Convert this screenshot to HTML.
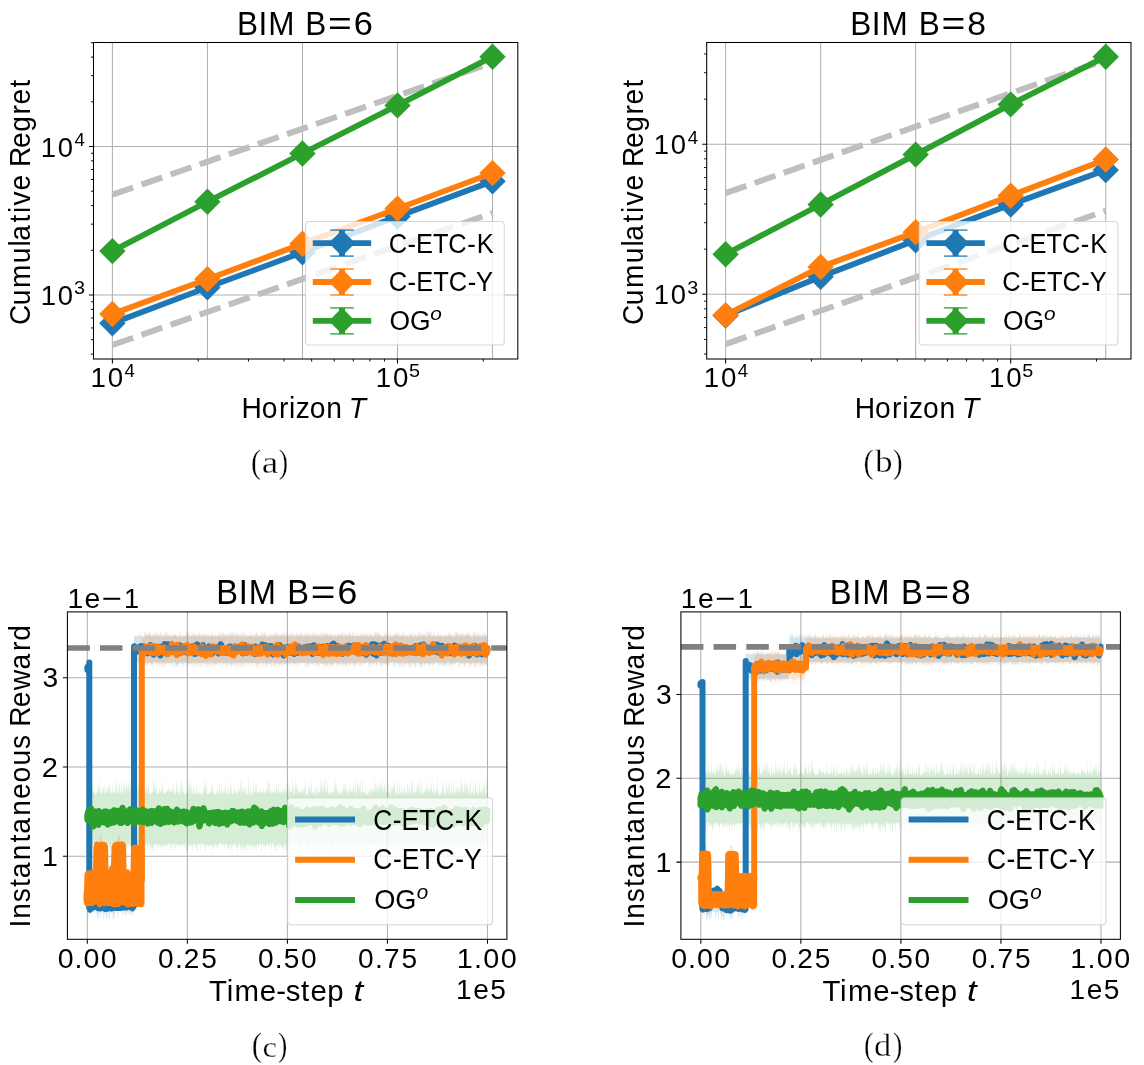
<!DOCTYPE html><html><head><meta charset="utf-8"><style>html,body{margin:0;padding:0;background:#fff;}svg{display:block;will-change:transform;}</style></head><body>
<svg width="1144" height="1065" viewBox="0 0 1144 1065">
<rect width="1144" height="1065" fill="#fff"/>
<line x1="112.4" y1="42.5" x2="112.4" y2="359" stroke="#b0b0b0" stroke-width="1.05"/>
<line x1="207.43" y1="42.5" x2="207.43" y2="359" stroke="#b0b0b0" stroke-width="1.05"/>
<line x1="302.46" y1="42.5" x2="302.46" y2="359" stroke="#b0b0b0" stroke-width="1.05"/>
<line x1="397.49" y1="42.5" x2="397.49" y2="359" stroke="#b0b0b0" stroke-width="1.05"/>
<line x1="492.52" y1="42.5" x2="492.52" y2="359" stroke="#b0b0b0" stroke-width="1.05"/>
<line x1="93.5" y1="146.5" x2="517.8" y2="146.5" stroke="#b0b0b0" stroke-width="1.05"/>
<line x1="93.5" y1="295" x2="517.8" y2="295" stroke="#b0b0b0" stroke-width="1.05"/>
<line x1="112.4" y1="194.7" x2="492.52" y2="62.7" stroke="#bfbfbf" stroke-width="6.0" stroke-dasharray="22 8.8"/>
<line x1="112.4" y1="345" x2="492.52" y2="213" stroke="#bfbfbf" stroke-width="6.0" stroke-dasharray="22 8.8"/>
<polyline points="112.4,323.3 207.43,287.4 302.46,252.4 397.49,216.5 492.52,181.3" fill="none" stroke="#1f77b4" stroke-width="5.8" stroke-linejoin="round"/>
<path d="M112.4 310.1L125.6 323.3L112.4 336.5L99.2 323.3Z" fill="#1f77b4"/>
<path d="M207.43 274.2L220.63 287.4L207.43 300.6L194.23 287.4Z" fill="#1f77b4"/>
<path d="M302.46 239.2L315.66 252.4L302.46 265.6L289.26 252.4Z" fill="#1f77b4"/>
<path d="M397.49 203.3L410.69 216.5L397.49 229.7L384.29 216.5Z" fill="#1f77b4"/>
<path d="M492.52 168.1L505.72 181.3L492.52 194.5L479.32 181.3Z" fill="#1f77b4"/>
<polyline points="112.4,314 207.43,279.1 302.46,243.8 397.49,208.6 492.52,173.1" fill="none" stroke="#ff7f0e" stroke-width="5.8" stroke-linejoin="round"/>
<path d="M112.4 300.8L125.6 314L112.4 327.2L99.2 314Z" fill="#ff7f0e"/>
<path d="M207.43 265.9L220.63 279.1L207.43 292.3L194.23 279.1Z" fill="#ff7f0e"/>
<path d="M302.46 230.6L315.66 243.8L302.46 257L289.26 243.8Z" fill="#ff7f0e"/>
<path d="M397.49 195.4L410.69 208.6L397.49 221.8L384.29 208.6Z" fill="#ff7f0e"/>
<path d="M492.52 159.9L505.72 173.1L492.52 186.3L479.32 173.1Z" fill="#ff7f0e"/>
<polyline points="112.4,251.1 207.43,201.8 302.46,153.5 397.49,105.4 492.52,56.7" fill="none" stroke="#2ca02c" stroke-width="5.8" stroke-linejoin="round"/>
<path d="M112.4 237.9L125.6 251.1L112.4 264.3L99.2 251.1Z" fill="#2ca02c"/>
<path d="M207.43 188.6L220.63 201.8L207.43 215L194.23 201.8Z" fill="#2ca02c"/>
<path d="M302.46 140.3L315.66 153.5L302.46 166.7L289.26 153.5Z" fill="#2ca02c"/>
<path d="M397.49 92.2L410.69 105.4L397.49 118.6L384.29 105.4Z" fill="#2ca02c"/>
<path d="M492.52 43.5L505.72 56.7L492.52 69.9L479.32 56.7Z" fill="#2ca02c"/>
<rect x="93.5" y="42.5" width="424.3" height="316.5" fill="none" stroke="#000" stroke-width="1.05"/>
<path d="M112.4 359v4.5M397.5 359v4.5M93.5 295h-4.5M93.5 146.5h-4.5" stroke="#000" stroke-width="1.05"/>
<path d="M198.22 359v2.6M248.43 359v2.6M284.05 359v2.6M311.68 359v2.6M334.25 359v2.6M353.34 359v2.6M369.87 359v2.6M384.45 359v2.6M483.32 359v2.6M93.5 354.09h-2.6M93.5 339.7h-2.6M93.5 327.94h-2.6M93.5 318h-2.6M93.5 309.39h-2.6M93.5 301.79h-2.6M93.5 250.3h-2.6M93.5 224.15h-2.6M93.5 205.59h-2.6M93.5 191.2h-2.6M93.5 179.44h-2.6M93.5 169.5h-2.6M93.5 160.89h-2.6M93.5 153.29h-2.6M93.5 101.8h-2.6M93.5 75.65h-2.6M93.5 57.09h-2.6M93.5 42.7h-2.6" stroke="#000" stroke-width="0.95"/>
<rect x="305.5" y="221.4" width="198.8" height="123.6" rx="3.5" fill="#fff" fill-opacity="0.8" stroke="#cccccc" stroke-opacity="0.8" stroke-width="1.05"/>
<line x1="312.8" y1="243.1" x2="371.2" y2="243.1" stroke="#1f77b4" stroke-width="5.8"/>
<path d="M342 229.9L355.2 243.1L342 256.3L328.8 243.1Z" fill="#1f77b4"/>
<line x1="342" y1="230.1" x2="342" y2="256.1" stroke="#1f77b4" stroke-width="6.0"/>
<line x1="330.2" y1="230.1" x2="353.8" y2="230.1" stroke="#1f77b4" stroke-width="1.3"/>
<line x1="330.2" y1="256.1" x2="353.8" y2="256.1" stroke="#1f77b4" stroke-width="1.3"/>
<line x1="312.8" y1="282" x2="371.2" y2="282" stroke="#ff7f0e" stroke-width="5.8"/>
<path d="M342 268.8L355.2 282L342 295.2L328.8 282Z" fill="#ff7f0e"/>
<line x1="342" y1="269" x2="342" y2="295" stroke="#ff7f0e" stroke-width="6.0"/>
<line x1="330.2" y1="269" x2="353.8" y2="269" stroke="#ff7f0e" stroke-width="1.3"/>
<line x1="330.2" y1="295" x2="353.8" y2="295" stroke="#ff7f0e" stroke-width="1.3"/>
<line x1="312.8" y1="320.9" x2="371.2" y2="320.9" stroke="#2ca02c" stroke-width="5.8"/>
<path d="M342 307.7L355.2 320.9L342 334.1L328.8 320.9Z" fill="#2ca02c"/>
<line x1="342" y1="307.9" x2="342" y2="333.9" stroke="#2ca02c" stroke-width="6.0"/>
<line x1="330.2" y1="307.9" x2="353.8" y2="307.9" stroke="#2ca02c" stroke-width="1.3"/>
<line x1="330.2" y1="333.9" x2="353.8" y2="333.9" stroke="#2ca02c" stroke-width="1.3"/>
<text transform="translate(0,34.90) scale(0.9613,1)" x="246.51 269.04 279.02 279.02 317.65" y="0" font-size="32.754" font-family='"Liberation Sans", sans-serif'>BIM B</text>
<text transform="translate(0,34.90) scale(1.2446,1)" x="263.61" y="0" font-size="32.754" font-family='"Liberation Sans", sans-serif'>=</text>
<text transform="translate(0,34.90) scale(1.0500,1)" x="336.90" y="0" font-size="32.754" font-family='"Liberation Sans", sans-serif'>6</text>
<text transform="translate(29.90,0) rotate(-90) scale(0.9787,1)" x="-332.11 -311.89 -294.26 -268.95 -251.97 -245.88 -227.44 -217.68 -210.02 -194.67 -194.67 -170.68 -151.21 -134.67 -116.88 -106.86 -89.40" y="0" font-size="28.696" font-family='"Liberation Sans", sans-serif'>Cumulative Regret</text>
<text transform="translate(0,156.50) scale(0.9601,1)" x="42.34 60.09" y="0" font-size="28.551" font-family='"Liberation Sans", sans-serif'>10</text>
<text transform="translate(74.53,146) scale(0.9804,1)" font-size="18.986" font-family='"Liberation Sans", sans-serif'>4</text>
<text transform="translate(0,305.00) scale(0.9601,1)" x="42.34 60.09" y="0" font-size="28.551" font-family='"Liberation Sans", sans-serif'>10</text>
<text transform="translate(74.11,294.32) scale(1.0726,1)" font-size="18.451" font-family='"Liberation Sans", sans-serif'>3</text>
<text transform="translate(0,387.30) scale(0.9750,1)" x="92.95 110.61" y="0" font-size="28.406" font-family='"Liberation Sans", sans-serif'>10</text>
<text transform="translate(124.43,376.9) scale(0.9804,1)" font-size="18.986" font-family='"Liberation Sans", sans-serif'>4</text>
<text transform="translate(0,387.30) scale(0.9750,1)" x="385.37 403.02" y="0" font-size="28.406" font-family='"Liberation Sans", sans-serif'>10</text>
<text transform="translate(409.11,376.71) scale(1.0575,1)" font-size="18.714" font-family='"Liberation Sans", sans-serif'>5</text>
<text transform="translate(0,418.40) scale(0.9584,1)" x="251.99 273.22 291.02 301.55 308.64 323.19 340.36" y="0" font-size="29.420" font-family='"Liberation Sans", sans-serif'>Horizon</text>
<text transform="translate(348.76,418.4) scale(0.9611,1)" font-size="29.420" font-family='"Liberation Sans", sans-serif' font-style="italic" fill="#000">T</text>
<text transform="translate(250.94,472.58) scale(0.8864,1)" font-size="34.066" font-family='"Liberation Serif", serif' stroke="#fff" stroke-width="0.35">(</text>
<text transform="translate(261.79,472.59) scale(1.2152,1)" font-size="30.833" font-family='"Liberation Serif", serif' stroke="#fff" stroke-width="0.35">a</text>
<text transform="translate(278.86,472.58) scale(0.8242,1)" font-size="34.066" font-family='"Liberation Serif", serif' stroke="#fff" stroke-width="0.35">)</text>
<text transform="translate(0,252.80) scale(0.8913,1)" x="436.08 457.17 466.69 485.74 503.02 524.11 534.81" y="0" font-size="28.551" font-family='"Liberation Sans", sans-serif'>C-ETC-K</text>
<text transform="translate(0,291.10) scale(0.9208,1)" x="422.16 442.68 451.98 470.52 487.37 507.88 516.97" y="0" font-size="27.681" font-family='"Liberation Sans", sans-serif'>C-ETC-Y</text>
<text transform="translate(389.41,329.52) scale(0.9440,1)" font-size="28.028" font-family='"Liberation Sans", sans-serif'>OG</text>
<text transform="translate(430.28,319.91) scale(1.1111,1)" font-size="18.727" font-family='"Liberation Sans", sans-serif' font-style="italic">o</text>
<line x1="725.6" y1="42.5" x2="725.6" y2="359" stroke="#b0b0b0" stroke-width="1.05"/>
<line x1="820.63" y1="42.5" x2="820.63" y2="359" stroke="#b0b0b0" stroke-width="1.05"/>
<line x1="915.66" y1="42.5" x2="915.66" y2="359" stroke="#b0b0b0" stroke-width="1.05"/>
<line x1="1010.69" y1="42.5" x2="1010.69" y2="359" stroke="#b0b0b0" stroke-width="1.05"/>
<line x1="1105.72" y1="42.5" x2="1105.72" y2="359" stroke="#b0b0b0" stroke-width="1.05"/>
<line x1="706.7" y1="144.3" x2="1131" y2="144.3" stroke="#b0b0b0" stroke-width="1.05"/>
<line x1="706.7" y1="294.3" x2="1131" y2="294.3" stroke="#b0b0b0" stroke-width="1.05"/>
<line x1="725.6" y1="193.2" x2="1105.72" y2="59.9" stroke="#bfbfbf" stroke-width="6.0" stroke-dasharray="22 8.8"/>
<line x1="725.6" y1="344.1" x2="1105.72" y2="210.8" stroke="#bfbfbf" stroke-width="6.0" stroke-dasharray="22 8.8"/>
<polyline points="725.6,315.6 820.63,276.8 915.66,240.3 1010.69,204.5 1105.72,170.1" fill="none" stroke="#1f77b4" stroke-width="5.8" stroke-linejoin="round"/>
<path d="M725.6 302.4L738.8 315.6L725.6 328.8L712.4 315.6Z" fill="#1f77b4"/>
<path d="M820.63 263.6L833.83 276.8L820.63 290L807.43 276.8Z" fill="#1f77b4"/>
<path d="M915.66 227.1L928.86 240.3L915.66 253.5L902.46 240.3Z" fill="#1f77b4"/>
<path d="M1010.69 191.3L1023.89 204.5L1010.69 217.7L997.49 204.5Z" fill="#1f77b4"/>
<path d="M1105.72 156.9L1118.92 170.1L1105.72 183.3L1092.52 170.1Z" fill="#1f77b4"/>
<polyline points="725.6,315.1 820.63,267 915.66,232.2 1010.69,195.7 1105.72,159.5" fill="none" stroke="#ff7f0e" stroke-width="5.8" stroke-linejoin="round"/>
<path d="M725.6 301.9L738.8 315.1L725.6 328.3L712.4 315.1Z" fill="#ff7f0e"/>
<path d="M820.63 253.8L833.83 267L820.63 280.2L807.43 267Z" fill="#ff7f0e"/>
<path d="M915.66 219L928.86 232.2L915.66 245.4L902.46 232.2Z" fill="#ff7f0e"/>
<path d="M1010.69 182.5L1023.89 195.7L1010.69 208.9L997.49 195.7Z" fill="#ff7f0e"/>
<path d="M1105.72 146.3L1118.92 159.5L1105.72 172.7L1092.52 159.5Z" fill="#ff7f0e"/>
<polyline points="725.6,254.2 820.63,204.5 915.66,154.6 1010.69,104.4 1105.72,56.7" fill="none" stroke="#2ca02c" stroke-width="5.8" stroke-linejoin="round"/>
<path d="M725.6 241L738.8 254.2L725.6 267.4L712.4 254.2Z" fill="#2ca02c"/>
<path d="M820.63 191.3L833.83 204.5L820.63 217.7L807.43 204.5Z" fill="#2ca02c"/>
<path d="M915.66 141.4L928.86 154.6L915.66 167.8L902.46 154.6Z" fill="#2ca02c"/>
<path d="M1010.69 91.2L1023.89 104.4L1010.69 117.6L997.49 104.4Z" fill="#2ca02c"/>
<path d="M1105.72 43.5L1118.92 56.7L1105.72 69.9L1092.52 56.7Z" fill="#2ca02c"/>
<rect x="706.7" y="42.5" width="424.3" height="316.5" fill="none" stroke="#000" stroke-width="1.05"/>
<path d="M725.6 359v4.5M1010.7 359v4.5M706.7 294.3h-4.5M706.7 144.3h-4.5" stroke="#000" stroke-width="1.05"/>
<path d="M811.42 359v2.6M861.63 359v2.6M897.25 359v2.6M924.88 359v2.6M947.45 359v2.6M966.54 359v2.6M983.07 359v2.6M997.65 359v2.6M1096.52 359v2.6M706.7 353.99h-2.6M706.7 339.45h-2.6M706.7 327.58h-2.6M706.7 317.54h-2.6M706.7 308.84h-2.6M706.7 301.16h-2.6M706.7 249.15h-2.6M706.7 222.73h-2.6M706.7 203.99h-2.6M706.7 189.45h-2.6M706.7 177.58h-2.6M706.7 167.54h-2.6M706.7 158.84h-2.6M706.7 151.16h-2.6M706.7 99.15h-2.6M706.7 72.73h-2.6M706.7 53.99h-2.6" stroke="#000" stroke-width="0.95"/>
<rect x="919.1" y="221.4" width="198.8" height="123.6" rx="3.5" fill="#fff" fill-opacity="0.8" stroke="#cccccc" stroke-opacity="0.8" stroke-width="1.05"/>
<line x1="926.4" y1="243.1" x2="984.8" y2="243.1" stroke="#1f77b4" stroke-width="5.8"/>
<path d="M955.6 229.9L968.8 243.1L955.6 256.3L942.4 243.1Z" fill="#1f77b4"/>
<line x1="955.6" y1="230.1" x2="955.6" y2="256.1" stroke="#1f77b4" stroke-width="6.0"/>
<line x1="943.8" y1="230.1" x2="967.4" y2="230.1" stroke="#1f77b4" stroke-width="1.3"/>
<line x1="943.8" y1="256.1" x2="967.4" y2="256.1" stroke="#1f77b4" stroke-width="1.3"/>
<line x1="926.4" y1="282" x2="984.8" y2="282" stroke="#ff7f0e" stroke-width="5.8"/>
<path d="M955.6 268.8L968.8 282L955.6 295.2L942.4 282Z" fill="#ff7f0e"/>
<line x1="955.6" y1="269" x2="955.6" y2="295" stroke="#ff7f0e" stroke-width="6.0"/>
<line x1="943.8" y1="269" x2="967.4" y2="269" stroke="#ff7f0e" stroke-width="1.3"/>
<line x1="943.8" y1="295" x2="967.4" y2="295" stroke="#ff7f0e" stroke-width="1.3"/>
<line x1="926.4" y1="320.9" x2="984.8" y2="320.9" stroke="#2ca02c" stroke-width="5.8"/>
<path d="M955.6 307.7L968.8 320.9L955.6 334.1L942.4 320.9Z" fill="#2ca02c"/>
<line x1="955.6" y1="307.9" x2="955.6" y2="333.9" stroke="#2ca02c" stroke-width="6.0"/>
<line x1="943.8" y1="307.9" x2="967.4" y2="307.9" stroke="#2ca02c" stroke-width="1.3"/>
<line x1="943.8" y1="333.9" x2="967.4" y2="333.9" stroke="#2ca02c" stroke-width="1.3"/>
<text transform="translate(0,34.90) scale(0.9628,1)" x="883.01 905.53 915.51 915.51 954.14" y="0" font-size="32.754" font-family='"Liberation Sans", sans-serif'>BIM B</text>
<text transform="translate(0,34.90) scale(1.2466,1)" x="755.19" y="0" font-size="32.754" font-family='"Liberation Sans", sans-serif'>=</text>
<text transform="translate(0,34.90) scale(1.0299,1)" x="939.19" y="0" font-size="32.754" font-family='"Liberation Sans", sans-serif'>8</text>
<text transform="translate(643.10,0) rotate(-90) scale(0.9787,1)" x="-332.11 -311.89 -294.26 -268.95 -251.97 -245.88 -227.44 -217.68 -210.02 -194.67 -194.67 -170.68 -151.21 -134.67 -116.88 -106.86 -89.40" y="0" font-size="28.696" font-family='"Liberation Sans", sans-serif'>Cumulative Regret</text>
<text transform="translate(0,154.30) scale(0.9601,1)" x="680.99 698.74" y="0" font-size="28.551" font-family='"Liberation Sans", sans-serif'>10</text>
<text transform="translate(687.73,143.8) scale(0.9804,1)" font-size="18.986" font-family='"Liberation Sans", sans-serif'>4</text>
<text transform="translate(0,304.30) scale(0.9601,1)" x="680.99 698.74" y="0" font-size="28.551" font-family='"Liberation Sans", sans-serif'>10</text>
<text transform="translate(687.31,293.62) scale(1.0726,1)" font-size="18.451" font-family='"Liberation Sans", sans-serif'>3</text>
<text transform="translate(0,387.30) scale(0.9750,1)" x="721.88 739.54" y="0" font-size="28.406" font-family='"Liberation Sans", sans-serif'>10</text>
<text transform="translate(737.63,376.9) scale(0.9804,1)" font-size="18.986" font-family='"Liberation Sans", sans-serif'>4</text>
<text transform="translate(0,387.30) scale(0.9750,1)" x="1014.29 1031.95" y="0" font-size="28.406" font-family='"Liberation Sans", sans-serif'>10</text>
<text transform="translate(1022.31,376.71) scale(1.0575,1)" font-size="18.714" font-family='"Liberation Sans", sans-serif'>5</text>
<text transform="translate(0,418.40) scale(0.9584,1)" x="891.79 913.02 930.82 941.35 948.44 962.99 980.16" y="0" font-size="29.420" font-family='"Liberation Sans", sans-serif'>Horizon</text>
<text transform="translate(961.96,418.4) scale(0.9611,1)" font-size="29.420" font-family='"Liberation Sans", sans-serif' font-style="italic" fill="#000">T</text>
<text transform="translate(863.62,472.58) scale(0.8979,1)" font-size="34.066" font-family='"Liberation Serif", serif' stroke="#fff" stroke-width="0.35">(</text>
<text transform="translate(874.9,472.29) scale(1.1286,1)" font-size="31.206" font-family='"Liberation Serif", serif' stroke="#fff" stroke-width="0.35">b</text>
<text transform="translate(893.03,472.58) scale(0.8468,1)" font-size="34.066" font-family='"Liberation Serif", serif' stroke="#fff" stroke-width="0.35">)</text>
<text transform="translate(0,252.80) scale(0.8913,1)" x="1124.51 1145.60 1155.12 1174.16 1191.45 1212.54 1223.23" y="0" font-size="28.551" font-family='"Liberation Sans", sans-serif'>C-ETC-K</text>
<text transform="translate(0,291.10) scale(0.9208,1)" x="1088.57 1109.09 1118.38 1136.93 1153.77 1174.29 1183.38" y="0" font-size="27.681" font-family='"Liberation Sans", sans-serif'>C-ETC-Y</text>
<text transform="translate(1003.01,329.52) scale(0.9440,1)" font-size="28.028" font-family='"Liberation Sans", sans-serif'>OG</text>
<text transform="translate(1043.88,319.91) scale(1.1111,1)" font-size="18.727" font-family='"Liberation Sans", sans-serif' font-style="italic">o</text>
<line x1="87.3" y1="611.9" x2="87.3" y2="939.3" stroke="#b0b0b0" stroke-width="1.05"/>
<line x1="187.35" y1="611.9" x2="187.35" y2="939.3" stroke="#b0b0b0" stroke-width="1.05"/>
<line x1="287.4" y1="611.9" x2="287.4" y2="939.3" stroke="#b0b0b0" stroke-width="1.05"/>
<line x1="387.45" y1="611.9" x2="387.45" y2="939.3" stroke="#b0b0b0" stroke-width="1.05"/>
<line x1="487.5" y1="611.9" x2="487.5" y2="939.3" stroke="#b0b0b0" stroke-width="1.05"/>
<line x1="67.4" y1="856.2" x2="506.9" y2="856.2" stroke="#b0b0b0" stroke-width="1.05"/>
<line x1="67.4" y1="766.95" x2="506.9" y2="766.95" stroke="#b0b0b0" stroke-width="1.05"/>
<line x1="67.4" y1="677.7" x2="506.9" y2="677.7" stroke="#b0b0b0" stroke-width="1.05"/>
<path d="M87.3 786.6l.5 5.5l.5 1.3l.5-1.2l.5-1.6l.5 3.1l.5-14.3l.5 14.4l.5-8l.5 9.1l.5-13.7l.5 12.2l.5-3.1l.5 2.3l.5-1.8l.5 2.8l.5-.1l.5 .3l.5-1.3l.5 1.7l.5-13l.5 13l.5-7l.5 4.9l.5-16.1l.5 16.8l.5-6.8l.5 8.2l.5-1.1l.5-1l.5-5.6l.5 8.2l.5-10.5l.5 8.5l.5-8.3l.5 7.8l.5 2.5l.5-1.3l.5-5.7l.5 7.1l.5-11l.5 8.6l.5-7.5l.5 9.3l.5-15.1l.5 14.4l.5-6.9l.5 6.1l.5 .6l.5-.8l.5-9.7l.5 9.8l.5 .1l.5-.1l.5 .1l.5 2.1l.5-16.1l.5 13.7l.5-14.3l.5 15.5l.5-2.3l.5 3.7l.5-11.3l.5 9.1l.5-13.6l.5 15l.5-1.9l.5 .8l.5-13.2l.5 12.2l.5 1.2l.5 .3l.5-15.9l.5 16l.5-8.8l.5 10l.5-11.9l.5 9.2l.5-12.8l.5 12.9l.5-9l.5 11l.5-13.5l.5 13.6l.5-15.1l.5 15.5l.5-15.4l.5 15.1l.5-5.1l.5 4.6l.5-11.4l.5 11.9l.5-5.5l.5 6l.5-3.5l.5 2.2l.5 .2l.5-.8l.5-3.8l.5 3.5l.5-9.3l.5 10.2l.5-15.3l.5 14.7l.5-13.3l.5 14.2l.5-8.1l.5 8.5l.5-19.3l.5 19.2l.5-2.7l.5 3.2l.5-3.2l.5 1.1l.5-10.2l.5 12.1l.5-5.2l.5 4.3l.5-10.5l.5 10.4l.5-8.6l.5 7.5l.5-10.7l.5 12.1l.5-6l.5 6l.5 0l.5 .5l.5-3.3l.5 3l.5-3.5l.5 2.7l.5-17.6l.5 17l.5-12.4l.5 12.4l.5-7.9l.5 7.4l.5-9.5l.5 10.8l.5 .8l.5-.8l.5-1.2l.5 2.3l.5-7.9l.5 5.9l.5-1.7l.5 1.8l.5-6.4l.5 8.3l.5-18.7l.5 17.9l.5-2.9l.5 1.6l.5 1.2l.5-.9l.5-.1l.5 1.1l.5-1.8l.5 .5l.5-3.4l.5 3l.5-8l.5 8.8l.5-6.5l.5 7.7l.5-5.1l.5 3.2l.5 .3l.5-.5l.5-11l.5 12.9l.5-10.1l.5 10.1l.5-4.6l.5 4.2l.5 1.4l.5-1.4l.5-17.8l.5 18.4l.5-12.8l.5 12.4l.5-1.3l.5-.1l.5 2.6l.5-.8l.5-19.1l.5 19.2l.5-15.4l.5 14.4l.5-13.3l.5 13.2l.5-3.5l.5 3.1l.5 2.1l.5-1.1l.5-4.2l.5 4.1l.5 0l.5 .7l.5-8.8l.5 8.3l.5-13.6l.5 13l.5-14.7l.5 14.3l.5-8.1l.5 9.4l.5-13.6l.5 13.7l.5 .1l.5-2.2l.5-6.1l.5 6.7l.5-6.4l.5 6.9l.5 1.6l.5-.4l.5-11.4l.5 10.3l.5-.1l.5-1.1l.5 1.1l.5 .3l.5-.1l.5-.6l.5-1.6l.5 3.4l.5 0l.5-.1l.5-1.8l.5 .7l.5-5.5l.5 4.2l.5-15.9l.5 16.4l.5-9.5l.5 9.4l.5-15.9l.5 18.3l.5-1.1l.5 .1l.5 .2l.5-.9l.5-1.7l.5 2.7l.5-3.2l.5 3.7l.5-13.2l.5 11.5l.5-8.4l.5 10.3l.5-6.6l.5 4.6l.5 .3l.5 .6l.5 1.1l.5-.1l.5-2.5l.5 1.5l.5-6.2l.5 4.7l.5-1.8l.5 4.4l.5-15.5l.5 15.4l.5-.7l.5-2l.5-10.9l.5 12.8l.5-.4l.5 .2l.5-3.7l.5 2.3l.5-3.9l.5 6.3l.5-17.9l.5 16.2l.5 .7l.5 .9l.5-7.1l.5 7.1l.5-10.7l.5 9.2l.5 1.6l.5-2.2l.5-12.2l.5 11.9l.5-9.2l.5 9.8l.5 .2l.5 1.8l.5-.5l.5-2.3l.5-8.4l.5 8.5l.5-2.3l.5 2.8l.5 1.7l.5 .1l.5-3.3l.5 2.1l.5-7.7l.5 7.9l.5-5.1l.5 4.9l.5-17.4l.5 17.7l.5-14.5l.5 15.7l.5-5.6l.5 4.1l.5-9.1l.5 10l.5-5.3l.5 3.3l.5-8.6l.5 9.6l.5 1.2l.5 .4l.5-2.5l.5 2.3l.5-19.2l.5 19.6l.5-5.4l.5 5.2l.5-11l.5 11.1l.5-.5l.5 .4l.5-3.5l.5 2l.5-13.4l.5 14.3l.5-3.1l.5 1.4l.5-11.2l.5 13.3l.5-14.7l.5 12.6l.5 .4l.5 .2l.5-.5l.5 1.7l.5-7.3l.5 6.4l.5-6.1l.5 6.1l.5-1.1l.5 .4l.5-1.5l.5 1.1l.5-5.7l.5 7.5l.5-1.2l.5 .6l.5-4.1l.5 3.7l.5-6.2l.5 8l.5-15.7l.5 15.6l.5-15.4l.5 13.2l.5-15.6l.5 16l.5 .1l.5 .6l.5-5.6l.5 5l.5-3.8l.5 3.7l.5-.5l.5 1.4l.5-7.9l.5 7.7l.5 0l.5-1.6l.5-9.5l.5 9.9l.5-2.8l.5 2.5l.5-12.5l.5 12.4l.5 .5l.5 1l.5-4.4l.5 4l.5-1.5l.5 3l.5-7.3l.5 5.7l.5-3.9l.5 2.8l.5-3.2l.5 5.3l.5-14.4l.5 13.9l.5-2.3l.5 2.8l.5-17.7l.5 15.7l.5-8.4l.5 10.5l.5-12l.5 12.1l.5-3.9l.5 3l.5-4.5l.5 5l.5-18.2l.5 18.8l.5-10.1l.5 10.5l.5-.8l.5 .3l.5-19.2l.5 17.6l.5-14.4l.5 16.5l.5-12l.5 10.8l.5-5.1l.5 4.3l.5-2.2l.5 2.8l.5-2l.5 2.3l.5-7.6l.5 8.3l.5-3.3l.5 2.5l.5-6.3l.5 5.2l.5-8.9l.5 9.6l.5-15l.5 16.1l.5-.5l.5-.1l.5-.3l.5-.2l.5-8l.5 9.3l.5-12.6l.5 11.3l.5-4.8l.5 3.7l.5-13.5l.5 15.6l.5-1.2l.5-.8l.5 .9l.5-.5l.5-2.1l.5 3.3l.5-8.2l.5 6.5l.5 2.8l.5-.5l.5-12.6l.5 11.9l.5-2.8l.5 1.1l.5-.6l.5 1.4l.5-17l.5 16.8l.5-10.5l.5 10.6l.5-12.9l.5 14.3l.5-10.1l.5 8.5l.5-14.7l.5 14.4l.5-14.8l.5 17.2l.5-5.3l.5 4.2l.5-15.8l.5 15.9l.5-2.3l.5 3.5l.5-3.9l.5 1.7l.5 2.2l.5-.4l.5-3.9l.5 2.8l.5-3.8l.5 2.8l.5 0l.5 .9l.5-12.7l.5 11.6l.5-14l.5 16.4l.5-14.4l.5 12.8l.5-4.5l.5 6.4l.5-1.9l.5-.2l.5 1.4l.5-.1l.5-2.5l.5 1.2l.5-3.1l.5 5l.5-5.2l.5 4.5l.5-12l.5 12l.5-11.4l.5 10.8l.5-15.5l.5 14.9l.5-4l.5 4.7l.5-6l.5 4.9l.5 1.1l.5 .2l.5-7.6l.5 7.6l.5-9l.5 8.8l.5-4.8l.5 4.2l.5-2.6l.5 2.9l.5-11.5l.5 12.9l.5-4.3l.5 1.9l.5-16.3l.5 16.1l.5 2.7l.5-2.2l.5-15.8l.5 15.6l.5-10.2l.5 10.9l.5-11l.5 11.3l.5-13l.5 13.2l.5-1.4l.5 2.6l.5-17.3l.5 15.3l.5 .2l.5-.4l.5-1.7l.5 2.3l.5-3.3l.5 4.6l.5-1.5l.5 1.9l.5-.5l.5 .5l.5-.7l.5-1.6l.5-6l.5 8.1l.5-8.3l.5 7.1l.5-6.5l.5 7.5l.5-6.2l.5 4.2l.5-3.2l.5 4.3l.5-16.7l.5 17.5l.5-12.5l.5 11.7l.5-13.2l.5 13.6l.5-7.9l.5 7.9l.5-15.5l.5 13.9l.5-8.3l.5 8.1l.5-10.4l.5 10.8l.5-14.8l.5 16.5l.5-18.9l.5 18.5l.5-6.9l.5 7.6l.5-15l.5 14.5l.5-11.3l.5 11.6l.5-4.4l.5 3.9l.5-1.9l.5 3l.5-14.1l.5 11.3l.5 0l.5 2.4l.5-4.6l.5 4.9l.5-11.2l.5 10.3l.5-8.4l.5 6.8l.5-13.8l.5 13.7l.5-15.5l.5 16.5l.5-6.4l.5 8.1l.5-.9l.5-.6l.5-14.7l.5 15l.5 1.3l.5-.6l.5-13.4l.5 13.5l.5-2l.5 1.6l.5-9.6l.5 8l.5-.3l.5 1l.5-7l.5 7.5l.5-8.6l.5 7.5l.5-.4l.5 1.3l.5 .5l.5-.5l.5-13.2l.5 11.7l.5-4.6l.5 6.7l.5-8.9l.5 8.7l.5-.1l.5-.4l.5-13.3l.5 12.2l.5-16.7l.5 18.3l.5-2.2l.5 3l.5-6.5l.5 4.4l.5-.6l.5 .5l.5-10.4l.5 12.3l.5-10.4l.5 8.5l.5-15.8l.5 17.8l.5-15l.5 13.2l.5-.9l.5 2.3l.5-18l.5 17.8l.5-2.9l.5 1.8l.5 .7l.5 .1l.5-3.9l.5 3.7l.5-8.8l.5 8.5l.5-4.8l.5 4l.5-13.1l.5 13l.5-4.2l.5 4.8l.5-4.5l.5 5.9l.5-10.7l.5 8.7l.5-12.3l.5 14.2l.5-2l.5 .6l.5-10.4l.5 10.1l.5 1l.5-1l.5-4.1l.5 5.9l.5-4.2l.5 2l.5-15.9l.5 18.6l.5-4.2l.5 2.3l.5 1.9l.5 .2l.5-.3l.5-2.2l.5-2.2l.5 3.8l.5-13.8l.5 13.8l.5-12.5l.5 12.4l.5-3l.5 2.9l.5-.8l.5 1.8l.5-16.5l.5 14.1l.5-4.7l.5 5.2l.5-14.4l.5 15.3l.5-11.7l.5 10.6l.5 1.6l.5 .3l.5-13.4l.5 11.7l.5-.1l.5-.3l.5-12.5l.5 14l.5-3.9l.5 4.6l.5-6.7l.5 6.7l.5-8.8l.5 7.2l.5-8l.5 9.7l.5-10.6l.5 8.5l.5 .7l.5-.2l.5-13.6l.5 14.8l.5-17.2l.5 14.9l.5-10l.5 10.3l.5-1.1l.5 1.7l.5-16.1l.5 18l.5-15.4l.5 14.8l.5-14.3l.5 13.1l.5-13.1l.5 13.8l.5-5.9l.5 4.3l.5 2.2l.5 .1l.5-18.8l.5 16.6l.5 1l.5-1.2l.5-.7l.5 .9l.5-14.9l.5 17.5l.5 .1l.5-1l.5-17.2l.5 15.8l.5-3.4l.5 3.2l.5-1.7l.5 3.3l.5-1.3l.5-.6l.5-12.2l.5 13.7l.5-2.1l.5 .6l.5-3.1l.5 5.4l.5-6l.5 4.4l.5-12.1l.5 14l.5-18.3l.5 16.6l.5 1.5l.5-2l.5-16.8l.5 16.8l.5 2.5l0 51.5l-.5-3.4l-.5 .1l-.5 .8l-.5-.9l-.5 .1l-.5 5.2l-.5-3.8l-.5-.5l-.5 0l-.5 .1l-.5-.6l-.5 10.1l-.5-10.1l-.5 6.1l-.5-5.6l-.5 5.6l-.5-5.3l-.5 1.7l-.5-2.9l-.5 4.7l-.5-4l-.5 7.1l-.5-6.5l-.5 6l-.5-7l-.5 10.2l-.5-10.7l-.5 6.8l-.5-5.6l-.5 4l-.5-5l-.5 3.2l-.5-3.1l-.5 10.1l-.5-9.9l-.5 8.4l-.5-7.4l-.5 8.5l-.5-9l-.5 0l-.5 .1l-.5 6.1l-.5-6.6l-.5 1.7l-.5-1.2l-.5 .9l-.5-1.4l-.5-.6l-.5 .4l-.5 5.3l-.5-5.7l-.5 1.7l-.5-1l-.5 6l-.5-5.7l-.5 5l-.5-5.5l-.5 4.1l-.5-4.3l-.5 6.3l-.5-6l-.5 1.7l-.5-.8l-.5 4.1l-.5-4.9l-.5 2.3l-.5-2.9l-.5 8.2l-.5-7.6l-.5 4.2l-.5-4.4l-.5 9.5l-.5-9.7l-.5 5.5l-.5-4.2l-.5 3.9l-.5-4.5l-.5 4.4l-.5-5.3l-.5 6.3l-.5-6.3l-.5 9.6l-.5-8.4l-.5-1.3l-.5 .2l-.5 4.5l-.5-4.7l-.5 4l-.5-3.1l-.5 4.7l-.5-5.5l-.5 1.8l-.5-1.7l-.5-.1l-.5 0l-.5 .3l-.5 .8l-.5 4.6l-.5-4.9l-.5 8.4l-.5-8.3l-.5 4.2l-.5-5l-.5 7.6l-.5-6.3l-.5 8.2l-.5-8.8l-.5 7.9l-.5-7.2l-.5 4.7l-.5-5.6l-.5 5.9l-.5-5.4l-.5-.4l-.5-.4l-.5 10.1l-.5-9.2l-.5 2.9l-.5-3.5l-.5 9.8l-.5-10.3l-.5 5l-.5-3.8l-.5-.1l-.5 0l-.5 3.8l-.5-4.7l-.5 10.6l-.5-10.1l-.5 5.3l-.5-5.6l-.5 8.6l-.5-9l-.5 2.8l-.5-2.3l-.5 7.8l-.5-7.8l-.5 9.7l-.5-9l-.5 4.2l-.5-4.7l-.5-.4l-.5-.5l-.5 1l-.5 .5l-.5 1.5l-.5-2l-.5 1.6l-.5-1.5l-.5 1.3l-.5-2.3l-.5 9.5l-.5-9.6l-.5 1.9l-.5-1.5l-.5 7.3l-.5-7.3l-.5 3.8l-.5-3.8l-.5 7.9l-.5-8.1l-.5 5.8l-.5-5.2l-.5-.5l-.5 .9l-.5-.8l-.5 1l-.5 .2l-.5-1.4l-.5 6.2l-.5-6.3l-.5 9l-.5-8.2l-.5 .9l-.5-1.1l-.5 3.8l-.5-2.9l-.5-.2l-.5-.2l-.5-.6l-.5 1l-.5 1.1l-.5-2l-.5 5l-.5-5.6l-.5 7.1l-.5-6.1l-.5 3.9l-.5-4.8l-.5 10.2l-.5-9.6l-.5 2.1l-.5-2.3l-.5 8.7l-.5-7.7l-.5 2l-.5-2.3l-.5 .5l-.5-.4l-.5 6l-.5-6.6l-.5 1.5l-.5-1.1l-.5 6.7l-.5-7.9l-.5 5.2l-.5-4.3l-.5 3.1l-.5-3.9l-.5 5.3l-.5-4.8l-.5-.1l-.5 0l-.5-.2l-.5-.1l-.5 7.2l-.5-6.8l-.5 4l-.5-3.9l-.5 2.3l-.5-2.9l-.5 8.5l-.5-7.6l-.5 4.6l-.5-5.3l-.5-.3l-.5 1.3l-.5 3.9l-.5-4.1l-.5 .7l-.5-1.2l-.5 1.1l-.5-.1l-.5-1.3l-.5 .1l-.5 .3l-.5-.1l-.5 3.5l-.5-3.7l-.5 6.8l-.5-5.7l-.5 8.2l-.5-9.4l-.5 .8l-.5 0l-.5-1.1l-.5 1.2l-.5-.2l-.5-.1l-.5 5.5l-.5-5.1l-.5 4.7l-.5-4.9l-.5-.7l-.5-.2l-.5 1l-.5-.3l-.5 9.8l-.5-10.4l-.5 8.9l-.5-7.8l-.5 7.7l-.5-8l-.5-1.1l-.5 .8l-.5 .8l-.5-.5l-.5 2.1l-.5-2.3l-.5 1.3l-.5-1.8l-.5-.4l-.5 .6l-.5 6.8l-.5-6.4l-.5 5.4l-.5-5.6l-.5 .3l-.5-.6l-.5 3.9l-.5-3.8l-.5 4.1l-.5-3.6l-.5 8.1l-.5-7.7l-.5 5.3l-.5-5.2l-.5 5.8l-.5-7.3l-.5 1.4l-.5-.9l-.5 0l-.5-.3l-.5 3.3l-.5-2.9l-.5 8.8l-.5-7.9l-.5 2.5l-.5-2.8l-.5 7.9l-.5-8.6l-.5 7l-.5-6l-.5-1.5l-.5 .4l-.5 2.7l-.5-2.1l-.5 9.8l-.5-9.9l-.5 5.7l-.5-5.2l-.5 5.8l-.5-6.1l-.5 1.7l-.5-2.3l-.5 0l-.5-.3l-.5-.2l-.5 1.2l-.5 6.3l-.5-7l-.5 3.4l-.5-3.5l-.5 1.8l-.5-1.6l-.5 2l-.5-2.2l-.5 .4l-.5-.9l-.5 3.2l-.5-2.8l-.5-.3l-.5 .6l-.5 8.5l-.5-8.9l-.5 3.8l-.5-2.7l-.5 1l-.5-1.5l-.5-.4l-.5 .3l-.5-.2l-.5 .8l-.5 5.5l-.5-6.1l-.5 9.2l-.5-8.9l-.5 7l-.5-7.2l-.5 1.7l-.5-1.2l-.5-1.3l-.5 .1l-.5-.1l-.5 .8l-.5-.5l-.5 1l-.5 5.1l-.5-5.4l-.5 7.5l-.5-7.5l-.5 3.9l-.5-3.7l-.5 5.4l-.5-5.8l-.5 0l-.5 .7l-.5-1.5l-.5 .8l-.5 4.6l-.5-4.7l-.5 8.8l-.5-8.1l-.5 8.1l-.5-8.7l-.5 9.3l-.5-9.6l-.5 3.5l-.5-3.8l-.5 1.3l-.5-1.1l-.5 5.6l-.5-6.1l-.5 1.4l-.5-.1l-.5 8.7l-.5-9.8l-.5 .3l-.5-.2l-.5 7.3l-.5-6.8l-.5 .9l-.5-.1l-.5 5.8l-.5-6.5l-.5 5.3l-.5-6.1l-.5 7.7l-.5-7.7l-.5 1.1l-.5-.5l-.5 10l-.5-9.7l-.5 8l-.5-8.8l-.5 .7l-.5 .5l-.5 9.2l-.5-9.7l-.5 6.6l-.5-6.8l-.5 5.6l-.5-5.3l-.5 1.8l-.5-2.5l-.5 5.6l-.5-4.4l-.5-1.2l-.5 .9l-.5 9.7l-.5-10.1l-.5 1.8l-.5-1l-.5 8l-.5-8.2l-.5 4.3l-.5-4.8l-.5 3.7l-.5-4.5l-.5 0l-.5 1.2l-.5 8.6l-.5-8.8l-.5-.8l-.5-.1l-.5 3.7l-.5-3.1l-.5 5.4l-.5-4.6l-.5-1.5l-.5 .9l-.5 2.1l-.5-3l-.5 8l-.5-7l-.5 3.2l-.5-3.7l-.5 4.1l-.5-4l-.5 .1l-.5-.5l-.5 9.8l-.5-9.3l-.5-.5l-.5 .8l-.5 2.5l-.5-2.7l-.5 4.5l-.5-4.2l-.5-.3l-.5 .2l-.5 8.3l-.5-8.6l-.5 7.3l-.5-7.8l-.5 5.4l-.5-4.4l-.5 2.1l-.5-2.3l-.5 7.5l-.5-7.9l-.5 3.1l-.5-3.5l-.5 9.7l-.5-8.5l-.5 .4l-.5-1.6l-.5 4l-.5-3.7l-.5 1.3l-.5-1.4l-.5 10.2l-.5-10.2l-.5 9.1l-.5-9.2l-.5 7.4l-.5-7.1l-.5 7.6l-.5-6.8l-.5 8.9l-.5-9.1l-.5 4.1l-.5-4.4l-.5 7.6l-.5-7.5l-.5-.1l-.5-.8l-.5 5.5l-.5-5.3l-.5 10.6l-.5-9.8l-.5 5.5l-.5-5.1l-.5 2.1l-.5-3.1l-.5 .2l-.5 .4l-.5 1.9l-.5-2.2l-.5 4.4l-.5-4.9l-.5 10l-.5-9.2l-.5 .4l-.5-1.1l-.5 8l-.5-7.4l-.5 6.3l-.5-6.5l-.5 8.5l-.5-8l-.5-.2l-.5-.4l-.5-.6l-.5 .9l-.5 7.1l-.5-7.4l-.5 1.5l-.5-2l-.5 3.3l-.5-2.7l-.5 .7l-.5-1.5l-.5 0l-.5 .1l-.5 1.7l-.5-.9l-.5 5.3l-.5-5l-.5 3.9l-.5-4.9l-.5 6.7l-.5-6.6l-.5 .8l-.5-.3l-.5 6.4l-.5-5.9l-.5 2.5l-.5-2.5l-.5 8.9l-.5-8.9l-.5 1.6l-.5-2.3l-.5 2.2l-.5-1.4l-.5 4.9l-.5-4.9l-.5 1.7l-.5-1.6l-.5 .9l-.5-1.6l-.5 3.1l-.5-2.8l-.5 9.3l-.5-9.7l-.5 3.5l-.5-4l-.5 2.2l-.5-1.1l-.5-1l-.5 1.1l-.5 .2l-.5-1.1l-.5 8.3l-.5-8.3l-.5 .4l-.5 .2l-.5 1.1l-.5-2.3l-.5 9.6l-.5-8.9l-.5 5l-.5-4.1l-.5 4.4l-.5-5l-.5-.8l-.5 .3l-.5 2.9l-.5-3l-.5 9.8l-.5-9.1l-.5 3.3l-.5-3.2l-.5 .5l-.5-.6l-.5 3l-.5-3.3l-.5 4.2l-.5-3.8l-.5 9.3l-.5-9.6l-.5 9.6l-.5-9.1l-.5-1.3l-.5 1.4l-.5 3.7l-.5-5l-.5 1.4l-.5-1l-.5 4.8l-.5-4.6l-.5 1.4l-.5-.9l-.5 3.8l-.5-4.7l-.5 5.3l-.5-5.2l-.5 1.8l-.5-.9l-.5 1.6l-.5-2.9l-.5 3.7l-.5-2.8l-.5 9l-.5-9.6l-.5 1.4l-.5-.8l-.5-.7l-.5 .6l-.5 8.8l-.5-8.1l-.5 0l-.5-1.2l-.5 9.5l-.5-9.1l-.5 .6l-.5 .2l-.5-1.4l-.5 1l-.5 1.7l-.5-1.7l-.5 1.3l-.5-2.1l-.5 4.8l-.5-4.3l-.5 5.2l-.5-5.7l-.5 1.8l-.5-.8l-.5 6.7l-.5-6.8l-.5 3.4l-.5-4.1l-.5 5.8l-.5-4.8l-.5 .6l-.5-2l-.5 5.5l-.5-5l-.5 8.1l-.5-8l-.5 0l-.5 .5l-.5 1.5l-.5-1.8l-.5 1.4l-.5-1.3l-.5 9.2l-.5-8.7l-.5 7.8l-.5-7.8l-.5 3.8l-.5-4.4l-.5 9.8l-.5-10l-.5 0l-.5-.2l-.5 4l-.5-3.6l-.5 7.6l-.5-8.2l-.5-.1l-.5 1l-.5 1.2l-.5-1.7l-.5 3.2l-.5-3.4l-.5 8.7l-.5-8.7l-.5 .9l-.5-1.3l-.5 7.8l-.5-6.5l-.5 3.2l-.5-3.1l-.5 .9l-.5-2.2l-.5 10.1l-.5-10l-.5 5.7l-.5-6.1l-.5 .9l-.5-.2l-.5 8.4l-.5-8.6l-.5 6.2l-.5-5.8l-.5 5.3l-.5-5l-.5 2.1l-.5-1.7l-.5 8.5l-.5-8.7l-.5 7.1l-.5-6.9l-.5-.9l-.5-.5l-.5 6.2l-.5-5.5l-.5 4.7l-.5-5.2l-.5 6.3l-.5-5.7l-.5 3.1l-.5-3.6l-.5 10.5l-.5-10l-.5 1.6l-.5-2.2l-.5 7.4l-.5-7.7l-.5 2.3l-.5-1l-.5 8.6l-.5-9.4l-.5 6.2l-.5-6l-.5-.1l-.5-.2l-.5 1l-.5-1.1l-.5-.2l-.5 .5l-.5-.6l-.5 .5l-.5 .7l-.5-.9l-.5 5.9l-.5-6l-.5 .6l-.5 .5l-.5 5.6l-.5-6.4l-.5 8.5l-.5-7.7l-.5 6.1l-.5-7l-.5 1.3l-.5-.9l-.5-.3l-.5-.5l-.5 2.1l-.5-1.9l-.5-.2l-.5 .6l-.5 9.2l-.5-8.7l-.5 8.2l-.5-8.2l-.5 6.5l-.5-6.5l-.5 3.4l-.5-4.6l-.5 6.3l-.5-5.2l-.5-.3l-.5 .3l-.5 .4l-.5-.5l-.5 7.3l-.5-8.1l-.5 0l-.5 .4l-.5 6.8l-.5-7.2l-.5 1.9l-.5-1.4l-.5-.7l-.5 1.6l-.5 5.9l-.5-6.1l-.5-1.2l-.5 .6l-.5 9.5l-.5-8.8l-.5-1.1l-.5 .4l-.5 8.6l-.5-8.4l-.5 3.2Z" fill="#2ca02c" fill-opacity="0.2"/>
<path d="M134.0 634.4l.5 1.7l.5 .4l.5-.5l.5-1.3l.5 1.3l.5 .4l.5 .5l.5-2.4l.5 2.3l.5-2.7l.5 2l.5-5.5l.5 6.3l.5-1.2l.5 1l.5-.5l.5 .3l.5 .3l.5 0l.5 0l.5-.3l.5-6.4l.5 6.7l.5-6.2l.5 6l.5-4.7l.5 4.2l.5-3l.5 3.1l.5-3.3l.5 3.1l.5-4.4l.5 4.9l.5-1l.5 1.3l.5-2.9l.5 2.8l.5-.8l.5 .1l.5-3.7l.5 4.1l.5-5.4l.5 5.4l.5-1.6l.5 1.4l.5-3.1l.5 3.7l.5-1.5l.5 1.1l.5-.4l.5 0l.5 .9l.5-.9l.5-6.3l.5 6.6l.5-.3l.5 .1l.5-1.7l.5 1.8l.5-.9l.5 1.5l.5-6.9l.5 7l.5-.1l.5-.7l.5-4.5l.5 5l.5-1.7l.5 1.3l.5-3.1l.5 3.2l.5-1.8l.5 1.4l.5 .5l.5-.1l.5-.3l.5 .6l.5-1.2l.5 .7l.5-2.8l.5 3.3l.5-2.9l.5 2.8l.5-2.9l.5 3.1l.5-1.8l.5 1.6l.5 .2l.5 .3l.5-3.8l.5 3.6l.5-5.4l.5 5.6l.5-1.1l.5 .4l.5 .2l.5 0l.5-1.1l.5 1.3l.5-.8l.5 0l.5-.6l.5 1.6l.5-6.6l.5 6.5l.5-4.8l.5 4.3l.5-4.2l.5 4l.5 .1l.5 .8l.5-2.5l.5 2l.5-.7l.5 .3l.5 .5l.5-.2l.5-2.7l.5 3.3l.5-5.7l.5 5.3l.5-2.3l.5 2.5l.5-2.1l.5 1.8l.5-3.4l.5 3.9l.5-2.5l.5 1.9l.5-6.4l.5 6.3l.5-3.9l.5 4.1l.5-2.5l.5 1.9l.5-1.3l.5 1.3l.5-2.8l.5 2.9l.5-2.7l.5 2.8l.5-4.9l.5 5.4l.5-1.4l.5 .7l.5-.7l.5 .9l.5 .1l.5 .2l.5-1.5l.5 1.8l.5-.9l.5 .1l.5-3.3l.5 3.9l.5-3.1l.5 2.6l.5-3.5l.5 4.4l.5-.9l.5 0l.5-2.5l.5 2.8l.5 0l.5 .5l.5-.8l.5 .6l.5-3.1l.5 3.1l.5-4.1l.5 4l.5-2.7l.5 2.1l.5 1l.5-.6l.5-4.3l.5 4.8l.5-6l.5 6.1l.5-5.6l.5 5.5l.5-2.3l.5 2.1l.5-3.2l.5 2.9l.5 .6l.5-.8l.5-2.4l.5 2.3l.5 .3l.5 .2l.5-6.6l.5 6.4l.5-2.4l.5 2.6l.5-6.2l.5 6.7l.5-7.4l.5 6.9l.5-5.3l.5 5.3l.5-5.4l.5 5.8l.5-2.4l.5 1.6l.5-6.6l.5 6.9l.5 .3l.5-.5l.5-3.5l.5 4.1l.5-.8l.5 .4l.5-.1l.5-.3l.5-6.4l.5 6.6l.5-5.2l.5 5.6l.5 0l.5-.4l.5-4.8l.5 4.8l.5 0l.5 .8l.5-3.5l.5 3.3l.5-1.3l.5 1l.5-.7l.5 .2l.5-.7l.5 1.1l.5-6.6l.5 6.4l.5-1.4l.5 1.4l.5-.1l.5 .8l.5 0l.5-.7l.5-3.6l.5 3.6l.5-3.7l.5 3.8l.5-6.2l.5 6.4l.5 0l.5 .2l.5-2l.5 1.6l.5-1.3l.5 1.5l.5-1l.5 .7l.5-5.2l.5 5.6l.5-5.2l.5 5.4l.5-7.1l.5 6.9l.5-4l.5 3.7l.5 .4l.5-.4l.5 .6l.5-.4l.5-2.8l.5 2.2l.5 .3l.5 .7l.5-4l.5 3.8l.5-3.1l.5 3.1l.5-4.3l.5 4.5l.5-3l.5 2.2l.5-5.6l.5 6.1l.5-3l.5 2.3l.5 .5l.5-.3l.5-4.1l.5 3.9l.5-1.9l.5 2.5l.5-2.9l.5 3l.5 .2l.5-.4l.5-1.6l.5 1.6l.5-4.1l.5 4.3l.5-.3l.5-.2l.5-6.1l.5 6.7l.5-3.7l.5 3.6l.5-4.3l.5 4.6l.5-6.6l.5 5.7l.5 .4l.5-.1l.5-1.1l.5 1.6l.5-5.8l.5 5.2l.5-2.9l.5 3l.5-5.6l.5 5.9l.5-2.6l.5 2.7l.5-2.4l.5 2.5l.5-1.7l.5 1.2l.5-.7l.5 .7l.5-4.9l.5 4.9l.5-2.1l.5 2.4l.5 .2l.5-.7l.5-6.2l.5 6.8l.5-4.4l.5 4l.5-5l.5 4.9l.5-.1l.5 .7l.5-1.6l.5 1.6l.5-3.7l.5 3.8l.5-4.4l.5 3.6l.5 .8l.5-.9l.5-4.8l.5 5.8l.5-3.4l.5 3.4l.5-2.9l.5 2.8l.5-3.6l.5 3.6l.5-.2l.5-.8l.5-4.6l.5 4.9l.5-4.7l.5 5.3l.5-.2l.5 0l.5-4.9l.5 4.5l.5-4.1l.5 4.4l.5-2.6l.5 2.3l.5-3l.5 3.6l.5-2.6l.5 1.7l.5-6l.5 7l.5-.4l.5 .4l.5-3l.5 2.1l.5-2.2l.5 2.8l.5-6l.5 6.1l.5-3.1l.5 2.4l.5-5.3l.5 6.2l.5-1.5l.5 1.1l.5-4.9l.5 4.6l.5-2.5l.5 2.9l.5-1.1l.5 .8l.5-4.9l.5 5.2l.5-1.1l.5 1.5l.5-.4l.5 .3l.5-2.4l.5 1.6l.5-1.4l.5 2.1l.5-.5l.5-.4l.5-2.9l.5 3.7l.5-5.7l.5 4.9l.5-2.3l.5 2.9l.5-1.7l.5 1.8l.5-5.8l.5 5.4l.5-5.8l.5 6.6l.5-.5l.5-.1l.5-3.2l.5 3.3l.5-2.7l.5 2.2l.5-2.6l.5 3.3l.5-2.7l.5 2.7l.5-3.8l.5 3.4l.5-4.1l.5 3.7l.5-1.9l.5 3l.5-3l.5 2.4l.5-4.9l.5 4.5l.5 .3l.5-.3l.5 .2l.5 .1l.5 .7l.5-1l.5-1.4l.5 2.2l.5-6.8l.5 6.9l.5-1.8l.5 1.4l.5-.8l.5 .9l.5-5.6l.5 5.8l.5-3.3l.5 3.3l.5-3.8l.5 3.7l.5-1.4l.5 1.1l.5-.6l.5 .4l.5-.3l.5 .2l.5-3.8l.5 4.6l.5-3.1l.5 3.1l.5-.7l.5 .4l.5-4.4l.5 4.1l.5-2.6l.5 3.1l.5-1.4l.5 .8l.5-2.2l.5 2.6l.5 .2l.5 .1l.5-6.7l.5 6.3l.5-6l.5 6.2l.5-3.5l.5 3.5l.5-6.1l.5 6.1l.5-3.1l.5 2.3l.5-3.9l.5 4.4l.5-1.4l.5 1.4l.5 .6l.5-.1l.5-1.3l.5 1.3l.5-1.1l.5 .7l.5-5.6l.5 5.1l.5 1l.5-.5l.5-4.1l.5 3.8l.5 .1l.5 .7l.5-1.2l.5 .8l.5-.4l.5 .6l.5-4.2l.5 4.2l.5-.7l.5 .6l.5-2.4l.5 2.5l.5-2.8l.5 1.9l.5-4.7l.5 5l.5-6.1l.5 5.9l.5-2.5l.5 2.7l.5-1.1l.5 1.3l.5-6.1l.5 6.1l.5-1.8l.5 1.7l.5-2.1l.5 2.7l.5-2l.5 1.9l.5-6.5l.5 5.9l.5-1.8l.5 2.5l.5-.3l.5 .1l.5-2.9l.5 3.1l.5-1.9l.5 1.8l.5-.2l.5 .3l.5-.4l.5-.4l.5 .1l.5 .7l.5-5.8l.5 4.8l.5-3.9l.5 4.9l.5-.5l.5 .4l.5-.2l.5-.1l.5 .3l.5-.7l.5-1.5l.5 2.2l.5-.1l.5-.3l.5-4.8l.5 4.7l.5-.5l.5 .3l.5-2.3l.5 2.5l.5-5.9l.5 5.8l.5 .3l.5-.3l.5-.7l.5 .6l.5-2.6l.5 2.9l.5 0l.5 .6l.5-7.3l.5 7.3l.5-.2l.5-.3l.5-6.4l.5 6.3l.5-6.8l.5 6.6l.5-5l.5 4.9l.5-6l.5 5.8l.5-.7l.5 1l.5-2.3l.5 2l.5-2.7l.5 3.3l.5 .4l.5-.7l.5 .8l.5-.7l.5-.6l.5 .5l.5-6.6l.5 7l.5-3.1l.5 2.9l.5-.1l.5-.1l.5-3.9l.5 3.8l.5-.2l.5 1l.5-2.1l.5 2.1l.5-1.3l.5 1.4l.5-2.3l.5 1.9l.5-1.3l.5 1.3l.5 .3l.5-.4l.5-3.8l.5 3.9l.5-3.2l.5 2.7l.5-2.3l.5 2.2l.5-4.3l.5 4.7l.5 .3l.5-.2l.5 .4l.5-1l.5 1l.5-.1l.5-.6l.5-.2l.5-5.6l.5 5.8l.5-5.3l.5 5.8l.5-6.2l.5 6.4l.5-1.5l.5 .6l.5-3.6l.5 3.5l.5-5l.5 5.9l.5-2.2l.5 1.3l.5-3.6l.5 3.8l.5 .6l.5-.8l.5-2.4l.5 3.3l.5-3.4l.5 2.6l.5-2.4l.5 2.3l.5-5.7l.5 6.2l.5-6.6l.5 6.3l.5-.4l.5 1.2l.5 0l.5-.5l.5-4.6l.5 5.1l.5-.8l.5-.2l.5-4.6l.5 5.3l.5-6.5l.5 6.4l.5-.8l.5 .9l.5-1l.5 .6l.5-1.3l.5 1.4l.5-3.3l.5 3.4l.5-2.1l.5 2.3l.5-.7l.5 1l.5-4.6l.5 4.7l.5-5l.5 4.2l.5-4.9l.5 5l.5-6.3l.5 6.6l.5-2.3l.5 2.4l.5 .3l0 27.4l-.5-1.3l-.5 3.3l-.5-3.5l-.5 5.1l-.5-5l-.5-.5l-.5-.4l-.5 6.3l-.5-5.4l-.5 1l-.5-.9l-.5 4l-.5-4.8l-.5 6l-.5-6.2l-.5-.1l-.5 .1l-.5 3.3l-.5-2.3l-.5-.7l-.5-.4l-.5 5.9l-.5-4.8l-.5 6.2l-.5-6.4l-.5-.8l-.5 .5l-.5-.3l-.5-.3l-.5 4.6l-.5-3.7l-.5 4.9l-.5-5.6l-.5 1.4l-.5-.7l-.5 6.4l-.5-6.2l-.5-.4l-.5-.4l-.5 1.5l-.5-.7l-.5 .3l-.5-.5l-.5 4.7l-.5-5.5l-.5 4.8l-.5-4.1l-.5 2.8l-.5-3.5l-.5 2.3l-.5-2.4l-.5 1.9l-.5-1.7l-.5 6.2l-.5-5.5l-.5-.8l-.5 0l-.5 1.7l-.5-1.7l-.5 0l-.5 .3l-.5 .9l-.5-.4l-.5 3.6l-.5-4.2l-.5 .9l-.5-.1l-.5 1.3l-.5-1.6l-.5 6.3l-.5-6.2l-.5 1.7l-.5-1.6l-.5 3.8l-.5-4.7l-.5 .4l-.5 .1l-.5-.1l-.5 0l-.5 3l-.5-3.5l-.5 6.1l-.5-6l-.5 5.3l-.5-4.6l-.5 4.1l-.5-4l-.5 3l-.5-3.8l-.5 .9l-.5-.4l-.5 4.7l-.5-4.7l-.5 3.2l-.5-3.1l-.5 4.1l-.5-4.1l-.5 .8l-.5-1l-.5-.1l-.5 .3l-.5-.1l-.5-.5l-.5 .4l-.5-.4l-.5 4.4l-.5-3.5l-.5-.4l-.5 .1l-.5 2.7l-.5-3.3l-.5 4.7l-.5-4l-.5 5.1l-.5-5l-.5 2.4l-.5-2.9l-.5 5.4l-.5-5.3l-.5 1.6l-.5-1.3l-.5 .6l-.5-.9l-.5 5.3l-.5-5.3l-.5 3l-.5-3.4l-.5 6.5l-.5-6.5l-.5 7.2l-.5-6.9l-.5 5.1l-.5-4.6l-.5 1.4l-.5-1.7l-.5 .1l-.5 0l-.5 5.9l-.5-6.3l-.5-.3l-.5 .9l-.5 3.7l-.5-4.3l-.5 6.1l-.5-6l-.5 1l-.5-1.3l-.5 .8l-.5-.1l-.5 1.5l-.5-2.1l-.5 6.6l-.5-6.6l-.5 6.3l-.5-6.3l-.5 6.1l-.5-5.6l-.5 2.3l-.5-2.4l-.5-.6l-.5 .1l-.5 2.8l-.5-2.5l-.5 .9l-.5-.3l-.5 5.9l-.5-6.6l-.5 1.3l-.5-1.5l-.5 4.8l-.5-4.8l-.5 2.5l-.5-1.8l-.5 6l-.5-5.9l-.5 4.8l-.5-4.7l-.5 1.5l-.5-2.3l-.5 2.6l-.5-2.8l-.5 .1l-.5 .2l-.5 .6l-.5-.6l-.5 4.4l-.5-4.2l-.5-.3l-.5 0l-.5 4.3l-.5-4.4l-.5 0l-.5 .4l-.5-.1l-.5 .3l-.5 4.3l-.5-4.5l-.5 4.7l-.5-4.6l-.5-.3l-.5 .4l-.5 1.8l-.5-1.4l-.5 1.6l-.5-2.2l-.5 3.5l-.5-3.3l-.5 5l-.5-5.4l-.5 2.8l-.5-3l-.5 6.9l-.5-6.7l-.5 1.4l-.5-1.1l-.5 1.2l-.5-1.5l-.5 0l-.5-.3l-.5 4.3l-.5-3.8l-.5 4.7l-.5-5.1l-.5 .4l-.5 .6l-.5-.4l-.5-.1l-.5 4.3l-.5-4.6l-.5 2.1l-.5-1.9l-.5-.2l-.5 .8l-.5 4.7l-.5-5.2l-.5 6.7l-.5-6.6l-.5-.7l-.5 .1l-.5 1l-.5-1.1l-.5 .8l-.5-.4l-.5 2.7l-.5-2.1l-.5 0l-.5 .1l-.5-1l-.5 .7l-.5 4.3l-.5-4.2l-.5-.8l-.5 .9l-.5-.4l-.5-.4l-.5 5.2l-.5-4.6l-.5 0l-.5-.1l-.5 .5l-.5-.9l-.5 3.9l-.5-4.2l-.5 4.2l-.5-3.2l-.5 6l-.5-6.3l-.5 2.4l-.5-2.2l-.5 .7l-.5-1l-.5 2.3l-.5-2.7l-.5 2.8l-.5-2.6l-.5 2.2l-.5-2.5l-.5 1l-.5-.8l-.5 6l-.5-5.7l-.5 3.9l-.5-3.8l-.5 2.5l-.5-2.2l-.5 2.8l-.5-3.6l-.5 4.7l-.5-4l-.5-.6l-.5-.2l-.5 3.1l-.5-2.5l-.5-.1l-.5 .3l-.5 4.8l-.5-5.2l-.5 2.7l-.5-2.7l-.5 3.3l-.5-3.3l-.5-.5l-.5 .1l-.5 3.8l-.5-3.4l-.5 2.6l-.5-2.6l-.5 2.7l-.5-3.1l-.5 5.4l-.5-4.8l-.5 4.2l-.5-4.2l-.5 2l-.5-2.6l-.5 2l-.5-1.3l-.5 6.2l-.5-5.9l-.5 3.1l-.5-4.1l-.5 2l-.5-1l-.5 5.8l-.5-6.2l-.5 .9l-.5-1.1l-.5 1.7l-.5-1.6l-.5 2.1l-.5-2l-.5 2.1l-.5-2.5l-.5 .7l-.5 0l-.5 4.2l-.5-5.1l-.5 6.4l-.5-5.7l-.5 2.4l-.5-2.6l-.5 6.2l-.5-5.9l-.5-.1l-.5-.2l-.5 .7l-.5-.4l-.5 4.2l-.5-4.1l-.5 3.4l-.5-4.2l-.5 2.6l-.5-2.3l-.5 .1l-.5 .5l-.5 6.4l-.5-6.8l-.5 5.1l-.5-5.1l-.5 0l-.5-.6l-.5 5.1l-.5-5.1l-.5 7.1l-.5-7l-.5 .3l-.5 .5l-.5 .3l-.5-.5l-.5 .5l-.5-.8l-.5 .4l-.5-.9l-.5 .6l-.5 .5l-.5 2.3l-.5-3.4l-.5 2l-.5-1.4l-.5-.1l-.5 .4l-.5 5.8l-.5-6.1l-.5 3.5l-.5-4l-.5 3l-.5-2.9l-.5 1.8l-.5-2l-.5 .1l-.5 .1l-.5 1.1l-.5-.3l-.5 4.6l-.5-5.2l-.5 .6l-.5-.7l-.5 2.4l-.5-2.5l-.5 .6l-.5-.2l-.5 4.5l-.5-4.5l-.5 2.9l-.5-2.4l-.5 .7l-.5-1.1l-.5 .6l-.5-1.2l-.5 1.1l-.5-.3l-.5 2.5l-.5-2.5l-.5 6.1l-.5-6.4l-.5 1.7l-.5-2.1l-.5 5.2l-.5-5.3l-.5 .4l-.5 .3l-.5 1.2l-.5-1l-.5 4.9l-.5-5.3l-.5 5l-.5-4.6l-.5-.7l-.5 .3l-.5 .3l-.5-.1l-.5 4.5l-.5-4.2l-.5 4.4l-.5-4.5l-.5 .6l-.5-.8l-.5 2.1l-.5-2l-.5 4.1l-.5-4.1l-.5 1l-.5-1.8l-.5 6.3l-.5-6.2l-.5 2.2l-.5-1.4l-.5 4.7l-.5-5.6l-.5 .7l-.5 .1l-.5 .9l-.5-1.7l-.5 1.6l-.5-1.6l-.5 1.4l-.5-.7l-.5 3.9l-.5-3.7l-.5 6.2l-.5-7l-.5 5l-.5-4.6l-.5 .4l-.5-.3l-.5 .9l-.5-.6l-.5-.1l-.5 0l-.5 2.6l-.5-2.4l-.5-.2l-.5-.7l-.5 .6l-.5 .2l-.5 3.7l-.5-4.3l-.5 1.4l-.5-1l-.5 .6l-.5-1l-.5 5.8l-.5-6.1l-.5 0l-.5-.1l-.5 6.7l-.5-5.6l-.5 1.9l-.5-3l-.5 1.6l-.5-1.1l-.5 5.6l-.5-5.6l-.5 4.6l-.5-4.6l-.5-.3l-.5 .9l-.5 1.6l-.5-2.6l-.5 6.8l-.5-6.2l-.5 1.2l-.5-1.8l-.5 4.6l-.5-4.4l-.5 3.9l-.5-4.1l-.5 1.5l-.5-.5l-.5 3.9l-.5-4l-.5 5.5l-.5-6.3l-.5 3.3l-.5-3.4l-.5 1.1l-.5-.6l-.5 5.2l-.5-5.7l-.5 .6l-.5 .3l-.5 4.3l-.5-5.1l-.5 .5l-.5 .2l-.5 1.7l-.5-2.2l-.5 4.1l-.5-4.1l-.5-.4l-.5 .7l-.5 4.2l-.5-4.3l-.5 0l-.5-.2l-.5 3.2l-.5-3.5l-.5 .7l-.5-.4l-.5 1.9l-.5-1.4l-.5 1.9l-.5-1.8l-.5 1.1l-.5-1.5l-.5 3l-.5-3.3l-.5 1.5l-.5-1.4l-.5 6.1l-.5-6.1l-.5-.3l-.5 .4l-.5-.3l-.5 .3l-.5 5.6l-.5-6l-.5 2.2l-.5-1.6l-.5 4.6l-.5-4.8l-.5 5.9l-.5-6l-.5 2.2l-.5-2.2l-.5 0l-.5 .6l-.5 5.4l-.5-5.3l-.5 .3l-.5-1l-.5 .1l-.5 .2l-.5 5.9l-.5-6.3l-.5 1.2l-.5-1.4l-.5 6.4l-.5-5.6l-.5 1.3l-.5-1.2l-.5 3.1l-.5-3.8l-.5 6.6l-.5-6.2l-.5-.6l-.5 .6l-.5 3.6l-.5-4.1l-.5 1.8l-.5-1l-.5 4.4l-.5-4.8l-.5 .8l-.5-.5l-.5 1.2l-.5-1.1l-.5 .2l-.5-.5l-.5 4.2l-.5-4.8l-.5 6.7l-.5-6.3l-.5 1.1l-.5-1.5l-.5 .1l-.5 .5l-.5 3.3l-.5-2.9l-.5 1.8l-.5-2.3l-.5 .7l-.5-1.1l-.5 2.8l-.5-2.1l-.5 .7l-.5-.7l-.5 4.6l-.5-4.6l-.5 5.6l-.5-6l-.5 6.7l-.5-6.9l-.5 1.3l-.5-1.2l-.5 4.8l-.5-5.1l-.5 0l-.5 .4l-.5 6l-.5-6.2l-.5 1l-.5-.3l-.5 .5l-.5-1.1l-.5 2.3l-.5-1.7l-.5-.9l-.5 .7l-.5 2.3l-.5-2.5l-.5-.6l-.5 .5l-.5 4.2l-.5-4.3l-.5 .4l-.5-.4l-.5 5l-.5-4.7l-.5 6.7l-.5-7.2l-.5 .5l-.5-.4l-.5-.2l-.5 .4l-.5 2.9l-.5-3.2l-.5 2l-.5-2.1l-.5 .4l-.5 .5l-.5 .7l-.5-.9l-.5-.7l-.5 .5l-.5 0l-.5 .3l-.5 4.1l-.5-3.9l-.5 2.1l-.5-2.3l-.5 3.7l-.5-4.1l-.5-.2l-.5 .3l-.5 1.1l-.5-1.4l-.5 .7l-.5-.5l-.5 2.1l-.5-2.3l-.5 0l-.5 .1l-.5 4l-.5-3.6l-.5 2l-.5-1.9l-.5 1.9l-.5-1.9l-.5 1.1l-.5-1.3l-.5 3.2l-.5-2.8l-.5 2.8l-.5-2.9l-.5-.6l-.5-.1l-.5 1.7l-.5-1.8l-.5 2.1l-.5-2l-.5 .4l-.5-.7l-.5 2.8l-.5-2.2l-.5 2Z" fill="#1f77b4" fill-opacity="0.2"/>
<path d="M141.8 631.2l.5 4.9l.5-1.7l.5 2.3l.5-.2l.5-.6l.5-4.7l.5 5l.5-.4l.5 .3l.5 0l.5 .2l.5 0l.5 .2l.5-3.5l.5 3.2l.5-5.9l.5 5.6l.5-4.2l.5 5.2l.5-2.1l.5 1.4l.5-5.4l.5 6.2l.5-2.3l.5 1.2l.5-5.7l.5 5.8l.5 .3l.5 .3l.5-6.4l.5 5.8l.5-6.1l.5 6.3l.5-4l.5 4.5l.5-4.5l.5 4.5l.5-5.7l.5 5.3l.5-.8l.5 1.3l.5-.3l.5 .3l.5-6.5l.5 6.3l.5-3.2l.5 3.4l.5-6.3l.5 5.4l.5-2.1l.5 2.1l.5-6.1l.5 6.4l.5 .2l.5-.1l.5-.1l.5-.2l.5-5.5l.5 6.3l.5-1.7l.5 1.1l.5-.4l.5 .3l.5-2.2l.5 2.4l.5-2l.5 1.8l.5-4.6l.5 4.6l.5-1.1l.5 1.6l.5-.8l.5 .2l.5 .5l.5 .1l.5 .3l.5-.6l.5-6.4l.5 6.5l.5 .5l.5-.3l.5-4l.5 4.2l.5-3l.5 2.8l.5 .3l.5-.8l.5-.6l.5 1.3l.5-4.1l.5 3.8l.5-1.2l.5 1.6l.5-7.3l.5 6.7l.5-1.9l.5 1.9l.5-2l.5 1.8l.5-5.3l.5 5.9l.5-6.5l.5 6.5l.5-3.9l.5 3.1l.5-3.6l.5 4.6l.5-3.9l.5 3l.5 .8l.5 0l.5-2.2l.5 2l.5-6.9l.5 7.2l.5-.7l.5 .1l.5 .3l.5-.3l.5-3.4l.5 3.5l.5-1.8l.5 1.9l.5-1.6l.5 1.7l.5-1.5l.5 1.6l.5-.5l.5 .2l.5-3.3l.5 3.3l.5-2.5l.5 2.2l.5-5.8l.5 6.6l.5-2.2l.5 1.8l.5 .1l.5 0l.5-2l.5 2.4l.5-2.5l.5 2.4l.5-2.2l.5 2.1l.5-.2l.5 .3l.5-3.1l.5 3.2l.5-2.3l.5 2.2l.5-4.5l.5 3.9l.5 0l.5 .3l.5-4.5l.5 4.8l.5-5.6l.5 5l.5-6.2l.5 6.2l.5 .6l.5-.4l.5-4.1l.5 4.1l.5-1.6l.5 1.8l.5-4.3l.5 4.4l.5-5.1l.5 5l.5-3.4l.5 2.7l.5-2.8l.5 2.8l.5 .7l.5-.3l.5-3.7l.5 4.1l.5-4.5l.5 4l.5-2l.5 1.8l.5 .9l.5-1l.5 .7l.5-.6l.5 .2l.5 .7l.5-3.8l.5 3.2l.5-4.5l.5 4.1l.5-1.8l.5 2.2l.5-3.2l.5 3.4l.5-5.2l.5 4.7l.5 .2l.5-.1l.5-.2l.5 .7l.5-3.3l.5 3.1l.5-3.2l.5 3.4l.5-4.9l.5 5.1l.5 .1l.5-.2l.5-2.9l.5 2.1l.5-.8l.5 1.7l.5-7.3l.5 6.6l.5-.7l.5 1.2l.5-.3l.5 .5l.5-4.8l.5 4.8l.5-4.4l.5 4l.5-3.6l.5 3.7l.5-.1l.5 .5l.5-5.9l.5 5l.5 .4l.5 .2l.5-2.4l.5 1.6l.5-.9l.5 1.4l.5 .6l.5-.1l.5-5l.5 4.5l.5 .4l.5-.6l.5-.1l.5-.1l.5-6.4l.5 6.3l.5 .3l.5 .1l.5-5.6l.5 5.6l.5 .5l.5-.1l.5-4.2l.5 4.1l.5-.3l.5 .1l.5-5.5l.5 5.3l.5-.5l.5 1.1l.5-.2l.5 .1l.5-3.5l.5 2.8l.5-.4l.5 .6l.5-6.2l.5 6.6l.5-5l.5 4.3l.5-.1l.5 .6l.5-5.7l.5 6.1l.5-.1l.5-.4l.5-3.1l.5 2.8l.5-3.4l.5 3.4l.5-2.2l.5 2.5l.5-5.1l.5 5.3l.5-1.8l.5 1.5l.5 .6l.5-.3l.5-.1l.5 .1l.5 .5l.5-.1l.5-3.2l.5 3l.5-4.5l.5 4.2l.5-2.3l.5 1.9l.5 .8l.5-.9l.5 .8l.5 .2l.5-7l.5 6.9l.5-2.5l.5 2.3l.5-1l.5 .8l.5-5.8l.5 5.9l.5-3.6l.5 3l.5-1.6l.5 2.3l.5-2.5l.5 2l.5-3.7l.5 3.5l.5-.7l.5 .7l.5-1l.5 2.1l.5-4.2l.5 3.1l.5-.1l.5 .2l.5-5l.5 5.6l.5-5.1l.5 5.1l.5-3.7l.5 3.5l.5-.4l.5 .5l.5-1.8l.5 2.2l.5-6.2l.5 6l.5-1.4l.5 .6l.5-1.2l.5 1.9l.5-5.6l.5 5.6l.5-6.6l.5 6.5l.5-1.6l.5 1.7l.5-1.2l.5 .5l.5-1.8l.5 2.8l.5-.2l.5-.6l.5-5.6l.5 5.4l.5 .9l.5-.1l.5-5.6l.5 5l.5-4.9l.5 5.6l.5-5.1l.5 4.5l.5-5.8l.5 6.1l.5-3.8l.5 4.1l.5-4.9l.5 5.1l.5-6.1l.5 5.3l.5-.9l.5 1.5l.5-2.6l.5 2l.5-6l.5 5.7l.5-2.3l.5 3.1l.5-.2l.5-.3l.5-3l.5 3.6l.5-3.1l.5 2.9l.5-5.2l.5 5.5l.5-.8l.5 .7l.5-2.7l.5 2.5l.5-3.4l.5 3.3l.5-1.4l.5 1.1l.5-2.8l.5 3.5l.5-2l.5 1.4l.5-3.3l.5 3.5l.5-.3l.5-.1l.5-2.4l.5 2.6l.5-5.5l.5 6.1l.5-.4l.5-.3l.5 .4l.5 .4l.5-7.3l.5 7.2l.5-6.1l.5 5.1l.5-1.1l.5 1.5l.5 .3l.5-.7l.5-5.4l.5 6.2l.5 0l.5-.6l.5-6.6l.5 7.3l.5-6.3l.5 5.5l.5 0l.5 .8l.5-.7l.5 .6l.5-2.1l.5 2.2l.5-1.5l.5 1.1l.5-3.2l.5 2.7l.5 .4l.5-.3l.5-.2l.5 1l.5-6.2l.5 5.8l.5-4.1l.5 3.7l.5-4.3l.5 4.5l.5-1l.5 1.4l.5-2.7l.5 2.7l.5-.5l.5 .1l.5-4.6l.5 4.4l.5-3.3l.5 3.7l.5-1.4l.5 1.5l.5-5.3l.5 5l.5 .4l.5-.3l.5-5.8l.5 5.5l.5-1.1l.5 1.2l.5-5.1l.5 5.3l.5-5.6l.5 6.1l.5-6.7l.5 5.9l.5-1.3l.5 1.4l.5-2.2l.5 2.2l.5-.8l.5 1l.5 .5l.5-.9l.5-3.7l.5 3.8l.5-3.4l.5 3.6l.5-5.7l.5 5.4l.5-1l.5 1.8l.5-4.9l.5 4.7l.5-7l.5 6.9l.5 .2l.5 .4l.5-5.2l.5 4.8l.5-1l.5 .6l.5-.4l.5 .8l.5-1.7l.5 1.2l.5-4l.5 3.9l.5-.4l.5 .3l.5-2.3l.5 3l.5-6.5l.5 6.7l.5-6.9l.5 7.1l.5-.7l.5 .1l.5-.8l.5 .6l.5-3l.5 3.5l.5-2.4l.5 2.7l.5-6.6l.5 6.5l.5-1.6l.5 .7l.5-2.2l.5 2.6l.5-3.7l.5 3.5l.5-.9l.5 1.6l.5-3.9l.5 3.5l.5-3.5l.5 2.9l.5-2.5l.5 3.4l.5-1.6l.5 .8l.5-.3l.5 1l.5-6.7l.5 6.5l.5-4.1l.5 3.5l.5-5l.5 6.1l.5-3.1l.5 2.3l.5 .2l.5 .4l.5-5.2l.5 4.6l.5-6.5l.5 7.2l.5-.1l.5-.9l.5-3.7l.5 4.7l.5-4.3l.5 3.7l.5-3.9l.5 3.7l.5-4.1l.5 4.4l.5-1.5l.5 1.9l.5-7.1l.5 6.8l.5-.9l.5 .7l.5-3.8l.5 3.8l.5-5.6l.5 5.6l.5-1.4l.5 2l.5-.4l.5-.1l.5-.7l.5 1.1l.5-5.7l.5 5.4l.5-4.5l.5 4l.5 .8l.5-.9l.5-2.4l.5 3.1l.5-2.5l.5 2.6l.5-1.5l.5 1.1l.5-.2l.5 .4l.5-1l.5 .6l.5-.3l.5 .4l.5 .8l.5-.5l.5-2.3l.5 2.3l.5-2.7l.5 2.2l.5-2.2l.5 2.3l.5-4.1l.5 4.8l.5-1.4l.5 1.4l.5-5.2l.5 5.3l.5-6l.5 5.5l.5-1.9l.5 1.9l.5-2.7l.5 2.6l.5-2.7l.5 3.1l.5-6.2l.5 5.8l.5-6.8l.5 7.4l.5-6.8l.5 6.2l.5-3.8l.5 3.4l.5 .9l.5 0l.5-3.4l.5 3.3l.5 .3l.5-.3l.5-4.3l.5 3.8l.5 .7l.5-.3l.5-5.7l.5 5.4l.5-3.3l.5 2.9l.5-.7l.5 1.7l.5-3.9l.5 3.3l.5-2.7l.5 2.3l.5-3.4l.5 4.4l.5-4.2l.5 4.2l.5-3.5l.5 3l.5 .6l.5-.2l.5-2.2l.5 2l.5-.1l.5-.2l.5-6.3l.5 7l.5-5.3l.5 4.9l.5-1l.5 .5l.5-5.9l.5 5.7l.5-5.8l.5 6.8l.5 .1l.5-.8l.5-4.5l.5 5.1l.5-3.4l.5 2.9l.5-1.4l.5 1.9l.5-1.6l.5 1.5l.5 .3l.5-.3l.5-.9l.5 .4l.5-3.4l.5 3.4l.5-.7l0 32.3l-.5-5.3l-.5-.2l-.5 .6l-.5 0l-.5-.1l-.5 4.8l-.5-5.4l-.5 4.8l-.5-4.7l-.5 2.5l-.5-2.5l-.5 5.9l-.5-5.9l-.5 5.4l-.5-5.1l-.5 4l-.5-4.2l-.5-.3l-.5 .7l-.5 6l-.5-5.8l-.5 1.4l-.5-1.9l-.5 2.6l-.5-2.5l-.5 5.3l-.5-5.8l-.5 2l-.5-1.5l-.5 2.5l-.5-2.7l-.5 3.4l-.5-2.9l-.5 1.6l-.5-1.4l-.5-.6l-.5-.1l-.5 1.3l-.5-1.6l-.5 2l-.5-1.3l-.5-.7l-.5 .5l-.5 5l-.5-4.7l-.5-.8l-.5 .6l-.5 .5l-.5-.9l-.5 2.4l-.5-1.9l-.5 .1l-.5-.2l-.5 2.7l-.5-3.2l-.5 7.1l-.5-6.3l-.5-.1l-.5-.8l-.5 .2l-.5 .7l-.5-.9l-.5 .8l-.5 1.2l-.5-1.6l-.5 2.4l-.5-2.6l-.5 4.4l-.5-4.6l-.5 3.1l-.5-3l-.5 .2l-.5 0l-.5 6.4l-.5-6l-.5 4.6l-.5-5l-.5 .3l-.5-.4l-.5 .7l-.5-.1l-.5 2.9l-.5-3.5l-.5 2.9l-.5-2.6l-.5 .4l-.5-.4l-.5 5.3l-.5-5.6l-.5 2.1l-.5-2.1l-.5 .6l-.5 0l-.5 2.7l-.5-3.3l-.5-.2l-.5 .4l-.5 3.1l-.5-3.3l-.5 .7l-.5-.3l-.5 6.3l-.5-6.8l-.5 1.3l-.5-.9l-.5 4.9l-.5-4.7l-.5 4.6l-.5-5l-.5 1.2l-.5-1.4l-.5 1.6l-.5-1.5l-.5 .4l-.5 .3l-.5 1.4l-.5-1.6l-.5 .1l-.5 0l-.5 1.4l-.5-1.7l-.5 2.6l-.5-2.9l-.5 3.6l-.5-3.8l-.5 0l-.5 .9l-.5 .3l-.5-1l-.5 4.9l-.5-4.3l-.5 6.6l-.5-7.4l-.5 5.6l-.5-4.9l-.5 1.4l-.5-1.5l-.5-.1l-.5-.1l-.5 1.1l-.5-1.3l-.5 6.4l-.5-6l-.5 4.6l-.5-4.8l-.5 5.2l-.5-4.7l-.5 2.4l-.5-2.7l-.5-.4l-.5 .1l-.5 2l-.5-2.1l-.5 3.3l-.5-2.9l-.5 .9l-.5-1.6l-.5 1.6l-.5-.9l-.5 5.5l-.5-6l-.5 1.5l-.5-.6l-.5 1.3l-.5-1.4l-.5 4.1l-.5-4.9l-.5 7l-.5-7.1l-.5 .7l-.5 .2l-.5 2.8l-.5-3.4l-.5-.2l-.5-.1l-.5 .3l-.5-.4l-.5 6.1l-.5-6l-.5-.1l-.5 .1l-.5 4.8l-.5-4.2l-.5 5.6l-.5-5.6l-.5 5.5l-.5-6.1l-.5 1l-.5-.5l-.5 .7l-.5-.3l-.5-.9l-.5 1l-.5-.1l-.5-.8l-.5 4.1l-.5-3.7l-.5 5.8l-.5-5.4l-.5 3.1l-.5-4.1l-.5 5.1l-.5-4.6l-.5 1.5l-.5-1.4l-.5-.4l-.5 .6l-.5-.6l-.5 .9l-.5 4.7l-.5-5.3l-.5 3.9l-.5-4.2l-.5 3.5l-.5-3.5l-.5-.1l-.5 .8l-.5 1.8l-.5-1.9l-.5 5.6l-.5-5.5l-.5-.5l-.5 0l-.5 3l-.5-3.3l-.5 2.8l-.5-1.8l-.5-1l-.5 .5l-.5 3.4l-.5-3.9l-.5 4.4l-.5-4.2l-.5 .7l-.5-.6l-.5 .1l-.5 .6l-.5 0l-.5-.5l-.5-.3l-.5 .4l-.5-.6l-.5 .8l-.5 1.4l-.5-1.8l-.5 .4l-.5 0l-.5 2.9l-.5-3.2l-.5 2.7l-.5-2.3l-.5 6.1l-.5-6.1l-.5 5.6l-.5-6.4l-.5 .1l-.5 .2l-.5 4l-.5-4.4l-.5 3l-.5-2.9l-.5 7.3l-.5-6.5l-.5 6.2l-.5-6.9l-.5 1.8l-.5-1.2l-.5 4.1l-.5-4.9l-.5 0l-.5 .7l-.5 5.5l-.5-6.1l-.5 6l-.5-5.7l-.5 5.9l-.5-5.9l-.5-.2l-.5 .5l-.5 5.5l-.5-6.1l-.5 5.5l-.5-5l-.5 .7l-.5-1.4l-.5 7.2l-.5-7.1l-.5 3.2l-.5-2.3l-.5 2.2l-.5-2.2l-.5 2.9l-.5-3.7l-.5 3.5l-.5-2.8l-.5 2.5l-.5-3l-.5-.4l-.5 .6l-.5 6.3l-.5-6.1l-.5 1.4l-.5-1.6l-.5 .8l-.5-.6l-.5 3.1l-.5-2.8l-.5 4l-.5-4l-.5 .2l-.5-.6l-.5 5.5l-.5-5.7l-.5 6.1l-.5-5.8l-.5-.1l-.5-.1l-.5 4.2l-.5-3.8l-.5 3.8l-.5-4.3l-.5 3.2l-.5-2.6l-.5 5l-.5-5.1l-.5 5l-.5-5.4l-.5 3.2l-.5-3.4l-.5 2l-.5-1.5l-.5 1.7l-.5-2.1l-.5 .9l-.5-.4l-.5 6.1l-.5-6.3l-.5 .3l-.5-.3l-.5-.4l-.5 .1l-.5 3.3l-.5-2.9l-.5 3.9l-.5-4.3l-.5 1l-.5-1l-.5 1.2l-.5-1.5l-.5 2l-.5-1.1l-.5 1.4l-.5-1.8l-.5-.3l-.5 0l-.5 3.3l-.5-3.5l-.5 2.5l-.5-1.6l-.5 2l-.5-2.9l-.5 .5l-.5 .4l-.5 1.9l-.5-2.9l-.5 .8l-.5-.3l-.5 .1l-.5-.3l-.5 2.2l-.5-2.4l-.5 .4l-.5 .2l-.5 5.3l-.5-5.4l-.5-.6l-.5 .8l-.5 4.4l-.5-5.1l-.5 1l-.5-.1l-.5 1.8l-.5-2.4l-.5 2.2l-.5-1.9l-.5 1.5l-.5-2.2l-.5 6l-.5-5.2l-.5 1.8l-.5-1.8l-.5-.8l-.5 .4l-.5 6l-.5-5.7l-.5 2.5l-.5-2.5l-.5 3.2l-.5-3.5l-.5 2.3l-.5-2.5l-.5 2.9l-.5-2.9l-.5 2l-.5-2.1l-.5 5.2l-.5-5.3l-.5 3.1l-.5-2.8l-.5 5.8l-.5-5.5l-.5 .7l-.5-1.1l-.5 3.1l-.5-3.3l-.5 4.3l-.5-3.5l-.5 1.3l-.5-1.7l-.5 4.3l-.5-4.4l-.5 1.9l-.5-2.1l-.5 3.8l-.5-3.3l-.5-.4l-.5-.3l-.5 3.9l-.5-3.9l-.5 5.7l-.5-4.6l-.5 1.4l-.5-2l-.5 1.6l-.5-1.6l-.5 1l-.5-.4l-.5 1.6l-.5-2.3l-.5 6.5l-.5-6.3l-.5 0l-.5 .4l-.5-.8l-.5 .4l-.5 3.9l-.5-3.5l-.5-.2l-.5-.5l-.5 1.2l-.5-.7l-.5 5.4l-.5-5.2l-.5 3.7l-.5-4.3l-.5 2.4l-.5-2.1l-.5-.3l-.5-.3l-.5 7.2l-.5-7l-.5 4.9l-.5-4.5l-.5-.7l-.5 .6l-.5 6.5l-.5-7l-.5 1.1l-.5-.7l-.5 5.7l-.5-5.2l-.5-.8l-.5-.1l-.5 2.3l-.5-1.7l-.5 1l-.5-.9l-.5 .2l-.5-.4l-.5 6l-.5-6.4l-.5-.2l-.5 1l-.5 .4l-.5-.3l-.5 2.6l-.5-2.8l-.5-.2l-.5 .2l-.5 6.6l-.5-6.5l-.5-.1l-.5-.8l-.5 3l-.5-3l-.5 0l-.5 .8l-.5 4.5l-.5-5.1l-.5 3.8l-.5-3.5l-.5 .9l-.5-1l-.5 6.6l-.5-6.5l-.5-.5l-.5 .6l-.5 4.7l-.5-4.5l-.5 4.2l-.5-5l-.5 1.1l-.5-.2l-.5-.9l-.5 .3l-.5 4.4l-.5-4.8l-.5 2.2l-.5-1.7l-.5 3.5l-.5-2.9l-.5 4.1l-.5-4.2l-.5 1.1l-.5-1.4l-.5 1.2l-.5-1.5l-.5 1l-.5-.8l-.5 .4l-.5-.4l-.5 3.1l-.5-2.8l-.5 0l-.5-.3l-.5 3.4l-.5-3.5l-.5 .6l-.5-.4l-.5 5.7l-.5-5.6l-.5 3.9l-.5-4.2l-.5 4.8l-.5-5.1l-.5 4.1l-.5-3.3l-.5 4.4l-.5-4.6l-.5 2.2l-.5-2.3l-.5 2.1l-.5-2.7l-.5 5.1l-.5-4.8l-.5 5.6l-.5-5.8l-.5 5.3l-.5-4.7l-.5 0l-.5-.3l-.5-.5l-.5 1l-.5 2.5l-.5-3.3l-.5 2.2l-.5-1.6l-.5 .5l-.5-1l-.5 6.4l-.5-6.6l-.5 6.5l-.5-6l-.5 3.1l-.5-2.9l-.5-.2l-.5 .4l-.5 .9l-.5-.9l-.5-.9l-.5 .6l-.5-.5l-.5 .3l-.5 1.5l-.5-1.6l-.5 5.9l-.5-5.8l-.5 3.7l-.5-3.4l-.5 1.9l-.5-1.8l-.5 2.1l-.5-2.1l-.5 3.9l-.5-4.2l-.5 .9l-.5-.4l-.5 3.5l-.5-4.2l-.5 0l-.5 .1l-.5-.5l-.5 0l-.5 1.7l-.5-.8l-.5-.8l-.5 0l-.5 7.3l-.5-7.4l-.5 2.6l-.5-1.6l-.5-.2l-.5 .2l-.5 .3l-.5-.3l-.5-.9l-.5 0l-.5 5.3l-.5-4.4l-.5 3.3l-.5-3.7l-.5 4.7l-.5-4.7l-.5-.1l-.5-.4l-.5 0l-.5 .1l-.5 1l-.5-1.1l-.5 3.8l-.5-2.9l-.5 .5l-.5-1.5l-.5 6.7l-.5-5.9l-.5-.6l-.5 .1l-.5 .8l-.5-.5l-.5 .9l-.5-1.1l-.5 4.7l-.5-4.7l-.5 6.9l-.5-7.2l-.5 1.2l-.5-.4l-.5-.5l-.5 .6l-.5 2.7l-.5-3.1l-.5 1.7l-.5-1.3l-.5 6.2l-.5-6.4l-.5 2.3l-.5-2.6l-.5 .4l-.5-.6l-.5 6.2l-.5-5.5l-.5 1.5l-.5-1.8l-.5-.4l-.5 .3l-.5 .4l-.5-.7l-.5 .9l-.5-.9l-.5 3.7l-.5-3l-.5 1.6l-.5-1.8l-.5 .3l-.5-1.1l-.5 3.3l-.5-2.6l-.5 6.1l-.5-6.2l-.5 4.8l-.5-5.1l-.5 2.5l-.5-1.9l-.5 2.7l-.5-2.8l-.5 4.5l-.5-4.2l-.5 4.2l-.5-5.2l-.5 3.7Z" fill="#ff7f0e" fill-opacity="0.2"/>
<path d="M88.0 891.8l.5-.8l.5 .4l.5 .6l.5-.5l.5-2.5l.5 3l.5-.1l.5 .1l.5-.7l.5 .5l.5 .2l.5 0l.5 0l.5-1.2l.5 1.2l.5-2.7l.5 2l.5 .5l.5-2.2l.5 .6l.5 1.5l.5-.6l.5-.2l.5-1.5l.5-.2l.5 1.3l.5 1.4l.5-.9l.5 1l.5-.5l.5-1.1l.5-.3l.5 1.6l.5 .1l.5-1.3l.5-.9l.5 .4l.5 .7l.5 1l.5 .1l.5-1.4l.5 .4l.5 1.2l.5-.7l.5-2.2l.5 2.7l.5-2.6l.5 .9l.5 1.1l.5 .7l.5-.5l.5-2.1l.5 2.7l.5-.3l.5 0l.5-1.6l.5 1.9l.5-.1l.5-2.3l.5 .7l.5 1.5l.5-1.5l.5-.8l.5-.3l.5-.1l.5 2.1l.5 .8l.5-.7l.5 .6l.5-.7l.5 .8l.5-1.4l.5 1.4l.5-.2l.5-1.9l.5 2.1l.5-.1l.5-.2l.5 0l.5-1.6l.5 1.9l.5-.5l.5-1.4l.5 .1l.5-.7l.5 2.5l.5-2.9l.5 2.5l.5-2l.5-.5l.5 2.4l.5-.2l0 21.3l-.5 3.3l-.5-6.9l-.5 6.3l-.5-5.2l-.5 .2l-.5 4.9l-.5-6.1l-.5 4.4l-.5 2.7l-.5-7l-.5 3.8l-.5 .2l-.5-3.8l-.5 7.6l-.5-7.7l-.5 .9l-.5 9.7l-.5-9.2l-.5-.8l-.5 5.7l-.5-6.6l-.5 8.7l-.5-3.5l-.5-5l-.5-.2l-.5 2.1l-.5-1.4l-.5-.7l-.5 .1l-.5 .6l-.5-.4l-.5 8.6l-.5-3.9l-.5-4.2l-.5-.7l-.5 5.5l-.5-5l-.5 5.9l-.5-2.9l-.5 7l-.5-2l-.5 2.6l-.5-9.3l-.5 3.4l-.5-4.8l-.5 6.1l-.5-5l-.5-1.2l-.5 10.5l-.5-1.5l-.5-8.7l-.5 8.8l-.5-8l-.5 .6l-.5 9l-.5-2.2l-.5-8.1l-.5 4.4l-.5-5.1l-.5 9.9l-.5-.7l-.5-9.3l-.5 .1l-.5 .3l-.5 2.7l-.5 6.5l-.5-6.8l-.5 4.1l-.5-6.7l-.5 3.2l-.5 7.3l-.5 0l-.5-4l-.5-6.6l-.5 6.2l-.5-.1l-.5-6.1l-.5-.1l-.5 4l-.5-.8l-.5-.1l-.5-2.2l-.5 1.3l-.5 1.3l-.5 2.5l-.5-.5l-.5 .4l-.5-4l-.5 3.1l-.5-2.4l-.5 9.4l-.5-9.7Z" fill="#1f77b4" fill-opacity="0.2"/>
<path d="M87.3 883.6l.5-.3l.5-.5l.5 .1l.5 1.9l.5-.6l.5 .1l.5-.8l.5-.4l.5 1.6l.5-.5l.5-.2l.5 1l.5-2.3l.5 1.4l.5 .9l.5-.1l.5 .1l.5-.2l.5-.5l.5-5.8l.5-10.3l.5-13.2l.5-12.3l.5-5.1l.5-1.4l.5-.6l.5-.8l.5 1.1l.5 3.8l.5 9.7l.5 12.9l.5 12l.5 9.1l.5 1.4l.5-1.2l.5-.3l.5 1.1l.5 .6l.5-.3l.5-.3l.5-.6l.5 .9l.5-.4l.5-.8l.5 .2l.5 1.1l.5 .1l.5-.8l.5-1.2l.5-.7l.5 2.8l.5-1.5l.5 1.3l.5 0l.5-.6l.5-2.2l.5-.5l.5-9.1l.5-14.5l.5-12.7l.5-9l.5-1.1l.5-.6l.5 1l.5 .2l.5 2.2l.5 9.6l.5 11.5l.5 14.4l.5 9.2l.5 .8l.5 1.3l.5 .3l.5-1.4l.5 .1l.5 .2l.5 .9l.5 .2l.5-.1l.5-.3l.5 .2l.5-.2l.5 .2l.5-2.3l.5 1.9l.5-1.6l.5 2.2l.5-1.8l.5 .1l.5 .6l.5 .6l.5-1.9l.5 .8l.5-1.1l.5-9l.5-13.3l.5-10.6l.5-6.5l.5-2.5l.5-.6l.5-2.4l.5 2l.5 2.7l.5 4.6l.5 13.2l.5 12.2l.5 6.9l.5 4.4l.5 .1l0 25.4l-.5-2.9l-.5 4.7l-.5-2.7l-.5-2l-.5 .3l-.5-.3l-.5 0l-.5 3.7l-.5-2.4l-.5 3.6l-.5-1.3l-.5 .3l-.5-3l-.5 2.8l-.5 1.2l-.5 .2l-.5-4.9l-.5 6.8l-.5-6.1l-.5-.9l-.5 9.9l-.5-2.6l-.5-6.8l-.5 2.2l-.5 .1l-.5 5.3l-.5-6.7l-.5 .6l-.5 6.8l-.5-6.6l-.5-2l-.5 .9l-.5-1.1l-.5 .3l-.5-.3l-.5 .5l-.5 0l-.5 1.2l-.5-.6l-.5-.7l-.5 1.5l-.5 2l-.5-3.9l-.5 .2l-.5 .7l-.5 0l-.5 6.2l-.5-6.4l-.5 3.6l-.5 1.1l-.5 .1l-.5-5.4l-.5 2.9l-.5-2.1l-.5 0l-.5-.7l-.5 1.8l-.5-.6l-.5-.5l-.5 4.9l-.5-4l-.5 4.9l-.5-4.7l-.5-1.5l-.5-.3l-.5 5.2l-.5-4.2l-.5-.4l-.5-.3l-.5-.5l-.5 5.4l-.5-1.2l-.5 4.8l-.5-3.3l-.5-4l-.5 4.5l-.5-1.7l-.5-2.7l-.5 1l-.5-.1l-.5 4.1l-.5 1l-.5-7l-.5-.4l-.5 .4l-.5 .8l-.5-1.1l-.5 5.7l-.5 1.5l-.5-5.6l-.5-2l-.5 7.7l-.5-7.2l-.5-.5l-.5 2.5l-.5-1.8l-.5 .9l-.5 1.1l-.5 1.4l-.5-1.1l-.5-.5l-.5-2.2l-.5 4.5l-.5-3.4l-.5-1.5l-.5 4.6l-.5-3.5l-.5 5.9l-.5-6.4Z" fill="#ff7f0e" fill-opacity="0.2"/>
<line x1="89.3" y1="662.5" x2="89.3" y2="904" stroke="#1f77b4" stroke-width="6.0" stroke-linecap="round"/>
<ellipse cx="87.6" cy="668.5" rx="3.3" ry="4.8" fill="#1f77b4"/>
<path d="M86.0 904.4l.5-1l.5-.9l.5-.5l.5-.3l.5-.2l.5-.4l.5-.3l.5-.2l.5-.3l.5-.2l.5-.1l.5-.1l.5 .1l.5 .1l.5 .2l.5-.1l.5-.1l.5 .1l.5 .1l.5 .1l.5 .4l.5 .2l.5 0l.5 0l.5 .1l.5 .2l.5 .3l.5-.1l.5-.2l.5-.3l.5-.2l.5-.1l.5 0l.5 .1l.5 .2l.5 .2l.5 .3l.5-.4l.5-.3l.5-.1l.5-.1l.5 0l.5 .1l.5-.2l.5-.1l.5 0l.5 0l.5 .1l.5 .3l.5 .3l.5 .5l.5-.2l.5-.1l.5-.1l.5 .1l.5 .1l.5-.2l.5-.2l.5-.2l.5-.2l.5-.1l.5 0l.5 .1l.5 .2l.5 .1l.5 0l.5 .1l.5 .2l.5 .1l.5-.9l.5-.4l.5-.4l.5-.1l.5-.1l.5-.1l.5 .1l.5 .2l.5 .2l.5 .5l.5 .7l.5 1.2l.5-.1l.5 .1l.5-.2l.5-.2l.5-.2l.5-.1l.5-.4l.5-.3l.5-.2l.5 0l.5 0l.5 .1l.5 .2l.5 .3l.5 .5l.5 .4l.5 .2l.5 .2l.5 .3l.5 .6l.5 1.7l0 .2l-.5 1.7l-.5 1.4l-.5 .7l-.5 .7l-.5 .7l-.5 .4l-.5 .3l-.5 .1l-.5 .1l-.5 0l-.5-.1l-.5-.2l-.5-.3l-.5-.5l-.5-.3l-.5-.2l-.5-.1l-.5 .4l-.5 .3l-.5 .2l-.5 0l-.5 0l-.5-.1l-.5 .1l-.5 0l-.5 0l-.5-.1l-.5-.2l-.5 .2l-.5 .4l-.5 .1l-.5 .1l-.5 .1l-.5-.1l-.5-.2l-.5-.2l-.5 .2l-.5 .1l-.5 .1l-.5 0l-.5-.1l-.5-.2l-.5 0l-.5 .1l-.5 0l-.5-.1l-.5-.1l-.5 .4l-.5 .3l-.5 .1l-.5 .1l-.5 0l-.5-.1l-.5-.2l-.5-.3l-.5 .3l-.5 .3l-.5 .1l-.5 .1l-.5 0l-.5-.1l-.5 .1l-.5 .2l-.5 0l-.5 0l-.5-.2l-.5-.2l-.5-.4l-.5-.5l-.5 .2l-.5 .3l-.5 .1l-.5 .1l-.5 0l-.5-.1l-.5 0l-.5 0l-.5 0l-.5-.1l-.5-.2l-.5-.3l-.5-.5l-.5-.4l-.5 .3l-.5 .2l-.5 .1l-.5 0l-.5 .1l-.5 .9l-.5 .6l-.5 .3l-.5 .3l-.5 .1l-.5 .1l-.5-.1l-.5-.1l-.5-.3l-.5-.3l-.5-.6l-.5-1.6l-.5-1.1l-.5-1.6Z" fill="#1f77b4"/>
<line x1="134" y1="904" x2="134" y2="650" stroke="#1f77b4" stroke-width="6.0" stroke-linecap="round"/>
<path d="M131.0 646.2l.5-1.4l.5-.6l.5-.4l.5-.3l.5-.2l.5-.1l.5 0l.5 0l.5 .2l.5 .3l.5 .4l.5 .7l.5-.1l.5-.1l.5-.4l.5-.5l.5-.4l.5-.2l.5-.2l.5 0l.5 0l.5 .2l.5 .2l.5 .3l.5 .1l.5-.1l.5 0l.5 0l.5 .2l.5 .2l.5 .5l.5 .2l.5-.6l.5-.9l.5-.5l.5-.3l.5-.2l.5-.1l.5 0l.5 0l.5 .2l.5 .3l.5 .4l.5 .7l.5-.1l.5 0l.5 0l.5 .2l.5 0l.5-.1l.5 0l.5 .1l.5 .1l.5 0l.5 .1l.5-.2l.5 0l.5 0l.5 0l.5 0l.5 .1l.5-1.2l.5-.7l.5-.4l.5-.3l.5-.1l.5-.1l.5 0l.5 .1l.5 .2l.5 .1l.5-.2l.5-.1l.5 0l.5 .1l.5 .2l.5 .3l.5 .5l.5 .9l.5 .6l.5 .9l.5-.1l.5-.2l.5-.1l.5-.5l.5-.3l.5-.2l.5-.1l.5-.1l.5 .1l.5 .2l.5-.1l.5-.5l.5-.3l.5-.2l.5-.1l.5-.1l.5 .1l.5 .2l.5 .2l.5 .4l.5 .5l.5 0l.5-.1l.5 .1l.5 .1l.5 .2l.5 .2l.5 .1l.5-.1l.5-.2l.5-.1l.5-.1l.5 .1l.5 .2l.5 .2l.5 .4l.5-.3l.5-.2l.5-.2l.5-.1l.5-.1l.5-.2l.5-.2l.5-.1l.5 0l.5-.4l.5-.6l.5-.4l.5-.2l.5-.1l.5-.1l.5 .1l.5 .1l.5 .2l.5 .4l.5 .5l.5 .6l.5 .3l.5-.6l.5-.4l.5-.2l.5-.1l.5-.1l.5 .1l.5 .1l.5 .2l.5 .4l.5 .5l.5 1.3l.5 0l.5-.6l.5-.3l.5-.3l.5-.1l.5-.1l.5 .1l.5 .1l.5 .2l.5 .4l.5 .5l.5-.1l.5-.1l.5 0l.5 .1l.5-.1l.5-.1l.5 0l.5 .1l.5 .2l.5-.1l.5-.2l.5-.1l.5-1.3l.5-.7l.5-.4l.5-.3l.5-.2l.5-.1l.5 0l.5 .1l.5 .2l.5 .3l.5 .5l.5 .8l.5 .8l.5 1.5l.5 .6l.5 .1l.5-.6l.5-.4l.5-.3l.5-.4l.5-.3l.5-.3l.5-.2l.5-.2l.5 0l.5 0l.5 .1l.5 .3l.5 .3l.5 .6l.5-.5l.5-.4l.5-.2l.5-.1l.5-.1l.5 0l.5 .2l.5 .2l.5 .3l.5 .5l.5-.4l.5-.4l.5-.2l.5-.1l.5-.1l.5-.1l.5-.1l.5 .1l.5 0l.5-.6l.5-.3l.5-.2l.5-.1l.5 0l.5 0l.5 .2l.5 .2l.5 .4l.5 .7l.5 .5l.5 0l.5 0l.5 0l.5-.1l.5 0l.5 .1l.5 .2l.5 .1l.5 .2l.5 .3l.5-.5l.5-.4l.5-.2l.5-.2l.5 0l.5 0l.5 .1l.5 .3l.5 .3l.5 .1l.5 .2l.5 .2l.5-.3l.5-.8l.5-1l.5-.6l.5-.3l.5-.2l.5-.1l.5 0l.5 0l.5 .2l.5 .2l.5 .4l.5 0l.5-.1l.5 .1l.5 .1l.5 .3l.5 .4l.5 .6l.5-.1l.5-.3l.5-.1l.5-.1l.5 0l.5 .2l.5 0l.5 0l.5 .1l.5 .2l.5 .3l.5 .4l.5 .3l.5-.1l.5 0l.5 .1l.5-.5l.5-1l.5-.5l.5-.3l.5-.3l.5-.1l.5 0l.5 .1l.5 .1l.5 .3l.5 .4l.5 .6l.5 .8l.5 .2l.5-.1l.5-.1l.5 .1l.5 .1l.5 .2l.5-.2l.5-.2l.5-.1l.5 0l.5 0l.5 .1l.5 0l.5 .1l.5 .2l.5 .2l.5 0l.5 0l.5 0l.5-.2l.5-.2l.5 0l.5 .1l.5 .1l.5 .3l.5 .1l.5-.7l.5-.3l.5-.3l.5-.1l.5-.1l.5 0l.5 .2l.5 .2l.5 .3l.5 .5l.5 .1l.5 0l.5 0l.5 .2l.5-.1l.5-.3l.5-.2l.5-.1l.5 0l.5 0l.5-.1l.5-.3l.5-.2l.5-.1l.5 0l.5 .1l.5 0l.5-.2l.5 0l.5 0l.5 .1l.5-.3l.5-.4l.5-.3l.5-.2l.5-.1l.5 0l.5 .1l.5 .2l.5 .3l.5 .4l.5 .8l.5 1l.5 .3l.5 0l.5 .1l.5-.1l.5-.1l.5 0l.5-.6l.5-.5l.5-.2l.5-.2l.5-.1l.5 0l.5 .1l.5 .1l.5 .1l.5-.4l.5-.3l.5-.2l.5-.1l.5 0l.5 .1l.5 .2l.5 .3l.5-.2l.5-.5l.5-.3l.5-.3l.5-.3l.5-.6l.5-.3l.5-.2l.5-.1l.5-.1l.5 .1l.5 .1l.5 .3l.5 .4l.5 .6l.5 .8l.5-.1l.5 0l.5 0l.5 .2l.5 .2l.5 .4l.5 .6l.5 .3l.5 0l.5 .1l.5 .2l.5 .3l.5-.2l.5-.5l.5-.3l.5-.3l.5-.1l.5 0l.5 0l.5-.3l.5-.4l.5-.2l.5-.1l.5-.1l.5 .1l.5 .1l.5 .3l.5 .3l.5-.1l.5 0l.5-.4l.5-.2l.5-.2l.5-.1l.5 0l.5 .1l.5 .1l.5 .3l.5 .2l.5 .1l.5 .3l.5 .1l.5 0l.5 0l.5 .1l.5 .2l.5 .4l.5 .3l.5 .3l.5-.1l.5-.1l.5 .1l.5-.5l.5-.3l.5-.2l.5-.1l.5 0l.5 .1l.5 .2l.5 .3l.5 .4l.5 .1l.5-.3l.5-.1l.5-.3l.5-1.4l.5-.6l.5-.4l.5-.3l.5-.1l.5-.1l.5 0l.5 .1l.5 .1l.5-.1l.5 0l.5 0l.5 .2l.5 .2l.5 .4l.5 .1l.5 0l.5 .2l.5 .3l.5 .3l.5-.3l.5-.2l.5-.1l.5 0l.5-.1l.5-.7l.5-.4l.5-.2l.5-.2l.5 0l.5 0l.5 .1l.5 .2l.5 .3l.5 .5l.5 1l.5 .4l.5-.2l.5-.1l.5 0l.5 .1l.5 .2l.5 .2l.5 .5l.5 .5l.5 .2l.5 .3l.5 .4l.5-.7l.5-.7l.5-.4l.5-.2l.5-.2l.5-.1l.5 .1l.5 .1l.5 .2l.5 .3l.5 0l.5-.5l.5-.3l.5-.2l.5-.1l.5 0l.5 .1l.5 .2l.5 .2l.5 .5l.5 .7l.5 .1l.5-.1l.5 0l.5 .1l.5 .1l.5 .3l.5 .3l.5-.2l.5-.1l.5 0l.5 0l.5 .2l.5 .2l.5 .3l.5 .2l.5 .4l.5-.2l.5-.4l.5-1.3l.5-.5l.5-.4l.5-.2l.5-.1l.5-.1l.5 .1l.5 .1l.5 .2l.5 0l.5-.4l.5-.3l.5-.2l.5-.1l.5 0l.5 0l.5 .2l.5-.4l.5-.4l.5-.2l.5-.1l.5-.1l.5 .1l.5 .1l.5 .2l.5 .4l.5 .6l.5 1.3l.5 .2l.5 0l.5 .1l.5 .2l.5 .3l.5-.2l.5-.8l.5-.9l.5-.5l.5-.3l.5-.2l.5 0l.5-.1l.5 .1l.5 .2l.5 .3l.5-.4l.5-.3l.5-.2l.5-.1l.5 0l.5 0l.5 .2l.5 .3l.5 .4l.5 .1l.5 .2l.5 .3l.5 0l.5-.2l.5 0l.5 0l.5 .1l.5 .2l.5 .3l.5 .5l.5 1l.5 0l.5-.7l.5-.4l.5-.3l.5-.1l.5-.1l.5 0l.5 .1l.5 .2l.5 .3l.5 .5l.5 .1l.5-.4l.5-.3l.5-.5l.5-.4l.5-.2l.5-.1l.5-.1l.5 .1l.5 .1l.5 .2l.5 .4l.5 .2l.5 .1l.5 .1l.5 .2l.5 .3l.5 .5l.5-.1l.5-.2l.5 0l.5 0l.5 .1l.5 .2l.5 .3l.5 .5l.5 .9l.5-.1l.5-.3l.5-.1l.5-.1l.5-.5l.5-.3l.5-.2l.5-.2l.5 0l.5 0l.5 .2l.5 .1l.5-.2l.5-.2l.5 0l.5 0l.5-.7l.5-.5l.5-.3l.5-.2l.5-.1l.5 0l.5 .1l.5 .1l.5 .3l.5 .4l.5 .6l.5 .2l.5 0l.5 .1l.5 .2l.5 .3l.5-.2l.5 0l.5-.2l.5-.1l.5-.1l.5 .1l.5 .1l.5 .2l.5 .4l.5 0l.5-.3l.5-.1l.5 0l.5 0l.5 .1l.5 .3l.5 .3l.5 .3l.5 .3l.5 .6l.5 1.7l0 1.5l-.5 1l-.5 .9l-.5 .5l-.5 .3l-.5 .2l-.5 .8l-.5 .5l-.5 .3l-.5 .2l-.5 .1l-.5 0l-.5 1.1l-.5 .7l-.5 .4l-.5 .3l-.5 .1l-.5 .1l-.5 0l-.5-.1l-.5-.2l-.5-.3l-.5-.5l-.5 .4l-.5 .4l-.5 .3l-.5 .1l-.5 .1l-.5 0l-.5-.1l-.5-.2l-.5-.3l-.5-.5l-.5-.9l-.5-.1l-.5 .3l-.5 .2l-.5 0l-.5 1l-.5 .7l-.5 .4l-.5 .3l-.5 .1l-.5 .1l-.5 0l-.5-.1l-.5-.2l-.5-.3l-.5-.5l-.5-.9l-.5-1l-.5-1.2l-.5 .4l-.5 .4l-.5 .2l-.5 .1l-.5 .1l-.5-.1l-.5-.1l-.5 0l-.5-.2l-.5-.2l-.5-.1l-.5 .3l-.5 .3l-.5 .1l-.5 0l-.5 0l-.5-.1l-.5-.2l-.5-.4l-.5-.1l-.5 .2l-.5 .1l-.5 .1l-.5 .2l-.5 .3l-.5 .3l-.5 .1l-.5 .1l-.5 0l-.5-.1l-.5-.2l-.5-.3l-.5-.4l-.5-.2l-.5 .2l-.5 .1l-.5 .1l-.5-.1l-.5-.1l-.5-.2l-.5 .1l-.5 0l-.5-.1l-.5 .4l-.5 .3l-.5 .2l-.5 .1l-.5 0l-.5 0l-.5-.2l-.5-.1l-.5 0l-.5-.1l-.5-.1l-.5-.1l-.5-.2l-.5-.4l-.5-.2l-.5 .1l-.5-.1l-.5-.1l-.5-.1l-.5 0l-.5-.1l-.5-.1l-.5 .3l-.5 .2l-.5 .1l-.5 0l-.5 .1l-.5-.1l-.5 .1l-.5 0l-.5-.1l-.5-.2l-.5 .1l-.5 .3l-.5 .1l-.5 0l-.5 0l-.5-.1l-.5-.2l-.5-.4l-.5-.2l-.5 0l-.5 0l-.5-.1l-.5 .4l-.5 .2l-.5 .2l-.5 0l-.5 0l-.5-.2l-.5-.2l-.5-.1l-.5 0l-.5 .4l-.5 .3l-.5 .2l-.5 .1l-.5 .2l-.5 .1l-.5 0l-.5-.1l-.5-.2l-.5-.3l-.5-.5l-.5-.1l-.5 0l-.5 .2l-.5 .1l-.5 .1l-.5-.1l-.5 0l-.5 .4l-.5 .4l-.5 .3l-.5 .1l-.5 0l-.5 0l-.5-.1l-.5 .1l-.5 .1l-.5 .1l-.5 0l-.5-.1l-.5-.2l-.5-.2l-.5 0l-.5 0l-.5-.1l-.5-.2l-.5-.2l-.5-.3l-.5-.2l-.5 .7l-.5 .5l-.5 .3l-.5 .1l-.5 .1l-.5 0l-.5-.1l-.5 .1l-.5 .1l-.5 .1l-.5-.1l-.5-.1l-.5-.2l-.5-.3l-.5-.1l-.5 .1l-.5 0l-.5 0l-.5-.2l-.5-.2l-.5 0l-.5 0l-.5-.1l-.5-.1l-.5-.3l-.5 .3l-.5 .2l-.5 .1l-.5 0l-.5 0l-.5 .2l-.5 .2l-.5 0l-.5-.1l-.5-.1l-.5-.3l-.5 1.6l-.5 .6l-.5 .4l-.5 .2l-.5 .1l-.5 .1l-.5 0l-.5-.2l-.5-.2l-.5-.3l-.5-.6l-.5-.5l-.5 0l-.5-.1l-.5-.1l-.5-.3l-.5-.4l-.5-.6l-.5-.4l-.5-.1l-.5 .8l-.5 1.1l-.5 .5l-.5 .3l-.5 .2l-.5 .1l-.5 0l-.5 0l-.5-.2l-.5-.2l-.5-.4l-.5-.7l-.5-.3l-.5 0l-.5-.2l-.5-.2l-.5-.4l-.5-.2l-.5 0l-.5-.1l-.5-.1l-.5 .1l-.5 .1l-.5 .3l-.5 .1l-.5 .1l-.5-.1l-.5-.1l-.5-.1l-.5-.2l-.5-.1l-.5-.2l-.5-.2l-.5-.3l-.5-.3l-.5 .1l-.5 0l-.5 0l-.5 .1l-.5 .5l-.5 .4l-.5 .3l-.5 .1l-.5 .1l-.5-.1l-.5-.1l-.5-.2l-.5-.3l-.5 .8l-.5 .6l-.5 .4l-.5 .3l-.5 .1l-.5 .1l-.5-.1l-.5-.1l-.5-.2l-.5-.3l-.5-.6l-.5-.6l-.5 .1l-.5 .1l-.5-.1l-.5-.1l-.5-.2l-.5-.2l-.5 .5l-.5 .3l-.5 .3l-.5 .1l-.5 0l-.5-.1l-.5-.1l-.5-.3l-.5-.1l-.5 0l-.5-.1l-.5-.2l-.5-.3l-.5-.1l-.5 .3l-.5 .2l-.5 .1l-.5 0l-.5-.1l-.5 .5l-.5 .4l-.5 .3l-.5 .1l-.5 .1l-.5 0l-.5-.2l-.5-.2l-.5-.3l-.5-.5l-.5-.6l-.5 .1l-.5 .3l-.5 .3l-.5 .3l-.5 .1l-.5 .1l-.5 0l-.5-.1l-.5-.1l-.5 0l-.5-.2l-.5-.2l-.5 .1l-.5 .6l-.5 .4l-.5 .3l-.5 .1l-.5 .1l-.5 0l-.5-.2l-.5-.2l-.5-.3l-.5-.5l-.5-.8l-.5-.6l-.5-.6l-.5 .3l-.5 .3l-.5 .1l-.5 .1l-.5 0l-.5-.2l-.5-.2l-.5-.1l-.5 .2l-.5 .1l-.5 0l-.5 0l-.5 .1l-.5 .1l-.5 .1l-.5 0l-.5 .1l-.5 .4l-.5 .4l-.5 .2l-.5 .2l-.5 0l-.5 0l-.5-.1l-.5 .5l-.5 .4l-.5 .2l-.5 .1l-.5 0l-.5 0l-.5-.2l-.5-.2l-.5-.4l-.5-.6l-.5 0l-.5 .1l-.5 0l-.5-.1l-.5-.3l-.5 .3l-.5 .2l-.5 .1l-.5 0l-.5 .9l-.5 .8l-.5 .4l-.5 .3l-.5 .2l-.5 .1l-.5 0l-.5-.1l-.5-.2l-.5-.3l-.5-.4l-.5-.8l-.5-1.2l-.5-.3l-.5-.2l-.5-.3l-.5 .1l-.5 .2l-.5 .4l-.5 .2l-.5 .1l-.5 .3l-.5 .3l-.5 .3l-.5 .3l-.5 .3l-.5 .1l-.5 0l-.5 0l-.5-.2l-.5-.2l-.5-.4l-.5-.6l-.5-.5l-.5-.2l-.5-.4l-.5 .1l-.5 0l-.5 .1l-.5 0l-.5-.1l-.5-.2l-.5-.4l-.5 0l-.5 0l-.5 .1l-.5 .2l-.5 0l-.5 .3l-.5 .3l-.5 .2l-.5 .1l-.5 0l-.5-.1l-.5-.2l-.5-.2l-.5-.1l-.5 .8l-.5 .4l-.5 .3l-.5 .2l-.5 .1l-.5 0l-.5-.1l-.5 0l-.5 0l-.5-.2l-.5-.2l-.5-.3l-.5-.3l-.5-.2l-.5-.1l-.5-.1l-.5-.2l-.5-.3l-.5 .2l-.5 .4l-.5 .2l-.5 .1l-.5 0l-.5 0l-.5-.1l-.5-.3l-.5 0l-.5 .5l-.5 .3l-.5 .2l-.5 .1l-.5 0l-.5-.1l-.5-.2l-.5-.2l-.5-.5l-.5-.7l-.5-.9l-.5-.2l-.5-.2l-.5 .3l-.5 .2l-.5 0l-.5 0l-.5 0l-.5 .3l-.5 .5l-.5 1.2l-.5 .5l-.5 .4l-.5 .2l-.5 .1l-.5 .1l-.5-.1l-.5-.1l-.5-.3l-.5-.4l-.5-.6l-.5-.3l-.5 0l-.5 .3l-.5 .2l-.5 .1l-.5 0l-.5-.1l-.5-.2l-.5-.2l-.5-.5l-.5-.1l-.5-.1l-.5-.2l-.5-.3l-.5 .4l-.5 .4l-.5 .5l-.5 .4l-.5 .3l-.5 .2l-.5 .1l-.5 0l-.5 0l-.5-.2l-.5-.3l-.5-.4l-.5-.8l-.5-.4l-.5 0l-.5 .9l-.5 .6l-.5 .3l-.5 .3l-.5 .1l-.5 0l-.5 0l-.5-.2l-.5-.2l-.5-.4l-.5-.6l-.5-.5l-.5-.2l-.5 .1l-.5 .5l-.5 .3l-.5 .2l-.5 .1l-.5 0l-.5-.1l-.5-.2l-.5-.3l-.5-.4l-.5-.2l-.5-.3l-.5 .1l-.5 .3l-.5 .2l-.5 .2l-.5 .3l-.5 .1l-.5 0l-.5 0l-.5 .2l-.5 .5l-.5 .3l-.5 .2l-.5 0l-.5 .1l-.5 .1l-.5 .1l-.5-.1l-.5-.1l-.5-.2l-.5-.3l-.5-.5l-.5-.5l-.5-.3l-.5-.5l-.5-.6l-.5 0l-.5-.1l-.5-.1l-.5 .4l-.5 .5l-.5 .3l-.5 .2l-.5 0l-.5 .1l-.5-.1l-.5-.2l-.5-.3l-.5 .1l-.5-.1l-.5-.1l-.5-.1l-.5-.1l-.5 .1l-.5 0l-.5 0l-.5-.1l-.5 0l-.5 .1l-.5 0l-.5-.1l-.5-.1l-.5 .2l-.5 .1l-.5 0l-.5 0l-.5-.2l-.5-.3l-.5-.4l-.5-.2l-.5 .4l-.5 .2l-.5 .1l-.5 .1l-.5 0l-.5 1.4l-.5 .7l-.5 .4l-.5 .3l-.5 .1l-.5 .1l-.5 0l-.5-.1l-.5-.2l-.5-.3l-.5-.5l-.5-.3l-.5-.4l-.5 .2l-.5 1.4l-.5 .7l-.5 .4l-.5 .3l-.5 .1l-.5 .1l-.5 0l-.5-.1l-.5-.2l-.5-.3l-.5-.5l-.5-1l-.5-.9l-.5 .1l-.5 .9l-.5 .5l-.5 .3l-.5 .2l-.5 .1l-.5 0l-.5-.1l-.5-.2l-.5-.2l-.5-.4l-.5-.8l-.5-.8l-.5 0l-.5 .5l-.5 .3l-.5 .2l-.5 .1l-.5 0l-.5 0l-.5-.2l-.5-.3l-.5-.4l-.5-.2l-.5-.1l-.5-.2l-.5-.3l-.5 .2l-.5 .1l-.5 .1l-.5-.1l-.5-.1l-.5-.2l-.5-.4l-.5-.3l-.5 .3l-.5 .2l-.5 .1l-.5 0l-.5 0l-.5-.2l-.5-.3l-.5 0l-.5-.1l-.5-.2l-.5-.2l-.5-.3l-.5-.3l-.5-.4l-.5-.7l-.5-1.4l-.5-3.9Z" fill="#1f77b4"/>
<path d="M83.5 893.2l.5-1.6l.5-17.1l.5-1.7l.5-1l.5-.6l.5-.4l.5-.2l.5-.1l.5-.1l.5 0l.5-.1l.5-.1l.5 .1l.5 0l.5 0l.5 0l.5 0l.5-.2l.5 0l.5-23.4l.5-2.2l.5-1.6l.5-.6l.5-.4l.5-.2l.5-.1l.5-.1l.5 .1l.5 .1l.5 .2l.5 .4l.5 .3l.5-.3l.5-.2l.5-.1l.5-.3l.5-.1l.5-.1l.5 .1l.5 .1l.5 .2l.5 .1l.5 .2l.5 .2l.5 .3l.5 .3l.5 .6l.5 1.4l.5 .3l.5 24.5l.5-1.4l.5-1.6l.5-.8l.5-.6l.5-.4l.5-18l.5-1.7l.5-1l.5-.9l.5-.6l.5-.3l.5-.3l.5-.1l.5-.2l.5-.2l.5-.1l.5-.1l.5 0l.5 .2l.5 0l.5 0l.5 0l.5 0l.5 .1l.5-.2l.5 0l.5 0l.5 0l.5 0l.5 .1l.5 .3l.5 .3l.5 .6l.5 1.2l.5 .5l.5 24.6l.5 0l.5 0l.5 .2l.5 .2l.5 .3l.5 .4l.5 .5l.5 1.3l.5-24.2l.5-1.6l.5-.6l.5-.4l.5-.2l.5-.2l.5 0l.5-.1l.5-.1l.5 .1l.5 .1l.5-.2l.5 0l.5 0l.5 .1l.5 .1l.5-.2l.5 0l.5 0l.5 .1l.5 .3l.5 0l.5 .1l.5 .1l.5 .2l.5 .3l.5 .6l.5 1.2l0 56.6l-.5 1.4l-.5 .7l-.5 .4l-.5 .3l-.5 .2l-.5 0l-.5 0l-.5-.1l-.5-.1l-.5-.4l-.5 .1l-.5 .2l-.5 .1l-.5-.1l-.5 0l-.5-.2l-.5-.3l-.5-.5l-.5 .5l-.5 .3l-.5 .1l-.5 .1l-.5 0l-.5-.1l-.5-.2l-.5 .2l-.5 .2l-.5 .1l-.5 0l-.5-.1l-.5 .2l-.5 .2l-.5 .1l-.5 0l-.5-.1l-.5-.2l-.5-.3l-.5-.5l-.5-.5l-.5-.1l-.5-.2l-.5-.3l-.5-.4l-.5 0l-.5 0l-.5 0l-.5 .4l-.5 .7l-.5 .5l-.5 .2l-.5 .2l-.5 .1l-.5 0l-.5-.1l-.5-.2l-.5 .3l-.5 .2l-.5 .2l-.5 .1l-.5 0l-.5-.1l-.5-.2l-.5-.2l-.5-.1l-.5-.2l-.5-.3l-.5-.5l-.5-.1l-.5 .2l-.5 .1l-.5 .1l-.5 0l-.5-.1l-.5-.1l-.5-.1l-.5-.1l-.5 .3l-.5 .1l-.5 .1l-.5 0l-.5-.1l-.5-.2l-.5-.2l-.5 0l-.5 .6l-.5 .4l-.5 .3l-.5 .2l-.5 .1l-.5 0l-.5-.1l-.5-.2l-.5-.3l-.5-.4l-.5-.8l-.5-1.2l-.5 .1l-.5 .2l-.5 .1l-.5 .1l-.5 .3l-.5 .5l-.5 .3l-.5 .1l-.5 .1l-.5 0l-.5-.1l-.5-.1l-.5 0l-.5-.1l-.5 .1l-.5 .3l-.5 .1l-.5 .1l-.5 0l-.5-.1l-.5-.1l-.5-.3l-.5-.5l-.5-.8l-.5-1.2l-.5-3.2Z" fill="#ff7f0e"/>
<line x1="141.8" y1="880" x2="141.8" y2="650" stroke="#ff7f0e" stroke-width="6.0" stroke-linecap="round"/>
<path d="M138.8 650.2l.5-.9l.5-.9l.5-.5l.5-.3l.5-.8l.5-.6l.5-.3l.5-.3l.5-.4l.5-.6l.5-.4l.5-.2l.5-.1l.5-.1l.5 .1l.5 .1l.5 .2l.5-.2l.5-.2l.5-.2l.5-.1l.5 0l.5-.2l.5-.3l.5-.2l.5-.1l.5 0l.5 .1l.5 .1l.5 .3l.5 .4l.5 .7l.5 .1l.5-.2l.5-.1l.5 .1l.5 .1l.5 .2l.5-.2l.5-.1l.5 0l.5 .1l.5 .1l.5 .3l.5 .4l.5 .4l.5-.2l.5-.4l.5-.3l.5-.2l.5 0l.5 0l.5 .1l.5 .2l.5 .3l.5 .5l.5 .6l.5 0l.5 .1l.5-2.3l.5-1.6l.5-.6l.5-.4l.5-.2l.5-.1l.5-.1l.5 .1l.5 .1l.5 .2l.5 .4l.5 .6l.5 .6l.5-.5l.5-.3l.5-.2l.5-.1l.5 0l.5 0l.5 .2l.5 .3l.5 .4l.5 .7l.5 1.4l.5 0l.5-.1l.5-.2l.5-.7l.5-.4l.5-.3l.5-.2l.5 0l.5 0l.5 .1l.5-.4l.5-.3l.5-.2l.5 0l.5 0l.5 .1l.5 .2l.5 .3l.5 .5l.5 .9l.5 .6l.5 .3l.5-.1l.5-.5l.5-.3l.5-.2l.5-.1l.5-.1l.5 .1l.5 .2l.5 .2l.5 .2l.5 .4l.5 .6l.5 .4l.5 .1l.5-.3l.5-.9l.5-.6l.5-.3l.5-.3l.5-.1l.5 0l.5 0l.5 .1l.5 .3l.5 .3l.5 .6l.5 0l.5 .1l.5 .2l.5-.1l.5 .1l.5 .1l.5 .1l.5 .1l.5-.1l.5 .1l.5 .1l.5-.8l.5-.5l.5-.4l.5-.2l.5-.2l.5 0l.5 0l.5 .2l.5 .2l.5 .3l.5 0l.5 0l.5 0l.5 .1l.5 .3l.5 .3l.5 .1l.5 .3l.5 .1l.5 .3l.5 0l.5 0l.5 .1l.5-.3l.5-.2l.5-.1l.5 0l.5 .1l.5 .2l.5 .1l.5-.2l.5 0l.5 0l.5 .1l.5 .3l.5 .3l.5-.5l.5-.3l.5-.2l.5-.1l.5 0l.5 .1l.5 .1l.5 .1l.5 .2l.5-.3l.5-.7l.5-.4l.5-.3l.5-.2l.5 0l.5 0l.5 .1l.5 .2l.5 .3l.5 .5l.5 .1l.5-.1l.5-.9l.5-1l.5-.5l.5-.3l.5-.2l.5-.1l.5 0l.5 .1l.5 .1l.5 .3l.5 .4l.5 .7l.5 1.1l.5 0l.5-.1l.5-.3l.5-.1l.5-.1l.5 0l.5-.1l.5 0l.5 0l.5 .2l.5 .3l.5 .1l.5-.2l.5-.1l.5 0l.5 .1l.5 .2l.5 .3l.5 .5l.5 .9l.5-.2l.5-.3l.5-.1l.5-.1l.5 0l.5 0l.5-.3l.5-.2l.5-.1l.5 0l.5 0l.5 .2l.5-.1l.5-.1l.5 .1l.5-.1l.5-.3l.5-.1l.5-.1l.5 .1l.5 .1l.5 .2l.5 .3l.5-.1l.5 0l.5 0l.5 .1l.5 .3l.5 .3l.5 .2l.5-.3l.5-.1l.5 0l.5 0l.5-.6l.5-.5l.5-.3l.5-.2l.5-.2l.5-.7l.5-.4l.5-.3l.5-.1l.5-.1l.5 0l.5 .1l.5 .2l.5 .3l.5 .5l.5 .9l.5 1l.5 .1l.5-.3l.5-.2l.5-.1l.5 0l.5 .1l.5 .1l.5 .3l.5 .4l.5 0l.5-.1l.5 0l.5 0l.5 0l.5-.7l.5-.4l.5-.3l.5-.2l.5-.1l.5 .1l.5 .1l.5 .1l.5-.1l.5-.9l.5-.5l.5-.3l.5-.2l.5-.1l.5 0l.5 0l.5 .2l.5 .3l.5 .4l.5 .7l.5 1.2l.5 .2l.5 .2l.5 .2l.5 .4l.5-.2l.5-.2l.5 0l.5 0l.5 0l.5 0l.5 .2l.5-.2l.5-.2l.5-.1l.5 0l.5 .1l.5-.1l.5-.2l.5-.1l.5 0l.5 .1l.5 .2l.5 .2l.5 .4l.5 0l.5-.1l.5-.1l.5 0l.5-.2l.5-.2l.5 0l.5 0l.5 .1l.5 .2l.5-.3l.5-.4l.5-.4l.5-.3l.5-.2l.5 0l.5 0l.5 .1l.5 .2l.5 .3l.5 .4l.5 .7l.5-.4l.5-.3l.5-.2l.5-.1l.5 .1l.5-.2l.5-.3l.5-.1l.5 0l.5 0l.5 .1l.5 .3l.5 .3l.5-.1l.5-.2l.5-.1l.5 .1l.5 .1l.5 .1l.5 .3l.5 .2l.5-.3l.5-.2l.5 0l.5 0l.5 .1l.5 .2l.5 .3l.5-.2l.5-.2l.5-.1l.5-.3l.5-.3l.5-.1l.5-.1l.5 .1l.5 .1l.5 .2l.5 .4l.5 .3l.5 .1l.5 .3l.5 .3l.5 .3l.5-.6l.5-.4l.5-.2l.5-.2l.5 0l.5 0l.5 .2l.5 .2l.5 .3l.5 .4l.5 .3l.5 0l.5 0l.5 0l.5 .1l.5-.3l.5-1.1l.5-.7l.5-.5l.5-.2l.5-.2l.5-.1l.5 0l.5 .1l.5 .2l.5-.4l.5-.3l.5-.2l.5-.1l.5 0l.5 0l.5 .2l.5 .3l.5 .4l.5 .7l.5 0l.5 .1l.5 .1l.5 .3l.5-.5l.5-.6l.5-.4l.5-.2l.5-.1l.5-.1l.5 .1l.5 .1l.5 .2l.5 .3l.5 .4l.5 .7l.5 .5l.5 .5l.5 .7l.5-.6l.5-.4l.5-.2l.5-.2l.5 0l.5 0l.5 .2l.5 .2l.5 .3l.5 .5l.5-.1l.5-.1l.5 0l.5-.3l.5-.6l.5-.4l.5-.2l.5-.2l.5 0l.5 0l.5 .1l.5 .3l.5 .3l.5 .6l.5 .4l.5-.7l.5-.5l.5-.2l.5-.2l.5-.1l.5 0l.5 .1l.5 .2l.5 .3l.5-.1l.5-.1l.5 .1l.5 .2l.5 .2l.5-.2l.5-.1l.5 0l.5-.3l.5-.2l.5-.5l.5-.7l.5-.4l.5-.3l.5-.2l.5-.1l.5 0l.5 .1l.5 .2l.5 .3l.5 .5l.5 .9l.5 .6l.5-.4l.5-.2l.5-.2l.5 0l.5 0l.5 .2l.5 .2l.5 .3l.5 .4l.5-.1l.5 0l.5 .2l.5-.2l.5-.1l.5-.1l.5 0l.5 .1l.5 .2l.5 .3l.5 .5l.5 .5l.5-.3l.5-.2l.5-.1l.5-.1l.5-.1l.5-.2l.5-.1l.5 0l.5 0l.5 0l.5-.2l.5-.3l.5-.1l.5-.1l.5-.1l.5 0l.5 0l.5 .2l.5 .3l.5 .4l.5 .2l.5 .2l.5-.8l.5-.7l.5-.4l.5-.3l.5-.2l.5 0l.5 0l.5 .1l.5 .1l.5 .4l.5 .4l.5 .9l.5 .3l.5 0l.5 .1l.5-.1l.5 0l.5 .1l.5-.9l.5-.9l.5-1l.5-.5l.5-.3l.5-.2l.5-.1l.5 0l.5 .1l.5 .1l.5 .3l.5 .4l.5 .7l.5 1.4l.5 1.3l.5 .2l.5-.1l.5 0l.5 .1l.5 0l.5-.1l.5 0l.5 0l.5 .2l.5 .2l.5-.2l.5-.3l.5-.5l.5-.3l.5-.3l.5-.1l.5 0l.5 .1l.5 .1l.5 .3l.5-.1l.5-.5l.5-.4l.5-.2l.5-.1l.5-.1l.5 .1l.5 .1l.5 .2l.5 .4l.5 .2l.5 .1l.5 .2l.5 .4l.5-.1l.5-.3l.5-.4l.5-.2l.5-.1l.5-.1l.5 .1l.5 .1l.5 .2l.5 .2l.5-.3l.5-.2l.5 0l.5 0l.5 .1l.5 .2l.5 .3l.5-.7l.5-.5l.5-.4l.5-.2l.5-.1l.5 0l.5 .1l.5 .1l.5 .3l.5 .1l.5 .2l.5 .3l.5 .5l.5 .3l.5 .5l.5 0l.5-.9l.5-.5l.5-.4l.5-.2l.5-.1l.5 0l.5 .1l.5 .1l.5 .3l.5 .4l.5 .6l.5 .3l.5 .1l.5 .1l.5 .1l.5-.7l.5-.6l.5-.3l.5-.3l.5-.1l.5-.1l.5 .1l.5 .1l.5 .1l.5-.4l.5-.3l.5-.2l.5 0l.5 0l.5 .1l.5 .1l.5 .4l.5 .4l.5 .9l.5 1.1l.5 .4l.5 .7l.5 .5l.5 1.1l.5 .6l0 4.5l-.5 .9l-.5 .9l-.5 .8l-.5 .5l-.5 .7l-.5 .5l-.5 .3l-.5 .2l-.5 .1l-.5 0l-.5-.1l-.5-.2l-.5-.2l-.5-.5l-.5-.7l-.5-.7l-.5 .2l-.5 .1l-.5-.1l-.5-.1l-.5 0l-.5 .1l-.5 0l-.5 .2l-.5 .4l-.5 .3l-.5 .1l-.5 .1l-.5 0l-.5-.1l-.5-.2l-.5-.4l-.5-.2l-.5-.3l-.5-.1l-.5 .1l-.5 .3l-.5 .2l-.5 .1l-.5 0l-.5-.1l-.5-.1l-.5 .1l-.5 .4l-.5 .2l-.5 .1l-.5 .1l-.5-.1l-.5-.1l-.5-.3l-.5-.3l-.5-.6l-.5 .3l-.5 .5l-.5 .3l-.5 .2l-.5 .1l-.5 0l-.5-.1l-.5-.1l-.5-.3l-.5-.4l-.5-.4l-.5-.1l-.5 .1l-.5 .4l-.5 .2l-.5 .4l-.5 .4l-.5 .3l-.5 .1l-.5 .1l-.5 0l-.5-.1l-.5-.2l-.5-.3l-.5-.5l-.5-1l-.5-.4l-.5-.3l-.5 .5l-.5 .6l-.5 .5l-.5 .2l-.5 .2l-.5 0l-.5 0l-.5-.1l-.5-.2l-.5-.3l-.5 0l-.5 1.3l-.5 .5l-.5 .4l-.5 .2l-.5 .1l-.5 .1l-.5-.1l-.5-.1l-.5-.3l-.5-.3l-.5-.6l-.5-1.6l-.5-1.3l-.5-.1l-.5-.2l-.5-.1l-.5-.1l-.5-.2l-.5 0l-.5 .5l-.5 .4l-.5 .2l-.5 .2l-.5 .2l-.5 0l-.5 0l-.5-.1l-.5 .3l-.5 .4l-.5 .2l-.5 .1l-.5 0l-.5 0l-.5-.1l-.5-.3l-.5-.3l-.5-.5l-.5 .2l-.5 1l-.5 .5l-.5 .4l-.5 .2l-.5 .1l-.5 .1l-.5-.1l-.5-.1l-.5-.2l-.5-.4l-.5-.6l-.5-.3l-.5 .2l-.5 .1l-.5 .1l-.5 0l-.5-.1l-.5 .2l-.5 .1l-.5 0l-.5 0l-.5-.1l-.5-.3l-.5-.4l-.5-.5l-.5 .1l-.5 .2l-.5 .1l-.5 .2l-.5 .2l-.5 0l-.5 0l-.5-.1l-.5-.2l-.5-.3l-.5-.3l-.5 .6l-.5 .4l-.5 .3l-.5 .2l-.5 0l-.5 0l-.5-.1l-.5 .3l-.5 .2l-.5 .1l-.5 0l-.5 0l-.5-.2l-.5-.3l-.5-.4l-.5-.7l-.5-.3l-.5-.1l-.5 1l-.5 .6l-.5 .3l-.5 .3l-.5 .1l-.5 0l-.5 0l-.5-.2l-.5-.2l-.5-.4l-.5-.5l-.5 .2l-.5 .2l-.5 0l-.5 0l-.5-.1l-.5 .1l-.5-.1l-.5 0l-.5 .2l-.5 .1l-.5 .1l-.5-.1l-.5-.1l-.5-.3l-.5-.3l-.5-.6l-.5-.5l-.5 .1l-.5 .4l-.5 .4l-.5 .2l-.5 .1l-.5 .1l-.5-.1l-.5-.1l-.5-.2l-.5 .1l-.5 .2l-.5 .1l-.5 0l-.5-.1l-.5-.2l-.5-.2l-.5-.4l-.5 .2l-.5 .1l-.5 .1l-.5-.1l-.5-.1l-.5-.3l-.5-.3l-.5-.4l-.5 .1l-.5 .1l-.5 0l-.5 0l-.5 .1l-.5 .2l-.5 .1l-.5 0l-.5 .6l-.5 .5l-.5 .3l-.5 .2l-.5 .1l-.5 0l-.5-.1l-.5-.1l-.5-.3l-.5-.5l-.5-.6l-.5-.1l-.5 .8l-.5 .5l-.5 .3l-.5 .2l-.5 .1l-.5 0l-.5-.1l-.5-.1l-.5 .1l-.5-.1l-.5-.1l-.5-.2l-.5-.4l-.5-.6l-.5-.2l-.5-.2l-.5-.1l-.5 0l-.5-.1l-.5-.3l-.5 .1l-.5 .1l-.5 .4l-.5 .7l-.5 .4l-.5 .3l-.5 .2l-.5 0l-.5 .1l-.5 0l-.5-.1l-.5-.1l-.5-.3l-.5-.4l-.5-.2l-.5 .5l-.5 .3l-.5 .2l-.5 .1l-.5 0l-.5-.1l-.5-.2l-.5-.1l-.5 .1l-.5-.1l-.5 0l-.5 .4l-.5 .2l-.5 .2l-.5 .1l-.5 0l-.5-.1l-.5-.2l-.5-.4l-.5 .2l-.5 .1l-.5 .1l-.5-.1l-.5-.1l-.5-.2l-.5-.4l-.5-.2l-.5 .6l-.5 .3l-.5 .3l-.5 .1l-.5 0l-.5 0l-.5-.1l-.5-.3l-.5-.4l-.5-.5l-.5 .6l-.5 .7l-.5 .4l-.5 .2l-.5 .2l-.5 .1l-.5 0l-.5-.1l-.5-.2l-.5-.4l-.5-.5l-.5-.9l-.5-.3l-.5-.4l-.5 0l-.5 .2l-.5 .1l-.5 .1l-.5 .1l-.5 .1l-.5 0l-.5 0l-.5 .2l-.5 .1l-.5-.1l-.5-.1l-.5-.2l-.5-.3l-.5-.5l-.5-.3l-.5 .1l-.5 .1l-.5 0l-.5-.1l-.5-.1l-.5 .5l-.5 .3l-.5 .2l-.5 .1l-.5 0l-.5-.1l-.5 .2l-.5 .2l-.5 .2l-.5 .1l-.5 0l-.5-.1l-.5-.1l-.5 0l-.5-.1l-.5-.2l-.5-.3l-.5-.3l-.5-.2l-.5-.2l-.5-.2l-.5 .1l-.5 .1l-.5 .3l-.5 .3l-.5 .3l-.5 .1l-.5 0l-.5 0l-.5-.1l-.5-.3l-.5-.2l-.5 .1l-.5-.1l-.5-.1l-.5-.2l-.5-.1l-.5 0l-.5 0l-.5 .3l-.5 .3l-.5 .9l-.5 .5l-.5 .3l-.5 .2l-.5 .1l-.5 0l-.5-.1l-.5-.1l-.5-.3l-.5-.4l-.5-.8l-.5-.8l-.5 .2l-.5 0l-.5 0l-.5 1.3l-.5 .6l-.5 .3l-.5 .2l-.5 .2l-.5 0l-.5 0l-.5-.2l-.5-.2l-.5-.4l-.5-.1l-.5 0l-.5 0l-.5-.1l-.5-.3l-.5-.3l-.5-.4l-.5-.5l-.5-.9l-.5 .2l-.5 1l-.5 .9l-.5 .5l-.5 .3l-.5 .2l-.5 .1l-.5 0l-.5-.1l-.5-.2l-.5-.2l-.5-.4l-.5-.8l-.5-.7l-.5-.1l-.5 .5l-.5 .6l-.5 .3l-.5 .3l-.5 .1l-.5 0l-.5 0l-.5-.1l-.5-.3l-.5 .1l-.5 .2l-.5 .2l-.5 0l-.5 0l-.5-.1l-.5-.2l-.5-.3l-.5-.3l-.5 .2l-.5 .2l-.5 .1l-.5 0l-.5-.1l-.5-.2l-.5-.4l-.5-.4l-.5-.3l-.5 0l-.5 0l-.5 0l-.5 .2l-.5 .1l-.5 0l-.5 .3l-.5 .2l-.5 .1l-.5 0l-.5-.1l-.5-.2l-.5-.2l-.5 .2l-.5 .1l-.5 0l-.5-.1l-.5-.1l-.5-.3l-.5-.4l-.5-.7l-.5-.4l-.5 .4l-.5 .5l-.5 .3l-.5 .2l-.5 .3l-.5 1l-.5 .9l-.5 .5l-.5 .3l-.5 .2l-.5 .1l-.5 0l-.5-.1l-.5-.2l-.5-.2l-.5-.5l-.5-.5l-.5 0l-.5-.1l-.5-.1l-.5-.3l-.5-.4l-.5-.6l-.5 .2l-.5 .1l-.5 0l-.5-.1l-.5 .2l-.5 .1l-.5 0l-.5-.1l-.5-.1l-.5-.2l-.5 .2l-.5 .2l-.5 .1l-.5 0l-.5-.1l-.5-.2l-.5-.4l-.5-.4l-.5-.4l-.5-.3l-.5 .2l-.5 .1l-.5 0l-.5-.1l-.5-.2l-.5-.2l-.5 .5l-.5 .2l-.5 1.5l-.5 .6l-.5 .3l-.5 .3l-.5 .1l-.5 0l-.5 0l-.5-.1l-.5-.3l-.5-.3l-.5 .7l-.5 .5l-.5 .4l-.5 .2l-.5 .2l-.5 0l-.5 0l-.5-.2l-.5-.2l-.5-.4l-.5-.6l-.5-.2l-.5 .1l-.5-.1l-.5-.1l-.5-.2l-.5-.3l-.5-.5l-.5-.9l-.5 0l-.5 .2l-.5 .2l-.5 0l-.5 0l-.5-.1l-.5-.2l-.5-.3l-.5-.5l-.5 .4l-.5 .4l-.5 .3l-.5 .2l-.5 0l-.5 0l-.5-.1l-.5-.2l-.5-.2l-.5 .4l-.5 .4l-.5 .2l-.5 .2l-.5 0l-.5 0l-.5-.2l-.5-.2l-.5-.4l-.5-.5l-.5-1.4l-.5 .3l-.5 .2l-.5 .6l-.5 .6l-.5 .3l-.5 .3l-.5 .1l-.5 0l-.5 0l-.5-.1l-.5 .6l-.5 .6l-.5 .4l-.5 .2l-.5 .1l-.5 .1l-.5-.1l-.5-.1l-.5-.2l-.5-.4l-.5-.6l-.5-1.3l-.5-.2l-.5-.3l-.5-.1l-.5 .2l-.5 .1l-.5 .1l-.5-.1l-.5 .1l-.5 .7l-.5 .5l-.5 .2l-.5 .2l-.5 .1l-.5 0l-.5 0l-.5-.1l-.5-.3l-.5-.3l-.5-.3l-.5-.1l-.5-.1l-.5-.1l-.5-.4l-.5-.4l-.5-.3l-.5 .5l-.5 .4l-.5 .2l-.5 .2l-.5 0l-.5 0l-.5-.2l-.5-.2l-.5 .3l-.5 .2l-.5 .1l-.5 0l-.5-.1l-.5-.1l-.5-.1l-.5 .1l-.5 0l-.5-.1l-.5-.2l-.5-.3l-.5-.4l-.5 .1l-.5 .1l-.5-.1l-.5-.1l-.5-.1l-.5 .1l-.5 0l-.5 0l-.5 .1l-.5 .1l-.5 1.6l-.5 .6l-.5 .3l-.5 .3l-.5 .1l-.5 0l-.5 0l-.5-.1l-.5-.3l-.5-.3l-.5-.6l-.5-1.7l-.5-.9l-.5-1.7Z" fill="#ff7f0e"/>
<path d="M84.3 814.1l.5-.8l.5-2.9l.5-.8l.5-1l.5-.5l.5-.4l.5-.2l.5-.1l.5-.3l.5-.6l.5-.4l.5-.2l.5-.1l.5-.1l.5 .1l.5 .1l.5 .2l.5 .4l.5 .6l.5 1.4l.5-.1l.5 0l.5 .1l.5 .1l.5 .2l.5-.4l.5-.2l.5-.2l.5 0l.5 0l.5 .2l.5 .2l.5 .4l.5 .5l.5 .7l.5-.5l.5-.5l.5-.3l.5-.2l.5-.1l.5-.1l.5 .1l.5 0l.5 0l.5 0l.5 .2l.5 .2l.5 .4l.5 .5l.5-.3l.5-.3l.5-.2l.5-.1l.5-.1l.5-.5l.5-.4l.5-.3l.5-.2l.5-.1l.5 0l.5 .1l.5 .2l.5 .3l.5 0l.5 0l.5-.1l.5 .1l.5 .1l.5 .2l.5-.7l.5-.9l.5-.8l.5-.5l.5-.3l.5-.1l.5-.1l.5 0l.5 0l.5 .2l.5 .3l.5 .5l.5 .7l.5 1.3l.5 .9l.5-.2l.5-.5l.5-.7l.5-.5l.5-.3l.5-.2l.5-.1l.5 0l.5 .1l.5 .2l.5 .3l.5 .4l.5 .8l.5 .4l.5 .1l.5-.5l.5-.4l.5-.2l.5-.2l.5-.1l.5 .1l.5 .1l.5 .2l.5 .3l.5 .4l.5 .3l.5 0l.5-.5l.5-.6l.5-.3l.5-.3l.5-.1l.5 0l.5 0l.5 .1l.5 .3l.5 .3l.5 .6l.5 .2l.5 .1l.5 .2l.5 .4l.5 .5l.5-.5l.5-.3l.5-.2l.5-.1l.5 0l.5 0l.5-.1l.5-.1l.5-.1l.5 .1l.5 .1l.5 .2l.5 .2l.5-.2l.5 0l.5-.5l.5-1l.5-.6l.5-.5l.5-.2l.5-.2l.5 0l.5 0l.5 .1l.5 .2l.5 .3l.5 .5l.5 .3l.5-.1l.5-.1l.5-.2l.5-.2l.5-.2l.5 0l.5 0l.5 .1l.5-.1l.5-.1l.5-.1l.5 .1l.5 .1l.5 .3l.5 .4l.5 .7l.5 1l.5 .1l.5 .1l.5 .2l.5 .4l.5 .1l.5 .1l.5 .3l.5-1.5l.5-.6l.5-.5l.5-.2l.5-.2l.5 0l.5 0l.5 .1l.5 .2l.5 .3l.5 .5l.5 .9l.5 .3l.5 0l.5 .1l.5 0l.5-.3l.5-.1l.5-.1l.5 0l.5 .1l.5 .2l.5 0l.5-.1l.5 .1l.5 .1l.5 .2l.5 .4l.5 .3l.5 .3l.5 .3l.5-.4l.5-1.2l.5-1.4l.5-.7l.5-.4l.5-.3l.5-.2l.5 0l.5 0l.5 .1l.5 .2l.5 .3l.5 .5l.5-.2l.5-.3l.5-.2l.5 0l.5 0l.5 0l.5 .2l.5 .3l.5 .4l.5-.4l.5-.6l.5-.5l.5-.2l.5-.2l.5 0l.5 0l.5 .1l.5 .2l.5 .3l.5 .5l.5 .9l.5 1l.5 2.1l.5 .1l.5-.1l.5-.2l.5-.1l.5 0l.5 .1l.5 .2l.5-.2l.5-.3l.5-.2l.5-.1l.5 0l.5 0l.5 .2l.5-.1l.5-.4l.5-.2l.5-.1l.5 0l.5 0l.5 .2l.5 0l.5 0l.5 0l.5 .2l.5 .2l.5 .3l.5 .3l.5 0l.5 0l.5 0l.5 .1l.5-.3l.5-.1l.5-.1l.5-.1l.5 0l.5 .1l.5 .1l.5 .3l.5 .1l.5-.1l.5 0l.5 0l.5-1.1l.5-.5l.5-.3l.5-.2l.5-.2l.5 0l.5 .1l.5 0l.5 0l.5 .2l.5 .2l.5 .3l.5 .6l.5 .2l.5-.2l.5 0l.5 0l.5 .1l.5 .2l.5-.1l.5-.3l.5-.2l.5-.1l.5 0l.5-.1l.5-.1l.5 0l.5 .1l.5 .1l.5 .3l.5 .5l.5 .3l.5-.4l.5-.5l.5-.4l.5-.2l.5-.1l.5 0l.5 0l.5 .2l.5 .2l.5 .4l.5-1.6l.5-.8l.5-1l.5-.6l.5-.3l.5-.2l.5-.1l.5 0l.5 0l.5 .2l.5 .2l.5 .4l.5 .7l.5 .2l.5 .3l.5 .3l.5 .6l.5 1.2l.5 .3l.5-.3l.5-.2l.5-.1l.5 0l.5 .1l.5 .2l.5 .3l.5 .4l.5 .6l.5 .2l.5 .2l.5-.1l.5-.2l.5-.1l.5 0l.5 .1l.5-.7l.5-.6l.5-.3l.5-.2l.5-.1l.5 0l.5-.3l.5-.5l.5-.3l.5-.2l.5-.1l.5 0l.5 .1l.5 .2l.5 .3l.5-.1l.5-.3l.5-.2l.5-.1l.5 0l.5 .1l.5 .2l.5 .3l.5 .4l.5 .3l.5 0l.5 0l.5-.2l.5-1.1l.5-.9l.5-.4l.5-.3l.5-.2l.5-.1l.5 0l.5 .1l.5 .1l.5 .3l.5 .5l.5 .7l.5-.2l.5-.8l.5-.5l.5-.3l.5-.2l.5-.1l.5 0l.5 .1l.5 .2l.5 .2l.5 .5l.5 .7l.5 1.3l.5 .7l.5-.6l.5-.4l.5-.2l.5-.1l.5-.1l.5 .1l.5 .1l.5 .2l.5 .3l.5 .6l.5 1.2l.5-.2l.5-.2l.5 0l.5 0l.5 .1l.5 .2l.5 .3l.5 0l.5-1.3l.5-.7l.5-.5l.5-.2l.5-.2l.5-.1l.5 .1l.5 .1l.5 .2l.5 .3l.5 .5l.5 .7l.5-.8l.5-.7l.5-.5l.5-.2l.5-.2l.5-.1l.5 .1l.5 .1l.5 .1l.5 .4l.5 .5l.5-.4l.5-.2l.5-.1l.5-.1l.5 .1l.5 .1l.5 .1l.5 0l.5 0l.5-.3l.5-.2l.5-.2l.5 0l.5 .1l.5 .1l.5 .3l.5 .4l.5 .6l.5 .5l.5-.1l.5 0l.5 .1l.5 .2l.5 .3l.5 .5l.5-.8l.5-.7l.5-.4l.5-.3l.5-.2l.5 0l.5 0l.5 .1l.5 .2l.5 .3l.5 .5l.5-.2l.5-.1l.5 0l.5 .1l.5-.1l.5 0l.5-.9l.5-.8l.5-.5l.5-.3l.5-.2l.5-.1l.5 0l.5 .1l.5 .2l.5 .2l.5 .5l.5 .7l.5 .1l.5 .1l.5 .1l.5 .3l.5 .4l.5 .6l.5 .6l.5 .1l.5 .2l.5 .3l.5-1.6l.5-.6l.5-.4l.5-.3l.5-.1l.5 0l.5 0l.5 .1l.5 .2l.5 .4l.5 .5l.5 1.2l.5 0l.5-.2l.5-.1l.5-.1l.5 .1l.5 .1l.5 .3l.5 .4l.5 .3l.5-.3l.5-.3l.5-.1l.5-.1l.5-.8l.5-.7l.5-.4l.5-.3l.5-.2l.5-.1l.5 0l.5 .1l.5 .2l.5 .2l.5 .5l.5 .7l.5 1.3l.5 1.4l.5 .3l.5-.4l.5-.3l.5-.1l.5-.1l.5 0l.5-.4l.5-.3l.5-.2l.5-1.3l.5-1.1l.5-.8l.5-.5l.5-.3l.5-.2l.5-.1l.5 0l.5 .1l.5 .1l.5 .3l.5 .5l.5 .7l.5 1.3l.5 .5l.5 0l.5-1.2l.5-.6l.5-.4l.5-.2l.5-.2l.5 0l.5 0l.5 .1l.5 .3l.5 .3l.5 .5l.5 1.2l.5 .4l.5-.5l.5-.4l.5-.2l.5-.1l.5-1.1l.5-.6l.5-.4l.5-.2l.5-.1l.5-.1l.5 0l.5 .2l.5 .2l.5 .3l.5 .6l.5 .7l.5-.1l.5 .1l.5 .1l.5 .3l.5 .4l.5 .6l.5 .3l.5 .1l.5 .1l.5 .2l.5-.1l.5-.2l.5-.2l.5 0l.5 0l.5 .1l.5 .3l.5 .3l.5 .5l.5 .3l.5-.2l.5-.1l.5 0l.5 .1l.5-.3l.5-.5l.5-.4l.5-.3l.5-.1l.5-.1l.5 0l.5-.1l.5-.4l.5-.2l.5-.1l.5 0l.5 0l.5 .2l.5 .2l.5 .4l.5 .6l.5 .2l.5-.2l.5-.1l.5-.1l.5 .1l.5 .1l.5 .3l.5-.3l.5-.3l.5-.1l.5-.1l.5 0l.5 .1l.5 .2l.5 .3l.5 .4l.5 .3l.5 .4l.5 .3l.5-.4l.5-.2l.5-.2l.5 0l.5-.3l.5-.1l.5-.1l.5 .1l.5 .1l.5-.1l.5-.2l.5-.1l.5 0l.5 0l.5 .2l.5 .3l.5 .4l.5 .5l.5-.4l.5-.2l.5-.1l.5 0l.5 0l.5-.8l.5-.7l.5-.4l.5-.3l.5-.1l.5-.1l.5 0l.5 .1l.5 .2l.5 .3l.5-.7l.5-.7l.5-.4l.5-.3l.5-.2l.5-.1l.5 0l.5 .1l.5 .2l.5 .3l.5 .5l.5 .9l.5 1l.5 2.2l.5 .2l.5 .2l.5-.4l.5-.4l.5-.3l.5-.2l.5 0l.5 0l.5-.1l.5-.1l.5-.8l.5-.9l.5-.5l.5-.3l.5-.2l.5-.1l.5 0l.5 .1l.5 .1l.5 .3l.5 .4l.5 .1l.5-.2l.5-.1l.5 0l.5 0l.5 .2l.5 .2l.5 .4l.5 .6l.5-.1l.5-.2l.5-.3l.5-.2l.5-.2l.5 0l.5 0l.5 .1l.5 .3l.5 .3l.5 .5l.5 1.1l.5 .1l.5-.4l.5-.3l.5-.5l.5-.6l.5-.4l.5-.2l.5-.2l.5 0l.5 0l.5 .1l.5 .2l.5 .4l.5 .5l.5 .6l.5-.3l.5-.2l.5 0l.5-.4l.5-.5l.5-.3l.5-.2l.5-.1l.5 0l.5 .1l.5 .1l.5 .3l.5-.4l.5-.3l.5-.1l.5-.1l.5 .1l.5 .1l.5 .2l.5 .3l.5 .3l.5-.1l.5 .1l.5 0l.5 .2l.5 .3l.5 .5l.5 .9l0 12.1l-.5 .9l-.5 .9l-.5 .5l-.5 .4l-.5 .2l-.5 .1l-.5 0l-.5 0l-.5 .1l-.5 0l-.5 0l-.5 1.6l-.5 .6l-.5 .4l-.5 .2l-.5 .2l-.5 0l-.5 0l-.5-.1l-.5-.3l-.5-.3l-.5-.5l-.5 .1l-.5 .1l-.5 .1l-.5-.1l-.5-.1l-.5-.2l-.5-.4l-.5 .1l-.5 .2l-.5 .2l-.5 .1l-.5 0l-.5-.1l-.5-.2l-.5-.3l-.5 .7l-.5 .6l-.5 .4l-.5 .2l-.5 .2l-.5 0l-.5 0l-.5-.1l-.5-.2l-.5-.4l-.5-.5l-.5-1.2l-.5-.5l-.5 .4l-.5 .5l-.5 .2l-.5 .2l-.5 .1l-.5-.1l-.5 0l-.5-.2l-.5-.3l-.5-.2l-.5-.1l-.5-.3l-.5-.4l-.5 .2l-.5 .3l-.5 .2l-.5 .2l-.5 1.1l-.5 .5l-.5 .4l-.5 .2l-.5 .1l-.5 0l-.5 0l-.5-.2l-.5-.2l-.5-.4l-.5-.6l-.5-1l-.5 0l-.5 0l-.5 .8l-.5 1l-.5 .9l-.5 .5l-.5 .3l-.5 .2l-.5 0l-.5 .1l-.5-.1l-.5-.2l-.5-.3l-.5-.4l-.5-.7l-.5-1.1l-.5 .1l-.5 0l-.5-.1l-.5 0l-.5 .3l-.5 .1l-.5 0l-.5 0l-.5-.1l-.5-.2l-.5-.4l-.5-.5l-.5-.8l-.5 .6l-.5 1.1l-.5 .6l-.5 .3l-.5 .2l-.5 .1l-.5 .1l-.5-.1l-.5-.1l-.5-.3l-.5-.4l-.5 .1l-.5 0l-.5-.1l-.5-.2l-.5-.3l-.5-.2l-.5 0l-.5 0l-.5-.1l-.5-.2l-.5-.3l-.5-.4l-.5 0l-.5 0l-.5 0l-.5 0l-.5-.1l-.5-.2l-.5-.3l-.5-.5l-.5 .1l-.5 .2l-.5 .1l-.5 0l-.5-.1l-.5-.1l-.5-.3l-.5-.3l-.5 .2l-.5 0l-.5 0l-.5-.1l-.5 .1l-.5 .1l-.5 .1l-.5 .1l-.5 .3l-.5 .2l-.5 .1l-.5 0l-.5 0l-.5-.1l-.5 .4l-.5 .5l-.5 .3l-.5 .2l-.5 .1l-.5 0l-.5-.1l-.5-.2l-.5 0l-.5 .3l-.5 .4l-.5 .2l-.5 .2l-.5 0l-.5 0l-.5-.1l-.5-.2l-.5-.4l-.5-.5l-.5-1.1l-.5-.1l-.5-.1l-.5-.1l-.5-.2l-.5-.3l-.5 .7l-.5 .5l-.5 .4l-.5 .2l-.5 .1l-.5 0l-.5 0l-.5-.1l-.5-.3l-.5-.4l-.5-.6l-.5 .2l-.5 .3l-.5 .1l-.5 .1l-.5-.1l-.5-.1l-.5-.2l-.5-.3l-.5 0l-.5 0l-.5 0l-.5 .2l-.5 .3l-.5 .1l-.5 .1l-.5 0l-.5-.1l-.5-.2l-.5-.3l-.5-.3l-.5 .2l-.5 .1l-.5 0l-.5-.1l-.5-.2l-.5-.2l-.5-.4l-.5 .6l-.5 .6l-.5 .4l-.5 .2l-.5 .2l-.5 0l-.5 0l-.5-.1l-.5-.2l-.5-.4l-.5-.2l-.5 .4l-.5 .2l-.5 .2l-.5 0l-.5 0l-.5-.1l-.5-.1l-.5 .2l-.5 .2l-.5 .1l-.5 0l-.5-.1l-.5-.2l-.5-.3l-.5-.5l-.5-.1l-.5-.3l-.5-.3l-.5 .4l-.5 1l-.5 .9l-.5 .5l-.5 .3l-.5 .2l-.5 .1l-.5 0l-.5-.1l-.5-.1l-.5-.3l-.5-.4l-.5-.7l-.5-.4l-.5 .1l-.5 0l-.5 0l-.5-.2l-.5-.2l-.5-.4l-.5 .1l-.5 .3l-.5 .4l-.5 .2l-.5 .2l-.5 0l-.5 0l-.5-.1l-.5-.2l-.5-.4l-.5-.5l-.5-.3l-.5 .2l-.5 .4l-.5 .6l-.5 .4l-.5 .3l-.5 .2l-.5 0l-.5 0l-.5-.1l-.5-.2l-.5 0l-.5 .2l-.5 .1l-.5 0l-.5-.1l-.5-.2l-.5-.3l-.5-.4l-.5-.1l-.5-.2l-.5-.2l-.5-.2l-.5 .2l-.5 .1l-.5 .1l-.5-.1l-.5-.1l-.5-.3l-.5 .1l-.5 0l-.5 .1l-.5 .3l-.5 .5l-.5 .5l-.5 .3l-.5 .2l-.5 .1l-.5 0l-.5-.1l-.5-.2l-.5-.2l-.5-.4l-.5-.8l-.5-.4l-.5 0l-.5-.2l-.5-.2l-.5 0l-.5 .8l-.5 .6l-.5 .3l-.5 .3l-.5 .1l-.5 0l-.5 0l-.5-.2l-.5-.2l-.5-.4l-.5 .9l-.5 1.5l-.5 .7l-.5 .3l-.5 .3l-.5 .1l-.5 .1l-.5 0l-.5-.1l-.5-.3l-.5-.3l-.5-.5l-.5-1.1l-.5-.7l-.5-1.5l-.5-.1l-.5-.2l-.5 .2l-.5 .6l-.5 .3l-.5 .3l-.5 .1l-.5 0l-.5 0l-.5-.2l-.5 .6l-.5 .4l-.5 .3l-.5 .1l-.5 .1l-.5-.1l-.5 0l-.5 .1l-.5 0l-.5-.1l-.5-.2l-.5-.3l-.5 .4l-.5 .3l-.5 .2l-.5 .1l-.5 0l-.5-.1l-.5-.1l-.5-.3l-.5-.4l-.5-.7l-.5-.1l-.5 .1l-.5 0l-.5-.1l-.5 .3l-.5 1l-.5 .9l-.5 .5l-.5 .3l-.5 .2l-.5 .1l-.5 0l-.5-.1l-.5-.1l-.5-.3l-.5-.4l-.5-.7l-.5-1.4l-.5-2.5l-.5 .5l-.5 .4l-.5 .2l-.5 .1l-.5 .1l-.5-.1l-.5-.1l-.5-.3l-.5-.3l-.5-.2l-.5 0l-.5-.1l-.5-.1l-.5 .2l-.5 .3l-.5 .5l-.5 .3l-.5 .2l-.5 .1l-.5 0l-.5-.1l-.5 .4l-.5 .4l-.5 .2l-.5 .2l-.5 .1l-.5-.1l-.5-.1l-.5-.2l-.5 .3l-.5 .2l-.5 .1l-.5 0l-.5 0l-.5-.2l-.5-.3l-.5-.4l-.5-.5l-.5 .1l-.5 .1l-.5 .2l-.5 .5l-.5 1.2l-.5 .6l-.5 .3l-.5 .3l-.5 .1l-.5 0l-.5 0l-.5-.2l-.5-.2l-.5-.4l-.5-.6l-.5-1.6l-.5-.4l-.5-.2l-.5-.2l-.5-.3l-.5-.5l-.5-.2l-.5 .6l-.5 .3l-.5 .2l-.5 .2l-.5 0l-.5 0l-.5 .2l-.5 .8l-.5 .4l-.5 .3l-.5 .2l-.5 .1l-.5 0l-.5-.1l-.5-.2l-.5-.3l-.5-.5l-.5-.8l-.5 .1l-.5 0l-.5 0l-.5 0l-.5 0l-.5 0l-.5-.1l-.5-.2l-.5-.1l-.5-.2l-.5 .3l-.5 .2l-.5 .1l-.5 0l-.5 0l-.5-.2l-.5-.3l-.5-.4l-.5-.7l-.5-.2l-.5-.1l-.5-.2l-.5-.3l-.5-.3l-.5 .1l-.5 0l-.5 .1l-.5 .4l-.5 .4l-.5 .2l-.5 .2l-.5 0l-.5 .1l-.5 1.5l-.5 .7l-.5 .4l-.5 .2l-.5 .2l-.5 0l-.5 0l-.5-.1l-.5-.2l-.5-.3l-.5-.6l-.5-1l-.5 .3l-.5 .2l-.5 .1l-.5 0l-.5 0l-.5 0l-.5 .5l-.5 .2l-.5 .2l-.5 .1l-.5 0l-.5-.1l-.5-.2l-.5-.3l-.5-.4l-.5-.3l-.5 .2l-.5 .1l-.5 .1l-.5-.1l-.5-.2l-.5-.2l-.5-.5l-.5-.5l-.5-.1l-.5 .9l-.5 .5l-.5 .3l-.5 .2l-.5 .1l-.5 0l-.5 0l-.5-.2l-.5-.3l-.5-.4l-.5-.7l-.5-1.4l-.5-.2l-.5-.2l-.5 .3l-.5 .4l-.5 .2l-.5 2.5l-.5 .9l-.5 1l-.5 .5l-.5 .3l-.5 .2l-.5 .1l-.5 0l-.5-.1l-.5-.1l-.5-.3l-.5-.4l-.5-.7l-.5-1.4l-.5-3.4l-.5 .4l-.5 .4l-.5 .3l-.5 .2l-.5 .3l-.5 .4l-.5 .3l-.5 .1l-.5 .1l-.5-.1l-.5 0l-.5 .2l-.5 0l-.5 0l-.5 .4l-.5 .2l-.5 .2l-.5 .1l-.5-.1l-.5-.1l-.5-.2l-.5-.3l-.5-.5l-.5-.6l-.5 0l-.5-.1l-.5-.2l-.5-.3l-.5-.4l-.5 0l-.5-.1l-.5 .4l-.5 .4l-.5 .2l-.5 .1l-.5 0l-.5-.1l-.5-.1l-.5-.1l-.5 .4l-.5 .3l-.5 .2l-.5 0l-.5 0l-.5 0l-.5-.2l-.5-.3l-.5-.5l-.5-.5l-.5 .3l-.5 .4l-.5 .3l-.5 .1l-.5 .1l-.5 0l-.5-.2l-.5-.2l-.5-.1l-.5 .4l-.5 .3l-.5 .1l-.5 .1l-.5 0l-.5-.1l-.5-.2l-.5 .8l-.5 .4l-.5 .3l-.5 .2l-.5 .1l-.5 0l-.5-.1l-.5-.2l-.5-.3l-.5-.5l-.5 0l-.5-.1l-.5-.1l-.5-.2l-.5-.4l-.5-.6l-.5-.6l-.5 .4l-.5 .7l-.5 .5l-.5 .3l-.5 .2l-.5 0l-.5 0l-.5-.1l-.5-.1l-.5-.1l-.5 .4l-.5 .3l-.5 .2l-.5 .1l-.5 0l-.5-.1l-.5-.2l-.5-.3l-.5-.5l-.5-.8l-.5 .2l-.5 .1l-.5 .1l-.5 0l-.5-.1l-.5-.2l-.5-.4l-.5-.1l-.5 .2l-.5 .1l-.5 .1l-.5-.1l-.5-.1l-.5-.2l-.5 .5l-.5 .4l-.5 .5l-.5 .4l-.5 .2l-.5 .2l-.5 .1l-.5-.1l-.5-.1l-.5-.2l-.5-.3l-.5-.5l-.5-1l-.5-.3l-.5 .1l-.5 .8l-.5 .5l-.5 .2l-.5 .2l-.5 .1l-.5 0l-.5-.1l-.5-.2l-.5-.3l-.5-.4l-.5-.8l-.5 .3l-.5 .5l-.5 .4l-.5 .2l-.5 .2l-.5 0l-.5 0l-.5 .1l-.5 .1l-.5 0l-.5-.1l-.5-.2l-.5-.3l-.5-.4l-.5-.8l-.5-.4l-.5 .7l-.5 .4l-.5 .2l-.5 .2l-.5 .1l-.5-.1l-.5-.1l-.5 .3l-.5 .3l-.5 .2l-.5 .1l-.5 0l-.5-.1l-.5 .7l-.5 .4l-.5 .2l-.5 .2l-.5 .1l-.5-.1l-.5-.1l-.5-.2l-.5-.3l-.5-.5l-.5-.9l-.5-.1l-.5-.2l-.5-.1l-.5 0l-.5-.1l-.5 0l-.5 .7l-.5 .9l-.5 .5l-.5 .4l-.5 .2l-.5 .1l-.5 0l-.5-.1l-.5-.1l-.5-.3l-.5-.3l-.5 1.1l-.5 .5l-.5 .4l-.5 .2l-.5 .2l-.5 0l-.5 0l-.5-.2l-.5-.2l-.5-.4l-.5-.5l-.5-1.7l-.5-2.4l-.5-.1l-.5-.1l-.5-.3l-.5-.4l-.5-.2l-.5-.1l-.5-.2l-.5-.2l-.5-.4l-.5-.5l-.5-1.7Z" fill="#2ca02c"/>
<line x1="67.4" y1="648" x2="506.9" y2="648" stroke="#808080" stroke-width="5.7" stroke-dasharray="22.5 10.100000000000001"/>
<rect x="67.4" y="611.9" width="439.5" height="327.4" fill="none" stroke="#000" stroke-width="1.05"/>
<path d="M87.3 939.3v4.5M187.35 939.3v4.5M287.4 939.3v4.5M387.45 939.3v4.5M487.5 939.3v4.5M67.4 856.2h-4.5M67.4 766.95h-4.5M67.4 677.7h-4.5" stroke="#000" stroke-width="1.05"/>
<rect x="287.6" y="797.7" width="204.9" height="127.1" rx="3.5" fill="#fff" fill-opacity="0.8" stroke="#cccccc" stroke-opacity="0.8" stroke-width="1.05"/>
<line x1="295.1" y1="819.6" x2="355" y2="819.6" stroke="#1f77b4" stroke-width="6.0"/>
<line x1="295.1" y1="859.8" x2="355" y2="859.8" stroke="#ff7f0e" stroke-width="6.0"/>
<line x1="295.1" y1="900" x2="355" y2="900" stroke="#2ca02c" stroke-width="6.0"/>
<text transform="translate(0,604.30) scale(0.9548,1)" x="226.61 250.13 260.56 260.56 300.90" y="0" font-size="34.203" font-family='"Liberation Sans", sans-serif'>BIM B</text>
<text transform="translate(0,604.30) scale(1.2362,1)" x="251.48" y="0" font-size="34.203" font-family='"Liberation Sans", sans-serif'>=</text>
<text transform="translate(0,604.30) scale(1.0429,1)" x="323.60" y="0" font-size="34.203" font-family='"Liberation Sans", sans-serif'>6</text>
<text transform="translate(0,608.30) scale(0.9958,1)" x="67.68 84.81" y="0" font-size="28.406" font-family='"Liberation Sans", sans-serif'>1e</text>
<text transform="translate(0,608.30) scale(1.2234,1)" x="83.21" y="0" font-size="28.406" font-family='"Liberation Sans", sans-serif'>−</text>
<text transform="translate(0,608.30) scale(0.9575,1)" x="129.64" y="0" font-size="28.406" font-family='"Liberation Sans", sans-serif'>1</text>
<text transform="translate(30.40,0) rotate(-90) scale(0.9828,1)" x="-943.67 -934.79 -917.95 -902.46 -893.60 -875.31 -857.30 -848.44 -830.15 -813.04 -796.10 -778.98 -762.01 -762.01 -739.59 -719.62 -702.23 -681.23 -662.38 -651.92" y="0" font-size="28.696" font-family='"Liberation Sans", sans-serif'>Instantaneous Reward</text>
<text transform="translate(42.47,687.4) scale(0.9931,1)" font-size="28.406" font-family='"Liberation Sans", sans-serif' fill="#000">3</text>
<text transform="translate(41.85,776.65) scale(1.0213,1)" font-size="28.406" font-family='"Liberation Sans", sans-serif' fill="#000">2</text>
<text transform="translate(41.96,865.9) scale(1.0035,1)" font-size="28.406" font-family='"Liberation Sans", sans-serif' fill="#000">1</text>
<text transform="translate(0,968.30) scale(1.0431,1)" x="55.36 71.55 80.07 96.58" y="0" font-size="27.391" font-family='"Liberation Sans", sans-serif'>0.00</text>
<text transform="translate(0,968.30) scale(1.0231,1)" x="154.44 171.00 179.53 196.78" y="0" font-size="27.391" font-family='"Liberation Sans", sans-serif'>0.25</text>
<text transform="translate(0,968.30) scale(1.0260,1)" x="251.45 267.84 276.49 293.35" y="0" font-size="27.391" font-family='"Liberation Sans", sans-serif'>0.50</text>
<text transform="translate(0,968.30) scale(1.0254,1)" x="349.25 365.77 374.58 391.49" y="0" font-size="27.391" font-family='"Liberation Sans", sans-serif'>0.75</text>
<text transform="translate(0,968.30) scale(1.0511,1)" x="434.48 450.98 459.67 476.39" y="0" font-size="27.391" font-family='"Liberation Sans", sans-serif'>1.00</text>
<text transform="translate(0,1000.70) scale(1.0145,1)" x="206.10 223.40 231.15 256.06 272.24 281.63 296.64 305.97 322.66" y="0" font-size="28.986" font-family='"Liberation Sans", sans-serif'>Time-step</text>
<text transform="translate(353.43,1000.61) scale(1.1844,1)" font-size="29.394" font-family='"Liberation Sans", sans-serif' font-style="italic">t</text>
<text transform="translate(0,998.70) scale(1.0330,1)" x="441.45 458.15 474.61" y="0" font-size="27.246" font-family='"Liberation Sans", sans-serif'>1e5</text>
<text transform="translate(251.71,1056.48) scale(0.9094,1)" font-size="34.066" font-family='"Liberation Serif", serif' stroke="#fff" stroke-width="0.35">(</text>
<text transform="translate(262.59,1056.7) scale(1.1087,1)" font-size="29.583" font-family='"Liberation Serif", serif' stroke="#fff" stroke-width="0.35">c</text>
<text transform="translate(277.96,1056.48) scale(0.8242,1)" font-size="34.066" font-family='"Liberation Serif", serif' stroke="#fff" stroke-width="0.35">)</text>
<text transform="translate(0,829.50) scale(0.9148,1)" x="408.07 429.38 438.99 458.23 475.69 497.00 507.80" y="0" font-size="28.841" font-family='"Liberation Sans", sans-serif'>C-ETC-K</text>
<text transform="translate(0,869.00) scale(0.9213,1)" x="405.26 426.53 436.17 455.39 472.85 494.12 503.54" y="0" font-size="28.696" font-family='"Liberation Sans", sans-serif'>C-ETC-Y</text>
<text transform="translate(374.18,908.82) scale(0.9591,1)" font-size="28.310" font-family='"Liberation Sans", sans-serif'>OG</text>
<text transform="translate(416.68,899.01) scale(1.0592,1)" font-size="19.455" font-family='"Liberation Sans", sans-serif' font-style="italic">o</text>
<line x1="700.8" y1="611.9" x2="700.8" y2="939.3" stroke="#b0b0b0" stroke-width="1.05"/>
<line x1="800.85" y1="611.9" x2="800.85" y2="939.3" stroke="#b0b0b0" stroke-width="1.05"/>
<line x1="900.9" y1="611.9" x2="900.9" y2="939.3" stroke="#b0b0b0" stroke-width="1.05"/>
<line x1="1000.95" y1="611.9" x2="1000.95" y2="939.3" stroke="#b0b0b0" stroke-width="1.05"/>
<line x1="1101" y1="611.9" x2="1101" y2="939.3" stroke="#b0b0b0" stroke-width="1.05"/>
<line x1="680.9" y1="862.1" x2="1120.4" y2="862.1" stroke="#b0b0b0" stroke-width="1.05"/>
<line x1="680.9" y1="778.3" x2="1120.4" y2="778.3" stroke="#b0b0b0" stroke-width="1.05"/>
<line x1="680.9" y1="694.5" x2="1120.4" y2="694.5" stroke="#b0b0b0" stroke-width="1.05"/>
<path d="M700.5 772.4l.5 2.2l.5-12.2l.5 12.8l.5-8.6l.5 6.9l.5 0l.5 1.8l.5-3.1l.5 1.5l.5-6.3l.5 7.6l.5-5.3l.5 4l.5-3.9l.5 4l.5-14.7l.5 14.6l.5-3.3l.5 4.5l.5-3.8l.5 3l.5-13.3l.5 12.6l.5-1.8l.5 1.4l.5-4l.5 4.6l.5 .9l.5 .6l.5-1.8l.5-.2l.5-8l.5 8.1l.5-7.4l.5 8.6l.5-6.2l.5 5.7l.5-12.5l.5 12.9l.5-13.6l.5 13.1l.5-11.7l.5 12l.5-9.2l.5 9.6l.5-6.4l.5 6.7l.5-.3l.5 .8l.5-10.6l.5 9.5l.5-13.6l.5 12.7l.5-2.8l.5 2.4l.5-6.1l.5 6.6l.5-3.3l.5 4.8l.5-1.2l.5 1.2l.5-8.3l.5 8.5l.5 .2l.5-2l.5 1.3l.5-.3l.5-5.6l.5 5.1l.5-5.4l.5 4.6l.5-9.3l.5 10.2l.5-7.6l.5 7.8l.5-14.9l.5 15.6l.5-9.9l.5 9.1l.5 1.1l.5-.5l.5-14.6l.5 13.4l.5 1.9l.5-.7l.5 .8l.5-2.1l.5 1.1l.5 .9l.5-16.5l.5 15.5l.5-2.7l.5 3.7l.5-4.9l.5 4.1l.5-6.4l.5 7.3l.5-1.4l.5 .9l.5-5.4l.5 5.1l.5-8.2l.5 8.3l.5-14.3l.5 12.5l.5 2.1l.5-.1l.5-7.6l.5 6.1l.5 1.5l.5 0l.5-5.6l.5 4.4l.5-13.2l.5 12.7l.5-10.4l.5 12.5l.5-16.4l.5 14.9l.5 .9l.5 0l.5-8.4l.5 8.1l.5-5l.5 3.9l.5-11.1l.5 11.8l.5-11.2l.5 11.6l.5-15.4l.5 14.9l.5-14.8l.5 16.2l.5-14.4l.5 13.1l.5-9.6l.5 10.5l.5-7.3l.5 7.1l.5-.2l.5 .9l.5-15l.5 13.3l.5-.5l.5 1.5l.5-5.6l.5 4.2l.5 1l.5-1.4l.5-13.3l.5 15.2l.5-8.9l.5 8.6l.5-9.7l.5 10.4l.5-6.2l.5 4.9l.5-7.8l.5 7.5l.5-12.8l.5 14l.5-.9l.5 .5l.5-7.2l.5 5.8l.5-8.5l.5 9l.5-14.5l.5 15.7l.5-2.2l.5 1.8l.5-2.4l.5 1.8l.5-14.2l.5 15.5l.5-6.8l.5 5.5l.5-5.1l.5 4.5l.5-9.1l.5 9.2l.5 1.2l.5 .5l.5 0l.5-1.6l.5-14.1l.5 16.2l.5-12.5l.5 10.6l.5-13.1l.5 14.3l.5-10.3l.5 10.4l.5 0l.5-1.3l.5 1.6l.5-1.5l.5-1.5l.5 2.1l.5-13.4l.5 14l.5-5.7l.5 5.4l.5-1.1l.5 .8l.5-.7l.5-.1l.5-7l.5 8.3l.5-15.7l.5 15.5l.5-9.2l.5 8.2l.5-1.1l.5 3l.5-14.7l.5 12.3l.5 .7l.5 1.3l.5-5.3l.5 4.2l.5-15.3l.5 14.3l.5-14.2l.5 16.1l.5-8.1l.5 7.6l.5-1.4l.5 2.3l.5-1.5l.5 .8l.5 .2l.5 .3l.5 .1l.5-1.3l.5-5.2l.5 6.2l.5-6.8l.5 6.3l.5-8.8l.5 7.5l.5-2l.5 2.8l.5-.8l.5 0l.5-6.7l.5 8.7l.5-2.5l.5 2.5l.5-1.4l.5 1l.5-12.4l.5 12l.5-2l.5 2.1l.5-2l.5 1.2l.5 1.5l.5-.3l.5-3.2l.5 3.4l.5-11l.5 11l.5-3.1l.5 3.5l.5-11.7l.5 10.9l.5-8.9l.5 9.2l.5 .5l.5-.7l.5-11.5l.5 10.2l.5-2.2l.5 2.1l.5 1.9l.5-1l.5-1.6l.5 1.8l.5-1.3l.5 .1l.5-1.3l.5 1.2l.5 1.4l.5-.1l.5-4.8l.5 4.1l.5-2.5l.5 3l.5 .8l.5-.3l.5-10.4l.5 10.9l.5-5.9l.5 5.6l.5-1l.5 1.3l.5-12.7l.5 11.2l.5-3l.5 3.8l.5-10.3l.5 9.8l.5-13.7l.5 12.9l.5-4.3l.5 4.9l.5-6l.5 6.9l.5-5.3l.5 4.3l.5-6.1l.5 6.3l.5-5.1l.5 4.3l.5-9.8l.5 11.9l.5-12.7l.5 10.7l.5-10.8l.5 12.2l.5-3.7l.5 4l.5 .2l.5-.8l.5-12.6l.5 11.8l.5-7.9l.5 7.7l.5-7.7l.5 9.3l.5-12.2l.5 11.9l.5-13.7l.5 13.8l.5 0l.5-1.1l.5 1l.5-1.3l.5-3.2l.5 3.4l.5 1.6l.5-1l.5-8.8l.5 9.9l.5-8.6l.5 8.5l.5-3.2l.5 2.7l.5-8.2l.5 8.8l.5-1.6l.5-.1l.5-9l.5 9.8l.5-2.1l.5 1.5l.5-4.5l.5 5.5l.5-13.5l.5 13.8l.5-12.3l.5 11.2l.5-8l.5 7.9l.5-10l.5 9.5l.5-13.1l.5 14.6l.5-.9l.5-.7l.5 .1l.5 1.6l.5-12.2l.5 10.3l.5-11.1l.5 12.3l.5-3.5l.5 2.3l.5-8.9l.5 9.8l.5 1.6l.5-.5l.5 .4l.5-2.2l.5-.3l.5 2.2l.5-8l.5 7.9l.5-7.3l.5 5.4l.5-11.7l.5 13.5l.5-14.6l.5 14.2l.5-6.3l.5 6.5l.5-16.2l.5 16.2l.5-10.6l.5 9.8l.5-8.9l.5 10.2l.5-7.3l.5 5.1l.5-5.6l.5 7.6l.5 .1l.5-.4l.5-10.8l.5 11.5l.5-.2l.5-1.4l.5-12.7l.5 13.3l.5-8.1l.5 8.5l.5-2.4l.5 1.9l.5-1.2l.5 1.2l.5-.2l.5-1l.5-7.3l.5 9.5l.5-1.8l.5-.1l.5-2.6l.5 4l.5 .6l.5-1.6l.5-6.5l.5 6.1l.5 .4l.5-.2l.5-11.4l.5 11.2l.5-9.5l.5 10.5l.5 .8l.5-1.3l.5 1.5l.5-.1l.5-5.1l.5 5l.5-5.8l.5 3.9l.5 .4l.5-.2l.5-14.9l.5 16.8l.5-5.5l.5 3.8l.5-9.5l.5 10.6l.5-12.2l.5 12l.5-1.2l.5 .8l.5-7.7l.5 6.9l.5-7.9l.5 9.8l.5-8.1l.5 7.4l.5-9.9l.5 10.7l.5-9.8l.5 7.9l.5 1.7l.5 .3l.5-14.7l.5 12.4l.5 .5l.5-.6l.5-2.9l.5 4l.5-5.1l.5 5.5l.5-13.6l.5 12.9l.5-13.9l.5 13.9l.5-13.8l.5 14.1l.5-5.2l.5 5l.5 1.5l.5-2l.5 .7l.5-1.1l.5 2.1l.5-1.5l.5-10.3l.5 10.7l.5 .6l.5-1.3l.5-1.8l.5 3.2l.5-9.8l.5 8l.5 1.7l.5-.3l.5-9.1l.5 9.5l.5-14.7l.5 13.9l.5 .9l.5 .2l.5-1l.5 .2l.5-13.8l.5 14.7l.5-1.2l.5 1l.5-7.7l.5 7.1l.5-4.4l.5 5.1l.5-12.8l.5 12l.5-12.9l.5 14l.5-6.1l.5 5.3l.5-12.7l.5 11.8l.5-5.5l.5 6.9l.5-9.9l.5 8l.5-9.9l.5 9.7l.5-6.1l.5 7.8l.5-1.6l.5 .4l.5-11l.5 11.4l.5-10.8l.5 11.2l.5-12.6l.5 12l.5-.9l.5 1.2l.5-8.3l.5 9.3l.5-15.1l.5 13.5l.5 .7l.5 .8l.5 .6l.5-2.4l.5 .6l.5-.3l.5-5l.5 7l.5-2.2l.5 1.6l.5-11.3l.5 11.1l.5-.4l.5-1.1l.5-4.8l.5 7l.5-16.2l.5 14.7l.5-4.2l.5 5.5l.5-10.2l.5 10.4l.5-15.5l.5 13.8l.5-9.1l.5 9l.5-12.1l.5 12.9l.5-11.8l.5 12.7l.5-10.4l.5 8.8l.5-.4l.5 2l.5-14.9l.5 12.9l.5 1.3l.5-.5l.5-.3l.5 1.3l.5-15l.5 13.8l.5-10.2l.5 11.2l.5-11.5l.5 10.5l.5-2.6l.5 3l.5-1.5l.5 1.3l.5-.4l.5 .8l.5-12.8l.5 12.2l.5-7.1l.5 8.5l.5-12.9l.5 11.6l.5-14.3l.5 13.5l.5-13.1l.5 14.1l.5-10.7l.5 11.8l.5 0l.5-1.7l.5-8.2l.5 7.8l.5-1.2l.5 2.3l.5-11.1l.5 10.8l.5-12.1l.5 12.7l.5-12.7l.5 11.5l.5-12.7l.5 13.9l.5-14l.5 14.2l.5-7.8l.5 6.1l.5-7.1l.5 8.1l.5-3l.5 3.2l.5-5.4l.5 5l.5-5.9l.5 6.8l.5-1.2l.5-.5l.5-6.6l.5 8.7l.5-3.7l.5 2.4l.5-.9l.5 .3l.5-5.3l.5 5.9l.5-8.3l.5 9.6l.5-15.1l.5 13.3l.5 .8l.5-.1l.5-5.9l.5 6.6l.5-4l.5 4.1l.5-8.6l.5 8.2l.5 .2l.5 .3l.5-.9l.5-.1l.5-6.3l.5 6.9l.5-6.8l.5 6.2l.5-.7l.5 2.2l.5-16.1l.5 15.7l.5-2.2l.5 .9l.5-14.9l.5 16.4l.5-4.9l.5 3l.5 1.5l.5 .1l.5-8.4l.5 6.9l.5 1.2l.5-.2l.5-7.5l.5 7.2l.5-6.1l.5 5l.5-14.1l.5 16.1l.5-2.4l.5 1.9l.5 .1l.5 .5l.5-7.7l.5 5.6l.5-1l.5 3l.5-8.6l.5 8.3l.5 .7l.5-.1l.5-14.1l.5 14l.5-9.2l.5 8.4l.5-11l.5 10.8l.5-1.2l.5 2l.5-2.1l.5 2l.5-2.2l.5 2l.5-7.9l.5 7.4l.5 .8l.5-.6l.5-14.4l.5 13.1l.5-1.5l.5 3.5l.5-3l.5 3.1l.5-2.6l.5 .5l.5-11.9l.5 13.1l.5-6.6l.5 6l.5-8.9l.5 8.9l.5-9.6l.5 9.9l.5 .3l.5-.6l.5-8.3l.5 9.7l.5-1.6l.5 .4l.5-3.3l.5 2.8l.5-1.1l.5 1.5l.5-7.3l.5 8.7l.5-2.9l.5 2.3l.5-2.7l.5 3.4l.5-2.4l.5 1.2l.5-1.1l.5 .9l.5-3.8l.5 4.2l.5-1l.5 .2l.5 1.4l.5-1.8l.5-6.1l.5 6.1l.5-5.4l.5 6.9l.5-3.8l.5 2.3l.5-4.9l.5 6.3l.5-.5l.5 1.1l.5-5l.5 4.2l.5-11.6l.5 12.5l.5-5.8l.5 5.8l.5-2.6l.5 1.6l.5-13l.5 14l.5-1.5l.5 0l.5-5.6l.5 7.2l.5-10.1l.5 7.9l.5-9.1l.5 9l.5-9l.5 10.7l.5-11.9l.5 11.3l.5 .6l.5-.1l.5-14.9l.5 14.1l.5-3l.5 2.9l.5-8.6l0 61.8l-.5-3.6l-.5 6.6l-.5-6.3l-.5 3.8l-.5-4l-.5-1.1l-.5 1l-.5 .9l-.5-.4l-.5-.9l-.5-.7l-.5 10.9l-.5-10.7l-.5 4.5l-.5-4.8l-.5 .9l-.5 0l-.5 1l-.5-.6l-.5 .3l-.5-1.2l-.5 10l-.5-10.4l-.5 12.3l-.5-10.8l-.5 3.9l-.5-4.2l-.5 2.6l-.5-2.1l-.5 8.3l-.5-9.3l-.5 9.7l-.5-10.2l-.5 3.4l-.5-2.7l-.5 5.5l-.5-5.6l-.5 5.7l-.5-5.3l-.5 6.1l-.5-6.9l-.5 .8l-.5-.5l-.5-.4l-.5 .3l-.5 8.8l-.5-8.2l-.5-1.1l-.5 .5l-.5 .7l-.5 0l-.5-.1l-.5-.3l-.5 6.9l-.5-6.9l-.5 3.4l-.5-2.4l-.5-1.2l-.5-.7l-.5 0l-.5 .7l-.5 8.2l-.5-7.4l-.5 2.8l-.5-3.7l-.5 1.3l-.5-.4l-.5 .7l-.5-1.6l-.5 7.1l-.5-7.4l-.5 4.6l-.5-3.2l-.5 4.4l-.5-5.3l-.5 5.4l-.5-5.8l-.5 8.4l-.5-8.6l-.5 2.3l-.5-2.2l-.5 2.2l-.5-1l-.5-1l-.5-.2l-.5 5.3l-.5-4.3l-.5 4.3l-.5-4.6l-.5 1.7l-.5-2.7l-.5 9.5l-.5-9.2l-.5 .5l-.5-.6l-.5 .1l-.5 1.1l-.5-.1l-.5 .2l-.5-1.4l-.5 .5l-.5 8.2l-.5-7.6l-.5 7.8l-.5-8.6l-.5 2.7l-.5-1.8l-.5 6.3l-.5-6.1l-.5 4.3l-.5-4.7l-.5 5.7l-.5-5.4l-.5 4.9l-.5-4.9l-.5 1.2l-.5-2.4l-.5 2.2l-.5-1.3l-.5-1.1l-.5 1l-.5 9.9l-.5-9.3l-.5 9l-.5-10.2l-.5 0l-.5-.2l-.5 9.4l-.5-8.8l-.5 2.4l-.5-2.8l-.5 .7l-.5 .7l-.5-1.7l-.5 .4l-.5 1.4l-.5-.5l-.5-.3l-.5 .6l-.5 4.7l-.5-4.6l-.5 7.1l-.5-8.4l-.5 2.8l-.5-2.1l-.5 5.9l-.5-5.7l-.5-1l-.5 .6l-.5 .7l-.5-1.5l-.5 10.2l-.5-10.3l-.5 .5l-.5-.1l-.5 5.8l-.5-4.6l-.5-1.3l-.5 .5l-.5 10.9l-.5-11.5l-.5 4.3l-.5-4.1l-.5 8.6l-.5-9l-.5-.1l-.5 1.6l-.5 4.3l-.5-4.9l-.5 3.3l-.5-4.1l-.5 11.7l-.5-10.3l-.5 .9l-.5-.8l-.5 8.9l-.5-9.3l-.5 6.6l-.5-6.3l-.5 5.6l-.5-5.7l-.5 .2l-.5-1.6l-.5 7.6l-.5-6.2l-.5 6.8l-.5-7.6l-.5 10.5l-.5-10.6l-.5 7.9l-.5-6.8l-.5 8.4l-.5-9.2l-.5 1.3l-.5-.8l-.5 9.2l-.5-9.6l-.5 2.7l-.5-3.1l-.5 11l-.5-10.9l-.5 9.8l-.5-10.1l-.5 9.1l-.5-8.5l-.5 10.5l-.5-10.7l-.5 11.2l-.5-10.5l-.5 11l-.5-11l-.5 10.6l-.5-11.5l-.5 1.8l-.5-1.7l-.5-.6l-.5 1l-.5 9.4l-.5-9.6l-.5-.2l-.5 1l-.5 10.1l-.5-10.8l-.5-.1l-.5 .6l-.5 6.1l-.5-7.4l-.5 1.4l-.5-.4l-.5 11.2l-.5-11.5l-.5 6.2l-.5-6.9l-.5 1.1l-.5-1.2l-.5 4.8l-.5-4.1l-.5 3.5l-.5-3.9l-.5 9.5l-.5-9.1l-.5 9.7l-.5-9.1l-.5-.9l-.5-.1l-.5-.1l-.5 .6l-.5 10.1l-.5-9.7l-.5 10.5l-.5-11.6l-.5 7.3l-.5-7.5l-.5 9.9l-.5-8.1l-.5 4.7l-.5-5.8l-.5 10.1l-.5-9.6l-.5 0l-.5-1l-.5 11.4l-.5-11.1l-.5-.4l-.5 1.2l-.5 7.8l-.5-8l-.5 10.8l-.5-10.1l-.5 6.3l-.5-8.1l-.5 12l-.5-11l-.5 1.2l-.5-2.1l-.5 3.2l-.5-1.7l-.5 10.6l-.5-11.9l-.5 .4l-.5 .3l-.5 3.9l-.5-4.7l-.5 4.1l-.5-2.8l-.5 9.7l-.5-10l-.5 9.1l-.5-9.6l-.5 7.4l-.5-7.6l-.5 .3l-.5-.6l-.5 4.6l-.5-4.2l-.5 7.7l-.5-6.8l-.5 4.1l-.5-4l-.5 1.1l-.5-.9l-.5 6.1l-.5-7.8l-.5 6.2l-.5-4.8l-.5 10.1l-.5-10.3l-.5 .2l-.5-.1l-.5-1.1l-.5 .2l-.5 3.8l-.5-3l-.5 5.5l-.5-6.4l-.5 .3l-.5 .3l-.5 6.8l-.5-7l-.5 7.2l-.5-6.1l-.5 4.8l-.5-5.8l-.5 0l-.5 .7l-.5 6l-.5-7.1l-.5 10.9l-.5-11.2l-.5 6.3l-.5-5.2l-.5 5.4l-.5-6.2l-.5 .4l-.5 .6l-.5 4l-.5-3.8l-.5 8.4l-.5-10.1l-.5 1.8l-.5-1.7l-.5 3.9l-.5-2.9l-.5 10.6l-.5-11.5l-.5-.2l-.5 1.3l-.5 9.2l-.5-9.9l-.5 .8l-.5-.9l-.5 11.8l-.5-11.5l-.5 5.3l-.5-6l-.5 .3l-.5 .9l-.5-.5l-.5 0l-.5 8.4l-.5-7.8l-.5-1.2l-.5 .7l-.5 5.1l-.5-5.5l-.5 .8l-.5 .3l-.5 8.7l-.5-9.3l-.5 2.5l-.5-2.4l-.5 .8l-.5-1.2l-.5 .6l-.5-.8l-.5 .5l-.5 .9l-.5 7.3l-.5-8.7l-.5 5.2l-.5-5.5l-.5 .8l-.5 .4l-.5 2.1l-.5-2.3l-.5-.5l-.5 1.1l-.5 0l-.5-1.5l-.5 5.7l-.5-4.7l-.5 7l-.5-6.5l-.5 .8l-.5-2.6l-.5 5l-.5-4.4l-.5 10l-.5-10.4l-.5 3.9l-.5-2.6l-.5 7l-.5-7.7l-.5-.4l-.5 1.1l-.5-.6l-.5-.2l-.5-.3l-.5 .9l-.5 8.4l-.5-8.2l-.5 .2l-.5-.1l-.5-1.6l-.5 1.3l-.5 10.2l-.5-10.1l-.5-.7l-.5 .2l-.5 10.2l-.5-10.5l-.5 2.1l-.5-2.5l-.5 5.5l-.5-5.5l-.5 3.4l-.5-3.3l-.5-.3l-.5 .8l-.5 11l-.5-10.1l-.5 10.1l-.5-10.3l-.5 5.1l-.5-5.6l-.5 7.9l-.5-7.1l-.5 2.2l-.5-2.2l-.5 10.4l-.5-11.4l-.5 9.7l-.5-9.6l-.5 7.4l-.5-6.8l-.5-.1l-.5 0l-.5 3.7l-.5-4.5l-.5 .5l-.5-.2l-.5 .3l-.5 .6l-.5 5.3l-.5-6l-.5 7.9l-.5-8.7l-.5 5.5l-.5-5.3l-.5 4.2l-.5-4.2l-.5-.4l-.5 1.6l-.5-.9l-.5-.4l-.5 4.9l-.5-3.9l-.5 1.1l-.5-.6l-.5 4.5l-.5-4.9l-.5-.3l-.5 .2l-.5 10.3l-.5-10.9l-.5 3.6l-.5-3.7l-.5 3.6l-.5-3.2l-.5 9.8l-.5-10.4l-.5 11.4l-.5-10.1l-.5 5.4l-.5-7l-.5 8.2l-.5-7.8l-.5 8.4l-.5-7.9l-.5 7.1l-.5-6.8l-.5 9.8l-.5-10.6l-.5 10.6l-.5-10.7l-.5 9.9l-.5-9.3l-.5 6l-.5-5.7l-.5 .8l-.5-1.9l-.5 7.1l-.5-6.7l-.5 .7l-.5 .4l-.5 3.5l-.5-4.2l-.5 1.5l-.5-.9l-.5 7.9l-.5-9.2l-.5 11.1l-.5-10.9l-.5 .8l-.5-.5l-.5 10.4l-.5-11.3l-.5 11.3l-.5-11.3l-.5 10.3l-.5-9.7l-.5 3.6l-.5-4l-.5 7.9l-.5-7.2l-.5 1.4l-.5-.4l-.5 10.4l-.5-10.5l-.5-1.7l-.5 .9l-.5 9.3l-.5-9.8l-.5 3.2l-.5-3.4l-.5 3.5l-.5-2.8l-.5 10.2l-.5-11.1l-.5 8.2l-.5-8.2l-.5 1l-.5-1l-.5 5l-.5-5l-.5 1.8l-.5-.5l-.5 3.3l-.5-4.7l-.5 12.5l-.5-11l-.5 3.7l-.5-3.4l-.5 8.1l-.5-8.1l-.5 5.2l-.5-5.5l-.5 2.4l-.5-3.3l-.5 7.7l-.5-7.6l-.5-.4l-.5 0l-.5 2.7l-.5-1.9l-.5 2l-.5-2.8l-.5 4.2l-.5-3.1l-.5-.1l-.5-.2l-.5 10.1l-.5-11.2l-.5 5.2l-.5-3.5l-.5 7l-.5-7.9l-.5 5.4l-.5-5.6l-.5 8.6l-.5-7.9l-.5 .4l-.5-.3l-.5 3.5l-.5-3.9l-.5-.3l-.5 .8l-.5-1.3l-.5 1.2l-.5 7l-.5-7.3l-.5 7.1l-.5-6.6l-.5 3.4l-.5-3.4l-.5 3.5l-.5-3.6l-.5 0l-.5-.8l-.5 3.5l-.5-2.7l-.5 10.3l-.5-10.6l-.5 9.2l-.5-9.1l-.5 .4l-.5-1.4l-.5 5.7l-.5-5.7l-.5 1.4l-.5-1.1l-.5 6l-.5-4.8l-.5 9.4l-.5-11.1l-.5 4.2l-.5-4.2l-.5 0l-.5 1.3l-.5 8.5l-.5-9.3l-.5 11.7l-.5-11.9l-.5 4.3l-.5-4l-.5 10l-.5-8.9l-.5-1.3l-.5-.1l-.5 6l-.5-6.3l-.5 1.8l-.5-1.2l-.5 3.5l-.5-3.1l-.5 4.7l-.5-5.5l-.5 5.7l-.5-5l-.5 1.8l-.5-1l-.5 5.4l-.5-5.5l-.5-1.5l-.5 .2l-.5 1l-.5-.5l-.5 6.2l-.5-6.1l-.5 3.8l-.5-3.4l-.5 1l-.5-.9l-.5 4.5l-.5-5.5l-.5 3.9l-.5-2.7l-.5 4.6l-.5-5.5l-.5 10.8l-.5-10.9l-.5 2.4l-.5-2.8l-.5 3.3l-.5-3.3l-.5 1.5l-.5-1l-.5 1.9l-.5-2l-.5 1.4l-.5-1.7l-.5 10l-.5-9.6l-.5 10.1l-.5-10l-.5 3.4l-.5-2.5l-.5 10.1l-.5-10.8l-.5 7.9l-.5-7.4l-.5 1.9l-.5-1.6l-.5-.2l-.5-.2l-.5 8.8l-.5-8.5l-.5 6.9l-.5-8.7l-.5 11.2l-.5-9.6l-.5-.5l-.5-.2l-.5 3.1l-.5-2.5l-.5 4.3l-.5-4.7l-.5 1.2l-.5-1.2l-.5 10.2l-.5-10.8l-.5 2.8l-.5-2l-.5-.4l-.5-.5l-.5 10.7l-.5-9.3l-.5 3l-.5-3.3l-.5 3.3l-.5-4.3l-.5 3.5l-.5-3.6l-.5 6.7l-.5-5.4l-.5-.9l-.5 1l-.5 0l-.5-.7l-.5-.4l-.5 1.1l-.5 2.5l-.5-3.4l-.5 .2l-.5 .4l-.5 .8l-.5-1.5l-.5 2.9l-.5-2.4l-.5 2.1l-.5-2.4l-.5 8.4l-.5-7.8l-.5-.1l-.5 .1l-.5 2.3l-.5-2.7l-.5 7.2l-.5-6.6l-.5 .1l-.5-1.1l-.5 9.8l-.5-8.9l-.5 3.3l-.5-4.7l-.5 6.7l-.5-5.4l-.5-1.4l-.5 .8l-.5 5.8l-.5-6l-.5 3.8l-.5-4l-.5 8.6l-.5-8.3l-.5 3.6l-.5-3.8l-.5 2.3l-.5-1.6l-.5-.6l-.5 .9l-.5 6.5l-.5-6.4l-.5 3.4l-.5-4.8l-.5 3.8l-.5-2.5l-.5-.8l-.5-.3l-.5 4.7l-.5-5l-.5-.3l-.5 0l-.5 8.9l-.5-7.2l-.5 10l-.5-10.1l-.5 3.9l-.5-4l-.5 2.5l-.5-3.1l-.5 3.7l-.5-3.7l-.5-.5l-.5 .8l-.5 9.4l-.5-9.8l-.5 .3l-.5 .1l-.5 7l-.5-6.7l-.5 1.8l-.5-1.9l-.5 .9l-.5-2.1l-.5 5.5l-.5-5.5l-.5 9.2l-.5-8.5l-.5 .2Z" fill="#2ca02c" fill-opacity="0.2"/>
<path d="M745.7 651.9l.5 2.3l.5-1l.5 1.1l.5 .2l.5-.3l.5-2.6l.5 3.3l.5-.8l.5 .6l.5 .1l.5-.3l.5-2.3l.5 2.3l.5-1.5l.5 1.8l.5-4.2l.5 4l.5 .4l.5-.7l.5 .6l.5-.5l.5-2.3l.5 2l.5-4.8l.5 5.4l.5-2.9l.5 3.1l.5-2.7l.5 2.5l.5-1.8l.5 1.7l.5-5.4l.5 5.2l.5-4.6l.5 4.8l.5-1.2l.5 .7l.5-.6l.5 1.5l.5-.9l.5 .2l.5-1.5l.5 1.4l.5-3.2l.5 3.1l.5 .3l.5-.3l.5 .2l.5 .3l.5-5.6l.5 5.7l.5-2.9l.5 2.9l.5-.1l.5-.1l.5 .3l.5 .2l.5-2.3l.5 2l.5-4.7l.5 4.5l.5-1.1l.5 1.4l.5-5.4l.5 4.8l.5-2.3l.5 3l.5-2.8l.5 2.8l.5-.3l.5 0l.5 .2l.5 .1l.5-2.8l.5 2.1l.5-.2l.5 .2l.5 .3l.5 .1l.5-1.3l.5 .9l.5-2.2l.5 2.5l.5 .3l.5 0l.5-.9l0 25.2l-.5-.1l-.5 .4l-.5-.9l-.5 .4l-.5-.9l-.5 2.9l-.5-2.2l-.5 2.9l-.5-3l-.5 1.1l-.5-1.5l-.5 3.3l-.5-3l-.5 1l-.5-1.3l-.5 4.9l-.5-4.3l-.5 2.9l-.5-3.5l-.5 .5l-.5-.6l-.5 3.8l-.5-3.2l-.5-.7l-.5 .2l-.5 4.5l-.5-4l-.5-.6l-.5 .1l-.5 2.5l-.5-2.3l-.5-.2l-.5 .4l-.5 5.6l-.5-5.3l-.5 5l-.5-5.4l-.5 4.6l-.5-5l-.5 2l-.5-1.7l-.5 3l-.5-3l-.5 1.5l-.5-1.8l-.5-.1l-.5 .6l-.5 5.5l-.5-5.4l-.5 2.2l-.5-2.1l-.5 2.4l-.5-2.6l-.5 .2l-.5-.2l-.5 2l-.5-2.4l-.5 3.6l-.5-3.1l-.5 5.1l-.5-5.7l-.5 3.5l-.5-3l-.5 2.1l-.5-2.6l-.5 2.2l-.5-1.8l-.5 2.9l-.5-2.7l-.5 4l-.5-3.9l-.5-.3l-.5-.2l-.5 .3l-.5 .1l-.5 3.4l-.5-4l-.5 .3l-.5-.3l-.5 3.6l-.5-2.9l-.5 4.2l-.5-4.2l-.5 5l-.5-5l-.5 3.3Z" fill="#1f77b4" fill-opacity="0.2"/>
<path d="M789.5 633.1l.5 5.2l.5-4.4l.5 3.9l.5-5.8l.5 5.8l.5-5.2l.5 5l.5-.8l.5 1.2l.5 .2l.5 .1l.5-5.3l.5 5.3l.5-1.3l.5 1.3l.5-4.8l.5 4.9l.5-3.2l.5 3.1l.5-5l.5 5.1l.5-3.3l.5 2.5l.5-3l.5 3.3l.5-3.8l.5 4l.5 0l.5-.3l.5-4.8l.5 5.3l.5-2.2l.5 1.6l.5-.4l.5 .9l.5-1.3l.5 1.5l.5-5.6l.5 5.1l.5-3.2l.5 3.1l.5-4.7l.5 4.9l.5-5.7l.5 6.2l.5-1l.5 .8l.5-3.1l.5 2.6l.5-4.5l.5 4.2l.5-4.9l.5 5.4l.5-2.1l.5 2.1l.5 .5l.5-.5l.5-3.7l.5 4.1l.5-1.2l.5 1.2l.5-.2l.5 0l.5-2l.5 2.2l.5-3.6l.5 3.1l.5-5.9l.5 5.8l.5 .7l.5-.1l.5-5.7l.5 5.6l.5-.7l.5 .4l.5-4.4l.5 4.4l.5 .5l.5-.4l.5-5.8l.5 6l.5-3.8l.5 3.7l.5 .2l.5-.2l.5-2.2l.5 1.7l.5 .1l.5-.2l.5 .4l.5 .2l.5-1.9l.5 1.3l.5-.9l.5 1.5l.5 .2l.5-.1l.5-3.4l.5 2.9l.5-1.5l.5 1.3l.5 .8l.5-.5l.5-1.2l.5 1.3l.5-1l.5 1.4l.5-.5l.5 .5l.5-3l.5 2.1l.5 .5l.5-.4l.5-2.9l.5 3.5l.5-.2l.5 .3l.5-6.1l.5 5.7l.5-5.8l.5 6.1l.5-.2l.5 0l.5 .2l.5-.2l.5-2.3l.5 1.9l.5-3.2l.5 4.1l.5-.1l.5 .1l.5-3l.5 2.4l.5-2.5l.5 2.2l.5 .1l.5 .3l.5-4.9l.5 4.7l.5-1.1l.5 1.7l.5-.2l.5-.6l.5 .4l.5 .5l.5-4.8l.5 4.3l.5-1.8l.5 1.7l.5-.4l.5 .6l.5-.8l.5 1l.5-3.8l.5 3.6l.5-1.5l.5 1.3l.5-3.1l.5 2.9l.5-3.2l.5 3.7l.5 .1l.5-.4l.5-.2l.5 .4l.5-5.1l.5 5.4l.5-1.7l.5 1.6l.5-2.4l.5 2.1l.5-.6l.5 .2l.5-2.2l.5 3l.5-4.7l.5 4.1l.5-1.2l.5 1.2l.5-3.8l.5 4.2l.5-5.4l.5 5.1l.5 .4l.5 0l.5 .2l.5-.6l.5 .2l.5-.1l.5-2.1l.5 2.5l.5-6.3l.5 5.5l.5-5.5l.5 6.1l.5-1l.5 1.2l.5-6.4l.5 5.7l.5 .3l.5 .5l.5-5.1l.5 4.8l.5-1.5l.5 1l.5-4.1l.5 4.4l.5-4.8l.5 4.8l.5-1.6l.5 1.5l.5-2.2l.5 2.5l.5-4.1l.5 3.7l.5 .1l.5 0l.5-2.2l.5 2.3l.5-2.5l.5 2.3l.5-1.6l.5 1.8l.5-5.1l.5 5.5l.5-4.3l.5 4.3l.5 .1l.5-.9l.5 .5l.5 .3l.5-4.9l.5 4.7l.5-2l.5 1.7l.5-2.1l.5 2l.5-1.5l.5 1.4l.5-.7l.5 1.4l.5-4.5l.5 3.7l.5-4.3l.5 5.1l.5-2.3l.5 1.8l.5-2.6l.5 2.4l.5-5.6l.5 5.8l.5-4.9l.5 5.2l.5-2.5l.5 1.9l.5 0l.5 .3l.5-2.9l.5 3.2l.5-4.1l.5 3.7l.5-2.7l.5 3.2l.5-.9l.5 .6l.5-.4l.5 .2l.5-3.7l.5 4.3l.5-3.5l.5 2.9l.5-3.1l.5 3l.5-3.2l.5 3.8l.5-1l.5 .5l.5-4.1l.5 4.6l.5-2.1l.5 2.2l.5-4.1l.5 3.4l.5 .7l.5-.7l.5-.5l.5 .9l.5-1.6l.5 1.1l.5-.8l.5 .9l.5-5.7l.5 5.8l.5-3.2l.5 3.2l.5-2.4l.5 3.1l.5-1.9l.5 1.6l.5-.4l.5 0l.5 0l.5 .5l.5-.1l.5 0l.5-1.9l.5 1.3l.5 .6l.5-.4l.5-.3l.5 .2l.5-1.1l.5 1.3l.5-3.1l.5 2.9l.5-4.6l.5 4.9l.5-2.4l.5 2.5l.5-1.7l.5 1.2l.5-.3l.5 .6l.5-1.1l.5 .9l.5-.9l.5 1.5l.5-1.9l.5 1.6l.5-.2l.5 .6l.5-1.3l.5 1.3l.5-4.7l.5 4.5l.5-3.6l.5 3.1l.5-2.1l.5 2l.5-1.8l.5 2.6l.5-2.6l.5 2.3l.5-1.3l.5 1.2l.5-4.9l.5 4.6l.5-3.8l.5 4.4l.5-4.2l.5 3.7l.5-.2l.5 0l.5-1l.5 1.1l.5-1.8l.5 2.1l.5-3.3l.5 3.1l.5-.5l.5 .5l.5 .3l.5 .2l.5-1.6l.5 1.8l.5-5.1l.5 4.6l.5-.2l.5 .1l.5-.6l.5 1l.5-1.5l.5 1.5l.5-.8l.5 .1l.5 .7l.5-.3l.5-2.4l.5 2.4l.5-5.7l.5 6.2l.5-4.8l.5 4.7l.5-.2l.5-.1l.5-2.5l.5 2.4l.5-.9l.5 .4l.5-4.3l.5 4.7l.5-5.5l.5 5.8l.5-5.3l.5 5.2l.5 .4l.5-.9l.5-.1l.5 .9l.5-.7l.5 .1l.5-3.5l.5 3.4l.5-.2l.5 .8l.5-5.8l.5 5.8l.5-.1l.5-.5l.5 .1l.5 .1l.5-.7l.5 .6l.5-1.3l.5 1.2l.5-.3l.5 1.1l.5-1.7l.5 1.7l.5-.9l.5 .7l.5-.8l.5 .8l.5-1.2l.5 .7l.5 .5l.5-.6l.5 .3l.5-.3l.5-3.4l.5 3.7l.5-1.7l.5 2.1l.5-5.9l.5 5.4l.5-.4l.5 .8l.5-5.7l.5 5.3l.5-4.4l.5 4.2l.5 .7l.5-.8l.5-2.9l.5 3.3l.5-2.2l.5 2.2l.5-4.9l.5 5.1l.5 .1l.5 0l.5-3.9l.5 3.7l.5-1.6l.5 1.1l.5-1.9l.5 2.7l.5-1.6l.5 1.3l.5-5.9l.5 6.2l.5-4.1l.5 3.4l.5 .3l.5-.4l.5-.3l.5 1.1l.5-5.9l.5 5.1l.5-1.8l.5 2.5l.5 .1l.5-.8l.5-1.7l.5 1.6l.5-2.3l.5 2.5l.5-1.4l.5 1.8l.5-2.9l.5 3.3l.5-2l.5 1.4l.5-.3l.5 .7l.5-1.4l.5 1.3l.5-4.2l.5 4.4l.5-5.2l.5 5.2l.5-.8l.5 .4l.5-1l.5 1.2l.5 .2l.5 0l.5-5l.5 4.1l.5-5l.5 5.5l.5-.2l.5 .3l.5-3.1l.5 3.1l.5-3.3l.5 3.3l.5-4.2l.5 3.8l.5-3.6l.5 3.8l.5-5.5l.5 5.5l.5 .4l.5-.8l.5-4.9l.5 5.7l.5-.6l.5-.1l.5-1.7l.5 1.8l.5-3.9l.5 3.9l.5-1.1l.5 1.1l.5-2.2l.5 2.6l.5-1.8l.5 1.3l.5-.7l.5 .7l.5-3.2l.5 3.8l.5 0l.5-.5l.5 .5l.5-.6l.5-.4l.5 .4l.5 .9l.5-.1l.5-5.4l.5 5.3l.5-.6l.5 .3l.5-2.3l.5 2.6l.5-5.3l.5 5.4l.5-.4l.5-.5l.5-1.4l.5 2.3l.5-.2l.5 0l.5-1.5l.5 .9l.5-1l.5 1.5l.5-1.9l.5 2l.5-1.8l.5 1.2l.5-4.6l.5 5l.5 .2l.5-.4l.5-.9l.5 .8l.5-3.3l.5 3.6l.5-.8l.5 .7l.5-5.5l.5 5.4l.5-1.1l.5 1.2l.5-.7l.5 1l.5-3.6l.5 3l.5-3.3l.5 3.9l.5-.6l.5 .1l.5-.3l.5 .4l.5-3.9l.5 4.6l.5-6.5l.5 5.5l.5 .2l.5 .5l.5-5.6l.5 5.6l.5-1.7l.5 1.9l.5-5.2l.5 4.9l.5-5.5l.5 4.9l.5-1.9l.5 2.6l.5 .1l.5-.6l.5-5.5l.5 6.3l.5-5l.5 4.8l.5-2.1l.5 1.9l.5-2.7l.5 2.8l.5-5.4l.5 5.7l.5-3.4l.5 2.7l.5-5.5l.5 5.6l.5-1.6l.5 2l.5-1.2l0 28.1l-.5-3.3l-.5 2.8l-.5-3l-.5 .5l-.5-.3l-.5 4.9l-.5-5.1l-.5 .4l-.5-.4l-.5 1.4l-.5-.8l-.5 4l-.5-4.3l-.5 2.1l-.5-2.1l-.5 2.7l-.5-3.1l-.5 .4l-.5-.2l-.5 2.1l-.5-1.8l-.5 2.7l-.5-3.1l-.5 .2l-.5 .3l-.5 .4l-.5-.8l-.5 4.7l-.5-4.5l-.5 1.5l-.5-1.8l-.5 .8l-.5-.9l-.5 1.3l-.5-1.1l-.5 3.8l-.5-3.4l-.5 0l-.5-.1l-.5 2.8l-.5-2.9l-.5 1.2l-.5-1.6l-.5 .2l-.5 .3l-.5 4.9l-.5-4.8l-.5-.2l-.5-.4l-.5 .1l-.5 .5l-.5 2.3l-.5-2.7l-.5 .2l-.5-.4l-.5 .4l-.5 .3l-.5 .4l-.5-.5l-.5 2.6l-.5-3.3l-.5 4.8l-.5-4l-.5 0l-.5-.4l-.5 .2l-.5-.4l-.5-.2l-.5 .4l-.5 2.6l-.5-2.9l-.5 .3l-.5 .2l-.5 3.6l-.5-3.7l-.5 1.8l-.5-1.9l-.5 .8l-.5-.8l-.5 .4l-.5-.6l-.5 1.4l-.5-1l-.5 4.2l-.5-4.7l-.5 1.6l-.5-1.4l-.5 .4l-.5 0l-.5 2.7l-.5-3l-.5 1.2l-.5-1l-.5 1.1l-.5-1.2l-.5 1.8l-.5-1.8l-.5-.4l-.5-.1l-.5 4.9l-.5-4.7l-.5 .3l-.5 0l-.5 2.8l-.5-2.9l-.5 3.6l-.5-3.4l-.5 2.5l-.5-2.9l-.5 .1l-.5-.2l-.5 0l-.5 .2l-.5 .5l-.5-.4l-.5 2.1l-.5-2.3l-.5 1l-.5-.7l-.5 2.5l-.5-2.6l-.5 2.2l-.5-2.4l-.5 1.4l-.5-1.2l-.5 .7l-.5-.4l-.5 1.2l-.5-1.3l-.5 1.5l-.5-1.8l-.5 3l-.5-3.2l-.5 1l-.5-.5l-.5 2l-.5-1.9l-.5 .2l-.5-.2l-.5 1.2l-.5-1.4l-.5 2.5l-.5-2.8l-.5 .8l-.5-.3l-.5 3.2l-.5-3.5l-.5 1l-.5-1.2l-.5 1.8l-.5-1.9l-.5 1.3l-.5-1.3l-.5 3.4l-.5-2.9l-.5 .6l-.5-.6l-.5 4.6l-.5-4.4l-.5 .3l-.5-.5l-.5-.5l-.5 .7l-.5 3.6l-.5-4.1l-.5 3.9l-.5-3.7l-.5 4l-.5-4l-.5 3.3l-.5-3.8l-.5 3.7l-.5-3.5l-.5 3.6l-.5-3.7l-.5 4.7l-.5-4.5l-.5 3.7l-.5-3.2l-.5-.8l-.5 .8l-.5-.2l-.5-.5l-.5 1.7l-.5-1l-.5-.4l-.5 .2l-.5 1.8l-.5-1.7l-.5 1.9l-.5-2.2l-.5 2.5l-.5-2.8l-.5 4.5l-.5-4.4l-.5 3l-.5-2.4l-.5-.2l-.5 .1l-.5 4.1l-.5-4.8l-.5 4.6l-.5-3.9l-.5 3.8l-.5-3.7l-.5 4.4l-.5-4.9l-.5-.1l-.5 0l-.5 1.9l-.5-1.4l-.5 .8l-.5-1.3l-.5 .7l-.5-.6l-.5 .1l-.5-.1l-.5 0l-.5 .1l-.5 1.3l-.5-.9l-.5-.8l-.5 .7l-.5 4.5l-.5-4.6l-.5 2.8l-.5-3.2l-.5 3.5l-.5-3l-.5 3.2l-.5-3.3l-.5 1.3l-.5-1.3l-.5 2.6l-.5-2.6l-.5 2.4l-.5-2.6l-.5 0l-.5-.1l-.5 4.6l-.5-4.7l-.5 1.8l-.5-1.4l-.5 1.4l-.5-1.9l-.5 3.7l-.5-3.3l-.5 1.2l-.5-1.6l-.5 1.1l-.5-.4l-.5 .3l-.5-.9l-.5 1.7l-.5-1.2l-.5 2.3l-.5-2.3l-.5 2.8l-.5-2.9l-.5 4.6l-.5-4.5l-.5 2.8l-.5-2.8l-.5 .7l-.5-.7l-.5 2.1l-.5-2.3l-.5 4.3l-.5-4.5l-.5 1.2l-.5-.9l-.5 1.5l-.5-1.4l-.5-.5l-.5 .5l-.5 3.1l-.5-3.3l-.5 1.1l-.5-1.6l-.5 1.2l-.5-.7l-.5 .2l-.5-.6l-.5 3.4l-.5-3.3l-.5 4.2l-.5-4.1l-.5 2.1l-.5-1.6l-.5 .6l-.5-.6l-.5 .7l-.5-1.4l-.5 2l-.5-1.3l-.5-.5l-.5 .4l-.5 3.9l-.5-4.2l-.5 3.8l-.5-3.5l-.5-.2l-.5 .2l-.5 3.3l-.5-3.5l-.5 2.5l-.5-2.2l-.5 3.3l-.5-3.5l-.5 1.8l-.5-2.4l-.5 4.7l-.5-4.5l-.5 3.4l-.5-2.8l-.5 4.7l-.5-5l-.5-.3l-.5 .1l-.5 1l-.5-1.2l-.5 .5l-.5 0l-.5 1.2l-.5-1.8l-.5 4.3l-.5-4.3l-.5 .7l-.5-.2l-.5-.3l-.5-.1l-.5 2l-.5-1.5l-.5 2.5l-.5-2.9l-.5 2.2l-.5-2l-.5 3.1l-.5-3.5l-.5 .4l-.5-.1l-.5 4.8l-.5-5l-.5 4.5l-.5-3.8l-.5 4.3l-.5-4.5l-.5 .2l-.5-.1l-.5 4.1l-.5-4.6l-.5 4.3l-.5-4l-.5 1.3l-.5-1.7l-.5 4.3l-.5-3.7l-.5 1.7l-.5-1.8l-.5 2.1l-.5-2l-.5 3.8l-.5-3.7l-.5-.3l-.5-.4l-.5 .2l-.5 .3l-.5 2.1l-.5-2.3l-.5 4.7l-.5-4.6l-.5 0l-.5 .1l-.5-.1l-.5 .1l-.5 4.2l-.5-4.7l-.5 3.7l-.5-3.4l-.5 5l-.5-5l-.5 3l-.5-3.1l-.5 5l-.5-4.7l-.5 2.9l-.5-3.2l-.5 4.4l-.5-3.9l-.5 2.6l-.5-3.1l-.5 .6l-.5-.7l-.5-.1l-.5 .3l-.5-.1l-.5 .4l-.5-.1l-.5 .2l-.5-.6l-.5 0l-.5-.2l-.5 .2l-.5 4.2l-.5-3.6l-.5 .5l-.5-.6l-.5-.5l-.5 .1l-.5-.1l-.5 .3l-.5 1.7l-.5-1.4l-.5-.6l-.5 .5l-.5 1.1l-.5-1.2l-.5 1.4l-.5-1.7l-.5 3.1l-.5-3.2l-.5 3.7l-.5-3.2l-.5 2.1l-.5-2.3l-.5 .4l-.5-.6l-.5 0l-.5 .1l-.5 .9l-.5-1.1l-.5 .5l-.5-.6l-.5 .4l-.5-.4l-.5 3.4l-.5-3.1l-.5 .4l-.5-.2l-.5 1.5l-.5-1.4l-.5 1.6l-.5-1.9l-.5-.4l-.5 .7l-.5 2.9l-.5-3.4l-.5 4.3l-.5-4.3l-.5 3.5l-.5-3.3l-.5 1.3l-.5-.9l-.5 .9l-.5-1.2l-.5 .8l-.5-.5l-.5 2.6l-.5-3.1l-.5 3.8l-.5-4l-.5 .7l-.5-.1l-.5 2.1l-.5-2.5l-.5 4.7l-.5-4.3l-.5 .6l-.5-1l-.5 2.5l-.5-2.2l-.5 .5l-.5-.5l-.5 .3l-.5-.6l-.5 .9l-.5-.5l-.5 1.9l-.5-2.2l-.5-.2l-.5-.1l-.5 .3l-.5 .2l-.5 .1l-.5-.1l-.5 .3l-.5-.3l-.5 3.2l-.5-3.1l-.5 .8l-.5-1.1l-.5 .1l-.5-.5l-.5 1.4l-.5-.8l-.5 1.4l-.5-1.4l-.5 3.2l-.5-3l-.5 2l-.5-2.5l-.5 .2l-.5-.3l-.5 4.6l-.5-4.1l-.5 1.5l-.5-1.5l-.5 4.3l-.5-4.7l-.5 1.6l-.5-1.5l-.5-.3l-.5 .2l-.5 3.9l-.5-4.1l-.5-.1l-.5 .6l-.5 2.1l-.5-2.4l-.5 .8l-.5-.6l-.5 .2l-.5 .1l-.5 3.4l-.5-3.6l-.5 1.4l-.5-1.9l-.5 2l-.5-1.5l-.5-.1l-.5-.1l-.5 1.6l-.5-1.3l-.5 1.2l-.5-1.6l-.5 2.8l-.5-2.3l-.5 1.8l-.5-1.9l-.5 1.3l-.5-1.4l-.5 .7l-.5-1.2l-.5 .4l-.5 .3l-.5 3.9l-.5-3.9l-.5 2.3l-.5-2.8l-.5 .1l-.5-.2l-.5 1.5l-.5-.9l-.5 .9l-.5-1.6l-.5 3.8l-.5-3.2l-.5 1.6l-.5-2l-.5 .5l-.5-.1l-.5 .4l-.5-.9l-.5 0l-.5 .5l-.5 1.6l-.5-1.7l-.5 .2l-.5-.1l-.5 3.2l-.5-3.7l-.5 3.3l-.5-3.3l-.5 1.6l-.5-1.1l-.5 2l-.5-2.1l-.5 1.3l-.5-1.3l-.5 2.7l-.5-3.2l-.5 .6l-.5-.4l-.5 .7l-.5-.3l-.5 1l-.5-1l-.5 1.9l-.5-2.1l-.5 .4l-.5-.1l-.5 4.2l-.5-4.3l-.5 .2l-.5-.9l-.5 2l-.5-1.7l-.5 3.9l-.5-3.9l-.5 1l-.5-.9l-.5 4.7l-.5-4.3l-.5 1.3l-.5-1.7l-.5 3.4l-.5-3.4l-.5 3.9l-.5-4.3l-.5 .4l-.5 .2l-.5 .8l-.5-.8l-.5 3.2l-.5-3.7l-.5 .8l-.5-.2l-.5 1.4l-.5-1.4l-.5 3.9l-.5-4.6l-.5 4.2Z" fill="#1f77b4" fill-opacity="0.2"/>
<path d="M754.2 648.7l.5 6l.5-5.5l.5 5.6l.5-.8l.5 0l.5-3.3l.5 3.6l.5-5.1l.5 5.3l.5-2l.5 2.3l.5-2.6l.5 2.2l.5-2.8l.5 3.1l.5-.3l.5 .3l.5 .1l.5 .2l.5-.4l.5 .4l.5-5.4l.5 5.3l.5-1l.5 .2l.5 0l.5 .3l.5-4.7l.5 4.9l.5-3.8l.5 3.5l.5 0l.5-.2l.5-2.9l.5 3.6l.5-5.1l.5 4.5l.5-4.9l.5 5.1l.5-3.9l.5 4.4l.5-5.4l.5 5.4l.5-2.6l.5 2.3l.5-3.1l.5 2.5l.5-5.1l.5 5.9l.5-4.3l.5 3.7l.5 .8l.5-.8l.5-2l.5 2.3l.5-.5l.5 .5l.5-1.7l.5 2.2l.5-.6l.5-.3l.5-.2l.5 .2l.5-1.7l.5 1.9l.5 .6l.5 0l.5-.1l.5-.4l.5-1.1l.5 1.6l.5-4.8l.5 4.6l.5-2.8l.5 2.5l.5-2.5l.5 2.6l.5 .5l.5-.2l.5-4.1l.5 3.6l.5-5.5l.5 6.2l.5-.9l.5 .8l.5-5l.5 4.4l.5-4.5l.5 5l.5-5.3l.5 5.4l.5-.3l.5 .1l.5-3.9l.5 3.6l.5 .2l.5 .3l.5-4.7l.5 4.4l.5 .1l.5 .3l.5-.5l0 29.7l-.5-5.9l-.5 .4l-.5-.2l-.5 4.9l-.5-4.9l-.5 3.5l-.5-3.1l-.5 1.8l-.5-2.4l-.5 .7l-.5-.8l-.5 2l-.5-1.3l-.5-.6l-.5 .6l-.5 1.9l-.5-2.3l-.5 3.6l-.5-4l-.5 2.1l-.5-1.3l-.5 4.5l-.5-5.1l-.5 5.8l-.5-5.8l-.5 2.5l-.5-2.3l-.5 .9l-.5-.7l-.5 3.7l-.5-4.3l-.5 2l-.5-1.9l-.5 2l-.5-1.6l-.5 4.7l-.5-5l-.5 .3l-.5-.3l-.5 2.7l-.5-2.9l-.5 1l-.5-.5l-.5 5.2l-.5-5.3l-.5-.5l-.5 .2l-.5 5.4l-.5-5.6l-.5 2.9l-.5-2l-.5 5.1l-.5-5.1l-.5-.4l-.5 .2l-.5 1.7l-.5-2l-.5 3.5l-.5-3l-.5 3.3l-.5-3.4l-.5 1.9l-.5-1.9l-.5 4.7l-.5-4.7l-.5-.7l-.5 .5l-.5 1.4l-.5-1.6l-.5 5.7l-.5-5.3l-.5 3.3l-.5-3.2l-.5-.1l-.5-.3l-.5 3.6l-.5-3.9l-.5 1.3l-.5-1.2l-.5 0l-.5 .5l-.5 .2l-.5-.9l-.5 2.9l-.5-2.1l-.5-.1l-.5 .1l-.5 3.1l-.5-3.7l-.5 .5l-.5-.6l-.5 2.3l-.5-2.4l-.5 .9l-.5-.8l-.5 .1l-.5 .3l-.5 2l-.5-1.7l-.5-.1l-.5 0l-.5-.3Z" fill="#ff7f0e" fill-opacity="0.2"/>
<path d="M806.0 633.9l.5 4.1l.5-5.5l.5 5.8l.5-5.5l.5 4.8l.5-.5l.5 1l.5-.6l.5 1l.5-1l.5 .1l.5 .6l.5 0l.5-1.8l.5 2l.5-.7l.5 .5l.5-2.9l.5 2.4l.5-.1l.5 .5l.5-2.1l.5 2.1l.5-3.7l.5 3.2l.5-.1l.5 .7l.5 .2l.5 .1l.5-3.4l.5 3.2l.5-1l.5 .2l.5-1.2l.5 1.7l.5-1.1l.5 .8l.5 0l.5 .5l.5-2.5l.5 1.9l.5-.9l.5 1l.5-1.5l.5 1.6l.5 .1l.5-.3l.5-3.1l.5 3.5l.5-5.1l.5 5.4l.5-1.3l.5 .7l.5-5.1l.5 5l.5-1.9l.5 2l.5-2.4l.5 2.9l.5-6l.5 5.9l.5-4.7l.5 5l.5-.8l.5 .9l.5-1.4l.5 1.4l.5-2.5l.5 1.9l.5-5.3l.5 5.1l.5-4.9l.5 5.1l.5-4.6l.5 4.8l.5-3.8l.5 3.8l.5-3.4l.5 3.4l.5-2.7l.5 2.5l.5-2.9l.5 3.4l.5-.2l.5-.5l.5 .8l.5-.5l.5-.2l.5 .5l.5-1.9l.5 2l.5-.1l.5-.4l.5-5.1l.5 4.9l.5-4.7l.5 5.1l.5-4.5l.5 4.8l.5-.9l.5 .6l.5-2.7l.5 2.5l.5-5.6l.5 5.4l.5 .5l.5-.6l.5-1.2l.5 1.3l.5 .6l.5-.7l.5-1.2l.5 1.4l.5-3.1l.5 3.5l.5-1.1l.5 1.3l.5-.4l.5-.3l.5-2.6l.5 2.7l.5-5.1l.5 5.8l.5-.5l.5-.3l.5-4.6l.5 4.9l.5-4.9l.5 4.5l.5-5l.5 5.1l.5-5.1l.5 5.2l.5-.1l.5 .6l.5-2.6l.5 2.2l.5 .3l.5-.7l.5 .1l.5 .1l.5 .4l.5 .4l.5-1.6l.5 .6l.5 .3l.5 .7l.5-2.6l.5 1.7l.5-3.1l.5 3.6l.5-.1l.5-.2l.5-2l.5 1.7l.5-2.3l.5 3.1l.5-4.7l.5 4l.5-4.4l.5 4.8l.5-5.5l.5 5.5l.5-.8l.5 1.1l.5-.2l.5-.6l.5-3.9l.5 4l.5-2.8l.5 3.3l.5-2.3l.5 2.4l.5-.1l.5 .1l.5 .1l.5-.5l.5 .3l.5 0l.5-2.3l.5 2l.5-.6l.5 .5l.5-.1l.5-.1l.5-5.3l.5 6.2l.5-3.1l.5 2.9l.5-.7l.5 .6l.5-3.7l.5 3.2l.5-5.2l.5 5.6l.5-1.2l.5 1l.5-5.1l.5 5.1l.5-5.1l.5 5.8l.5-.8l.5 .7l.5-5.3l.5 5.1l.5-3.3l.5 3.1l.5-2.4l.5 2.5l.5-.2l.5 .1l.5 0l.5 .2l.5 .2l.5-.2l.5-1.5l.5 .8l.5-4.9l.5 5.3l.5-2.5l.5 2.3l.5-5.5l.5 5.5l.5-4.4l.5 4.7l.5-3.7l.5 3.8l.5-1.5l.5 1.3l.5-3.1l.5 3.5l.5-1.1l.5 .9l.5-3.2l.5 3.6l.5-2.1l.5 1.2l.5-1l.5 1.2l.5-1.2l.5 1.1l.5-.5l.5 .7l.5-.5l.5 .9l.5-3.2l.5 2.8l.5-4.6l.5 5l.5-.5l.5-.1l.5 .8l.5-.3l.5-1.2l.5 1.3l.5-.2l.5-.2l.5-1.1l.5 .7l.5-2.2l.5 2.9l.5-1.4l.5 1.2l.5-4.7l.5 4.6l.5 .3l.5-.4l.5-.3l.5 .9l.5-4.2l.5 3.9l.5-1.8l.5 1.3l.5 .8l.5-.2l.5-.6l.5 .8l.5-4.3l.5 3.7l.5-1.1l.5 1.6l.5-2.4l.5 2.4l.5-4.5l.5 4.7l.5-3.7l.5 3.2l.5-.6l.5 1l.5-2.1l.5 1.6l.5-1.5l.5 1.4l.5 .5l.5-.2l.5-3.7l.5 4l.5-1.3l.5 .8l.5-3l.5 3l.5-.8l.5 .9l.5-.4l.5 .7l.5-.4l.5-.4l.5 1l.5-.8l.5-.6l.5 1.1l.5-4.3l.5 4.2l.5-1.4l.5 1.4l.5-.5l.5 .5l.5-4.3l.5 4.7l.5-1l.5 .9l.5-.2l.5-.5l.5-2.5l.5 2.3l.5-3.6l.5 4.5l.5-.7l.5 .1l.5-1.3l.5 1.8l.5-1.7l.5 1.7l.5-5.6l.5 5.4l.5 .1l.5 .1l.5-2.2l.5 1.6l.5-4.4l.5 4.6l.5-.9l.5 1.4l.5 0l.5-.7l.5-2.5l.5 2.9l.5-1.3l.5 1.2l.5-1.6l.5 2.1l.5-3l.5 2.5l.5-.2l.5 .3l.5-5.7l.5 5.5l.5-2.7l.5 3l.5-1.2l.5 .7l.5-4.9l.5 5.1l.5-3l.5 3l.5-1.3l.5 1.8l.5-2.1l.5 1.8l.5-3.2l.5 3.2l.5 .3l.5 0l.5-6l.5 5.6l.5-5.5l.5 5.9l.5-1.3l.5 .8l.5-1.7l.5 1.7l.5-4.9l.5 4.6l.5-3.4l.5 3.8l.5-3.1l.5 3.2l.5-4.7l.5 4.2l.5-1.4l.5 1.6l.5-2.5l.5 2.4l.5 .1l.5-.1l.5-1l.5 .9l.5-1.1l.5 1.6l.5-.1l.5 0l.5-1l.5 1.4l.5-1.8l.5 1.9l.5 0l.5-.4l.5-2.2l.5 2.4l.5-3.6l.5 3.8l.5-.6l.5 .2l.5-1.9l.5 1.8l.5-2.4l.5 2.5l.5-5.2l.5 5.3l.5 .3l.5-.5l.5-.3l.5 .7l.5-1.6l.5 .7l.5-.9l.5 1.2l.5-4.5l.5 4.7l.5-5.3l.5 4.9l.5-1.3l.5 1.7l.5-1.3l.5 .9l.5 .5l.5-.4l.5-5.5l.5 5.4l.5-2.4l.5 2.4l.5-5.3l.5 5.9l.5-2.4l.5 2.6l.5-1l.5 .7l.5-4l.5 3.9l.5-4.8l.5 4.9l.5-6l.5 5.4l.5-.6l.5 .9l.5-4.4l.5 4.3l.5-2.8l.5 3.6l.5-3l.5 2.2l.5-.9l.5 1.4l.5-3.9l.5 3.8l.5-6l.5 5.6l.5-2.3l.5 2.5l.5-1.6l.5 1.3l.5-3.2l.5 3.4l.5-2.1l.5 2.8l.5 0l.5-.5l.5 .4l.5-.8l.5-1.3l.5 1.7l.5-.2l.5 0l.5-2l.5 2.5l.5-1.9l.5 2l.5-4.7l.5 4.4l.5-3.3l.5 3.4l.5-1.1l.5 1.4l.5-3.8l.5 3.3l.5-.7l.5 .2l.5-2.2l.5 2.4l.5-.1l.5 .8l.5-4.2l.5 4l.5-.7l.5 0l.5-1.9l.5 2.5l.5 .2l.5-.4l.5-2.3l.5 2.8l.5-3.4l.5 2.9l.5-3.9l.5 3.9l.5-.7l.5 .5l.5 .2l.5-.3l.5-3.7l.5 4.3l.5-5.9l.5 5.3l.5 .7l.5-.2l.5 .2l.5 .2l.5-5.5l.5 4.6l.5-2.7l.5 2.9l.5-2.8l.5 2.9l.5-2.6l.5 2.8l.5-1.1l.5 1.5l.5-1.1l.5 .9l.5-3.1l.5 2.5l.5-3.9l.5 4.2l.5-3.1l.5 3.6l.5-.3l.5-.5l.5-1.5l.5 1.8l.5-1.2l.5 1l.5-.3l.5 .4l.5-2l.5 2.2l.5-.9l.5 1.1l.5-.3l.5-.3l.5 .6l.5 0l.5-1.5l.5 1.7l.5-4.8l.5 4.4l.5-1.2l.5 1.3l.5-2.6l.5 2.5l.5-.2l.5 .2l.5-.9l.5 .7l.5-3.4l.5 3.9l.5 .1l.5-.3l.5-5.2l.5 5.5l.5-4.3l.5 3.3l.5 .9l.5 0l.5-4.6l.5 4.1l.5-.1l.5 .2l.5-6l0 34.2l-.5-4l-.5 4.7l-.5-4.8l-.5 3.5l-.5-3.9l-.5 4.9l-.5-4.9l-.5 1.1l-.5-.6l-.5 1.9l-.5-2.3l-.5 3.3l-.5-2.9l-.5 0l-.5 .1l-.5 4.5l-.5-4.8l-.5 2.5l-.5-2.3l-.5 2.6l-.5-3.2l-.5 4l-.5-3.6l-.5 0l-.5-.4l-.5 2.8l-.5-2.2l-.5 2.7l-.5-2.7l-.5-.2l-.5 .3l-.5-.4l-.5 .4l-.5 2.2l-.5-2.4l-.5 2.6l-.5-3.1l-.5 2.1l-.5-1.6l-.5 .3l-.5-.7l-.5 1.8l-.5-1.2l-.5 1.4l-.5-1.5l-.5 2l-.5-2.3l-.5 3.9l-.5-4.3l-.5 .1l-.5 .2l-.5 4.4l-.5-4.4l-.5 1.9l-.5-2l-.5 2.7l-.5-2.2l-.5 1.3l-.5-1.9l-.5 1.3l-.5-.8l-.5 2.4l-.5-2.6l-.5 4.6l-.5-4.3l-.5-.6l-.5 .3l-.5 .1l-.5 .3l-.5 2l-.5-2.8l-.5 1l-.5-.9l-.5 1.2l-.5-1.3l-.5 4l-.5-3.3l-.5 1.6l-.5-2l-.5 1.3l-.5-1.4l-.5 4l-.5-3.7l-.5-.5l-.5 .6l-.5 .8l-.5-.7l-.5 3.9l-.5-3.9l-.5 .6l-.5-.8l-.5 .6l-.5-.6l-.5 .7l-.5-.7l-.5-.1l-.5 .3l-.5-.3l-.5 0l-.5 3.1l-.5-2.7l-.5 2.1l-.5-2.5l-.5 2.1l-.5-1.9l-.5-.5l-.5 .1l-.5 4.5l-.5-4.7l-.5 2.7l-.5-2.2l-.5 1.1l-.5-1.5l-.5 4.9l-.5-4.8l-.5 4.9l-.5-4.4l-.5 4.4l-.5-4.7l-.5-.3l-.5 0l-.5 3.1l-.5-3.1l-.5 1.8l-.5-1.9l-.5 1.4l-.5-.6l-.5 1.6l-.5-1.8l-.5 3l-.5-3.3l-.5 1.4l-.5-1.6l-.5 4.9l-.5-5l-.5 1.8l-.5-1.6l-.5 1.7l-.5-1.3l-.5 4.3l-.5-4.6l-.5 3.2l-.5-2.7l-.5 .4l-.5-.8l-.5 4.4l-.5-4.2l-.5 2.8l-.5-3.1l-.5 3.1l-.5-3.2l-.5 3.1l-.5-2.7l-.5 .3l-.5-.2l-.5 2.3l-.5-2.8l-.5 3.6l-.5-3.6l-.5 .3l-.5-.4l-.5 .2l-.5 .2l-.5 3.7l-.5-3.6l-.5-.1l-.5-.1l-.5 2.4l-.5-2.6l-.5 4.9l-.5-4.7l-.5 .5l-.5-.2l-.5 4.1l-.5-4.2l-.5-.3l-.5-.2l-.5 1.2l-.5-.6l-.5-.3l-.5-.1l-.5 1.6l-.5-1.7l-.5 4.7l-.5-4.1l-.5 1.7l-.5-2.5l-.5 1.2l-.5-.5l-.5 4.4l-.5-4.4l-.5 4.4l-.5-5l-.5 1.8l-.5-1.4l-.5 .1l-.5-.5l-.5 .1l-.5 .5l-.5-.4l-.5 0l-.5 .3l-.5-.4l-.5 .9l-.5-.8l-.5-.1l-.5 .4l-.5-.6l-.5 .1l-.5 4.7l-.5-4l-.5-.1l-.5 0l-.5 2.8l-.5-3.4l-.5 4.8l-.5-4.7l-.5 5.1l-.5-5.2l-.5 1.7l-.5-1.1l-.5 4.3l-.5-4.4l-.5 .5l-.5-.3l-.5-.5l-.5 .5l-.5 0l-.5-.3l-.5 3.6l-.5-3.5l-.5 2.5l-.5-2.7l-.5 1.7l-.5-1.5l-.5 .6l-.5-.7l-.5 4.5l-.5-4.3l-.5 0l-.5-.5l-.5 .1l-.5 0l-.5 4.8l-.5-5l-.5 4.1l-.5-3.8l-.5-.2l-.5 .3l-.5-.1l-.5-.3l-.5 2.6l-.5-2.5l-.5 0l-.5 .4l-.5 4.7l-.5-4.6l-.5 1.3l-.5-1.9l-.5 .1l-.5 .3l-.5 1.2l-.5-1.5l-.5 1.5l-.5-1.6l-.5 .1l-.5 .4l-.5 2.6l-.5-3.1l-.5 4l-.5-3.9l-.5 4.6l-.5-4.6l-.5-.2l-.5 .8l-.5 3.9l-.5-3.9l-.5-.5l-.5 .1l-.5 .3l-.5-.2l-.5 4l-.5-3.9l-.5 2.8l-.5-3l-.5-.2l-.5 .3l-.5 2.3l-.5-2.6l-.5 2l-.5-1.6l-.5-.2l-.5 0l-.5-.3l-.5 .4l-.5 1l-.5-1.4l-.5 1.3l-.5-1.3l-.5 1.9l-.5-2l-.5 1.5l-.5-1l-.5 .2l-.5 0l-.5 4.1l-.5-4.5l-.5 4.5l-.5-4.6l-.5 5.1l-.5-4.6l-.5 2.4l-.5-2.4l-.5 .1l-.5-.2l-.5 4.2l-.5-4.6l-.5 .5l-.5-.3l-.5 4.3l-.5-4.6l-.5 2.1l-.5-1.6l-.5-.5l-.5 .5l-.5 2.2l-.5-2.7l-.5 4.5l-.5-3.9l-.5 1.1l-.5-1.5l-.5 5.1l-.5-5l-.5-.4l-.5 .5l-.5 3l-.5-3.1l-.5 2.7l-.5-2.9l-.5 4.3l-.5-4.4l-.5 3.3l-.5-3l-.5 4.2l-.5-4.1l-.5 3.6l-.5-4l-.5 .6l-.5-.3l-.5 3l-.5-3l-.5 4.3l-.5-4.7l-.5 3.8l-.5-3.5l-.5 4.1l-.5-3.7l-.5-.6l-.5 .3l-.5-.2l-.5 0l-.5-.1l-.5 .5l-.5 2.8l-.5-3l-.5 4l-.5-3.9l-.5 2.4l-.5-2.2l-.5 1.2l-.5-1.2l-.5 .4l-.5-.6l-.5 1.2l-.5-.9l-.5 3.3l-.5-4l-.5 1.5l-.5-1.5l-.5 1.4l-.5-1.2l-.5 1.4l-.5-1.3l-.5 4.2l-.5-4.3l-.5 .9l-.5-1l-.5 2.4l-.5-2.2l-.5 3.3l-.5-3.1l-.5 1.4l-.5-1.5l-.5 0l-.5 0l-.5 3.9l-.5-4.1l-.5 2.1l-.5-1.9l-.5 1.7l-.5-1.5l-.5-.3l-.5 .4l-.5 .4l-.5-.5l-.5 2.9l-.5-3.5l-.5 3.7l-.5-3.7l-.5 .7l-.5-.7l-.5 .7l-.5-.4l-.5 .6l-.5-.5l-.5 3l-.5-2.8l-.5-.1l-.5-.6l-.5 .2l-.5 .5l-.5 1.2l-.5-1.5l-.5 4.1l-.5-4.1l-.5 2.9l-.5-2.9l-.5 0l-.5-.1l-.5 3.6l-.5-3.4l-.5 0l-.5-.5l-.5 1.3l-.5-.6l-.5 .5l-.5-.7l-.5 1l-.5-.8l-.5-.5l-.5 .4l-.5 1.7l-.5-1.8l-.5-.2l-.5 .4l-.5 1.8l-.5-2.1l-.5 3.7l-.5-4l-.5 .4l-.5-.2l-.5 .8l-.5-.9l-.5 .2l-.5-.1l-.5 4.3l-.5-4l-.5 3.2l-.5-3.3l-.5 1.7l-.5-1.8l-.5 3.8l-.5-3.7l-.5 .2l-.5 .1l-.5-.1l-.5-.7l-.5 1l-.5-.3l-.5 3.9l-.5-4.2l-.5 0l-.5 .1l-.5 4.1l-.5-4.5l-.5 5.3l-.5-5.2l-.5 4l-.5-3.6l-.5-.2l-.5 .3l-.5 0l-.5-.1l-.5 .1l-.5-.2l-.5-.3l-.5 .1l-.5-.3l-.5 .4l-.5 1.4l-.5-1l-.5 3.2l-.5-3.7l-.5 4.8l-.5-5.1l-.5 5.2l-.5-4.6l-.5 4.9l-.5-4.7l-.5 2.4l-.5-2.6l-.5 2.2l-.5-2.6l-.5 .8l-.5-.6l-.5-.1l-.5 .1l-.5 3.6l-.5-3.5l-.5 1.3l-.5-1l-.5 .5l-.5-.5l-.5 4.7l-.5-5.2l-.5 0l-.5 .4l-.5 .3l-.5-.4l-.5 2.1l-.5-2.2l-.5-.1l-.5 .3l-.5 3.6l-.5-4.2l-.5 4.7l-.5-4.1l-.5 2l-.5-2l-.5 3.1l-.5-3.5l-.5-.2l-.5 0l-.5 5.3l-.5-5l-.5 1.4l-.5-1.5l-.5 1.6l-.5-1.8l-.5 2l-.5-1.9l-.5 1.2l-.5-1.3l-.5 1.1l-.5-.5l-.5 4.5l-.5-4.8l-.5 2l-.5-2l-.5 0l-.5 .1l-.5-.2l-.5-.3l-.5 .8l-.5-.2l-.5 3.8l-.5-3.9l-.5 4.1l-.5-3.9l-.5 1.5l-.5-1.5l-.5 1.5l-.5-1.9l-.5-.2l-.5 .4l-.5 2.9l-.5-3.3l-.5 .4l-.5-.3l-.5 .4l-.5-.6l-.5 .2l-.5 .2l-.5-.2l-.5 0l-.5 2.9l-.5-2.4l-.5-.6l-.5 .5l-.5 3.8l-.5-4.2l-.5 .7l-.5-.8l-.5 1.3l-.5-.7l-.5 2.3l-.5-2.4l-.5-.5Z" fill="#ff7f0e" fill-opacity="0.2"/>
<path d="M702.0 894.1l.5-.5l.5 .5l.5-1.2l.5 1.8l.5-2.3l.5 2.6l.5-.1l.5-2.8l.5 .4l.5 1.4l.5-.2l.5-.6l.5 .6l.5 1.3l.5 0l.5-.1l.5 0l.5-.9l.5 .3l.5-.7l.5 1.1l.5 .2l.5-2.2l.5 2.3l.5-1l.5 1l.5-2.7l.5 1.6l.5-.7l.5 1.8l.5-2.6l.5 1.9l.5 .2l.5 .5l.5-1l.5 1l.5-.1l.5 0l.5-.6l.5-1.5l.5 1.3l.5-.6l.5 .5l.5 1l.5-2l.5 .1l.5 1.8l.5 .1l.5-.2l.5-1.1l.5 1.3l.5-.6l.5 .2l.5-2.3l.5 2.6l.5-2.5l.5-.1l.5 .1l.5 1.1l.5-.6l.5 .2l.5 1.4l.5-2.3l.5 1.3l.5 1.1l.5-.1l.5 .4l.5-1.2l.5 0l.5-1.4l.5 1.4l.5 1.3l.5-2.7l.5 1l.5 .5l.5 .9l.5 .1l.5-2.3l.5 1l.5 .9l.5 .6l.5-.4l.5-1.6l.5 .9l.5-.8l.5 .9l.5 .2l0 17.6l-.5 1.3l-.5-2.5l-.5 4.9l-.5-5.1l-.5 10.4l-.5-7.2l-.5-.2l-.5 7.2l-.5-10.6l-.5 10.6l-.5-10.6l-.5 1.3l-.5 10.2l-.5-7.9l-.5 5.1l-.5-8.6l-.5 .5l-.5-.3l-.5-.1l-.5 .5l-.5 1.2l-.5-1.6l-.5 .5l-.5 .3l-.5-.8l-.5 11.5l-.5-4l-.5-4.1l-.5 6l-.5 .6l-.5-9.1l-.5 7.4l-.5-7.2l-.5 2.9l-.5-.6l-.5 .8l-.5-3.3l-.5 4.1l-.5-4.3l-.5 0l-.5 2.6l-.5 1.1l-.5 6.9l-.5-2.5l-.5 2.1l-.5-8.4l-.5 4.5l-.5 2.9l-.5-1.7l-.5-7.6l-.5-.4l-.5 .5l-.5-1l-.5 11.8l-.5-7.2l-.5-2l-.5-2.6l-.5 3.3l-.5 6.4l-.5-4.6l-.5-5l-.5 2.8l-.5-2.7l-.5 3.9l-.5-3.4l-.5-.4l-.5 .3l-.5 9.3l-.5-6.3l-.5 8l-.5-11.2l-.5 9.4l-.5 .8l-.5-5.9l-.5 1l-.5 .8l-.5 3.6l-.5 .4l-.5-8.6l-.5-1.9l-.5 5.8l-.5-5.5l-.5 7.8l-.5-5.5l-.5-2.6l-.5 9.7l-.5-8.4Z" fill="#1f77b4" fill-opacity="0.2"/>
<path d="M700.5 889.6l.5-.3l.5-.4l.5-4.3l.5-6.6l.5-13.7l.5-10.7l.5-6.6l.5-4.5l.5 2.4l.5-.1l.5 .5l.5 .5l.5 7.6l.5 13.7l.5 13.5l.5 5.5l.5 3.4l.5 .4l.5-2.1l.5 1.8l.5-2.5l.5 2.8l.5-2.1l.5 1.2l.5 .6l.5 .4l.5-1.1l.5 1l.5 .1l.5-.7l.5 .7l.5-.4l.5-1.7l.5 1.6l.5-1.2l.5 1l.5 .5l.5-.8l.5 .6l.5-1.2l.5-.6l.5 1.5l.5 0l.5 .5l.5-.8l.5 .5l.5 .2l.5-1.4l.5-.2l.5 1.8l.5 .1l.5-.1l.5-.8l.5 .4l.5-1.2l.5-6.5l.5-13.1l.5-12.9l.5-6.6l.5-4l.5-.3l.5 .1l.5 0l.5 1.7l.5 4.8l.5 10.5l.5 11.3l.5 10l.5 4.8l.5 1.8l.5-1l.5 .5l.5-.9l.5-1.1l.5 .9l.5-.9l.5 2.5l.5-.1l.5-2.2l.5 .1l.5 2.2l.5 .1l.5-.8l.5 .8l.5 0l.5 0l.5-3l.5 2.2l.5-.4l.5 .7l.5-1l.5 1.4l.5-.2l.5 .1l.5 0l.5-.6l.5 .6l.5-.6l.5 .5l.5 0l.5-1.5l.5-.2l.5 1.9l.5-2.7l.5 2.6l.5-1.6l.5-.4l0 23.5l-.5-6.3l-.5 1.9l-.5 3.3l-.5-3.2l-.5 7.2l-.5-8.3l-.5 4l-.5-3.1l-.5-1.6l-.5 7.5l-.5-3l-.5 3.9l-.5-8.5l-.5 .3l-.5 1.3l-.5 5.8l-.5-7.4l-.5 5.9l-.5-4.5l-.5-.4l-.5 8.8l-.5-9.9l-.5 .2l-.5 0l-.5 3.1l-.5 4.6l-.5 .4l-.5-4.1l-.5-4.2l-.5 1.9l-.5 7.6l-.5-5.4l-.5-2.6l-.5 .9l-.5-2.2l-.5 .8l-.5 .8l-.5-1.3l-.5 8.6l-.5-.8l-.5-4.9l-.5 2.9l-.5-.3l-.5-1.3l-.5 2.2l-.5-6.9l-.5 .4l-.5 5l-.5 1.2l-.5-6.4l-.5 8l-.5-2.3l-.5-5.9l-.5 .4l-.5 1.3l-.5 6.3l-.5-7.9l-.5 .1l-.5 1.2l-.5 5.5l-.5-2.6l-.5-.5l-.5-2.8l-.5-.4l-.5 6.1l-.5 1.3l-.5 1.3l-.5-1.6l-.5-6.2l-.5 .1l-.5 6.7l-.5-7.9l-.5 7l-.5-5.1l-.5-2.2l-.5 3l-.5 0l-.5 0l-.5-2.6l-.5 1.1l-.5 4.6l-.5-5.5l-.5 3.9l-.5 3.7l-.5-2.8l-.5-2l-.5-3.4l-.5 .4l-.5 9.3l-.5-9.4l-.5 2.4l-.5-2.6l-.5 7.9l-.5-7l-.5-.8l-.5 3l-.5-1.2l-.5-1.5l-.5 .1l-.5-.7l-.5 0l-.5 0l-.5 1l-.5 3.4l-.5 1.4l-.5-5.3l-.5-.1Z" fill="#ff7f0e" fill-opacity="0.2"/>
<line x1="702.5" y1="682" x2="702.5" y2="906" stroke="#1f77b4" stroke-width="6.0" stroke-linecap="round"/>
<ellipse cx="700.6" cy="684.5" rx="3.2" ry="4.3" fill="#1f77b4"/>
<path d="M699.4 905.6l.5-1.6l.5-.6l.5-.4l.5-.2l.5-.1l.5-.1l.5 .1l.5 .1l.5-.1l.5-.4l.5-.3l.5-.2l.5-.1l.5 0l.5 .1l.5-.1l.5-1.6l.5-2.1l.5-2.5l.5-1.3l.5-3.6l.5-1.2l.5-.8l.5-.4l.5-.3l.5-.2l.5-.1l.5 0l.5 .1l.5-.3l.5-.7l.5-.5l.5-.3l.5-.2l.5 0l.5 0l.5 0l.5 .2l.5 .3l.5 .4l.5 .8l.5 .5l.5 .3l.5 .4l.5 .7l.5 1.3l.5 5.2l.5 1.3l.5 1l.5 1.3l.5 2.4l.5-.3l.5-.2l.5-.2l.5 0l.5 0l.5 .2l.5 .2l.5 0l.5 0l.5 .1l.5 0l.5 0l.5 .1l.5 .2l.5-.1l.5 0l.5 .1l.5 .2l.5 .3l.5-.4l.5-.3l.5-.3l.5-.1l.5-.1l.5 0l.5 .2l.5 .2l.5 .3l.5 .5l.5 1l.5-.1l.5 0l.5 .1l.5 .2l.5 .1l.5 .1l.5 .3l.5-.2l.5-.3l.5-.2l.5-.1l.5 0l.5 .1l.5 .2l.5 .3l.5 .4l.5 .7l0 5l-.5 .8l-.5 1l-.5 .5l-.5 .3l-.5 .3l-.5 .1l-.5 0l-.5-.1l-.5-.1l-.5-.3l-.5-.1l-.5 0l-.5-.1l-.5-.2l-.5-.3l-.5 0l-.5 0l-.5 .2l-.5 0l-.5 0l-.5 0l-.5-.2l-.5-.3l-.5-.3l-.5 .1l-.5 0l-.5-.1l-.5 .2l-.5 .6l-.5 .5l-.5 .3l-.5 .2l-.5 .2l-.5 .3l-.5 .1l-.5 .1l-.5 0l-.5-.1l-.5-.2l-.5-.3l-.5-.2l-.5 .2l-.5 .1l-.5 0l-.5-.1l-.5-.1l-.5-.3l-.5-.4l-.5-.7l-.5-.2l-.5 0l-.5 0l-.5-.1l-.5-.1l-.5-.3l-.5-.4l-.5-.7l-.5-1.4l-.5-2.3l-.5-1.1l-.5-4.5l-.5-.4l-.5-.6l-.5-1.5l-.5-1.2l-.5 .9l-.5 1.7l-.5 2.6l-.5 1.1l-.5 2.5l-.5 2.7l-.5 .6l-.5 1.1l-.5 .6l-.5 .3l-.5 .3l-.5 .1l-.5 0l-.5 .3l-.5 .2l-.5 .2l-.5 .2l-.5 0l-.5 0l-.5-.1l-.5-.2l-.5-.3l-.5 .4l-.5 .2l-.5 .2l-.5 .1l-.5 0l-.5-.1l-.5-.2l-.5-.4l-.5-.4l-.5-1l-.5-.9Z" fill="#1f77b4"/>
<line x1="745.7" y1="906" x2="745.7" y2="661" stroke="#1f77b4" stroke-width="6.0" stroke-linecap="round"/>
<path d="M742.7 666.5l.5-1.6l.5-.6l.5-.3l.5-.3l.5-.1l.5-.2l.5-.4l.5-.5l.5-.4l.5-.2l.5-.2l.5 0l.5 0l.5 .1l.5 .1l.5 .2l.5 .3l.5 .4l.5 .5l.5 .2l.5 .3l.5-.9l.5-.7l.5-.5l.5-.2l.5-.2l.5-.1l.5 0l.5 .1l.5 .2l.5-.4l.5-.4l.5-.3l.5-.2l.5-.1l.5 0l.5 .1l.5 .1l.5 .1l.5 .1l.5 .2l.5 .3l.5-.1l.5 0l.5 .1l.5 .1l.5-.1l.5 0l.5 .1l.5 .1l.5 .3l.5 .3l.5-.1l.5 0l.5-.1l.5-.1l.5 0l.5-.1l.5-.1l.5 .1l.5 .1l.5 .3l.5 .3l.5 0l.5-1.2l.5-.6l.5-.4l.5-.3l.5-.1l.5-.1l.5 0l.5 .1l.5 .2l.5 .4l.5 .5l.5 1l.5 .8l.5 .9l.5-.3l.5-.3l.5-.1l.5-.2l.5-.1l.5 0l.5 .1l.5 .2l.5 .1l.5 0l.5-.3l.5-.1l.5 0l.5 0l.5 .2l.5 .2l.5 .3l.5 .3l.5 .5l.5 1l.5 .8l0 5.5l-.5 .7l-.5 .4l-.5 .3l-.5 .2l-.5 .1l-.5-.1l-.5 0l-.5-.1l-.5 .2l-.5 .1l-.5 .1l-.5 0l-.5-.1l-.5-.1l-.5-.2l-.5 0l-.5 0l-.5-.1l-.5 0l-.5 0l-.5-.1l-.5-.2l-.5-.3l-.5 1.2l-.5 .7l-.5 .5l-.5 .3l-.5 .1l-.5 .1l-.5 0l-.5-.1l-.5-.1l-.5-.3l-.5-.5l-.5-.8l-.5-1.2l-.5-.9l-.5 .4l-.5 .3l-.5 .2l-.5 .1l-.5 0l-.5-.1l-.5-.2l-.5-.1l-.5 .2l-.5 .1l-.5 0l-.5 .8l-.5 .4l-.5 .3l-.5 .2l-.5 .1l-.5 0l-.5-.1l-.5-.2l-.5-.2l-.5-.3l-.5-.1l-.5-.1l-.5 .4l-.5 .3l-.5 .1l-.5 .1l-.5 0l-.5-.1l-.5-.2l-.5 .9l-.5 .6l-.5 .3l-.5 .2l-.5 .2l-.5 0l-.5 0l-.5-.2l-.5-.2l-.5-.4l-.5-.4l-.5 .1l-.5 0l-.5-.1l-.5-.2l-.5-.2l-.5-.5l-.5-.7l-.5 .1l-.5 0l-.5-.1l-.5-.2l-.5-.2l-.5-.2l-.5 0l-.5-.2l-.5-.2l-.5-.3l-.5-.6l-.5-1.7l-.5-.8l-.5-1.6Z" fill="#1f77b4"/>
<line x1="789.5" y1="667" x2="789.5" y2="650" stroke="#1f77b4" stroke-width="6.0" stroke-linecap="round"/>
<path d="M786.5 650.4l.5-1.7l.5-.6l.5-.3l.5-.3l.5-1.5l.5-.6l.5-.3l.5-.3l.5-.1l.5 0l.5-.2l.5-.2l.5-.1l.5-.4l.5-.5l.5-.3l.5-.2l.5-.1l.5 0l.5 .1l.5 .1l.5 .3l.5 .4l.5 .7l.5 .8l.5-1.3l.5-.7l.5-.5l.5-.2l.5-.2l.5-.1l.5 0l.5 .1l.5 .2l.5 .3l.5 .5l.5 .9l.5 .7l.5-.3l.5-.2l.5-.1l.5-.1l.5 .1l.5 .1l.5 .2l.5 .4l.5 .6l.5 .1l.5 .1l.5 .3l.5 0l.5-.2l.5-.1l.5-.1l.5 .1l.5 .1l.5 .2l.5-.1l.5-.1l.5-.2l.5 0l.5 0l.5 .1l.5 .2l.5 .3l.5 0l.5 .1l.5 0l.5-1.2l.5-1.3l.5-.7l.5-.5l.5-.2l.5-.2l.5-.1l.5 0l.5 .1l.5 .2l.5 .3l.5 .5l.5 .9l.5 .9l.5 0l.5 .2l.5 .2l.5-.3l.5-.4l.5-.2l.5-.2l.5 0l.5 0l.5 .2l.5 .2l.5 0l.5-.1l.5 0l.5 .1l.5 .2l.5-.3l.5-.1l.5-.1l.5 0l.5 .1l.5 .2l.5 .3l.5-.9l.5-1.6l.5-.6l.5-.3l.5-.3l.5-.1l.5-.1l.5 .1l.5 .1l.5 .2l.5 .4l.5 .5l.5 1.3l.5 0l.5-.6l.5-.3l.5-.3l.5-.2l.5-.2l.5 0l.5 0l.5 .1l.5 .1l.5 .3l.5 .5l.5 .9l.5 1l.5-.2l.5-.3l.5-.1l.5-.1l.5 .1l.5 .1l.5 .2l.5 .2l.5-.1l.5 0l.5 .1l.5 .2l.5 .2l.5-.1l.5-.2l.5-.1l.5 0l.5 0l.5 .2l.5 .3l.5 .4l.5 .2l.5-.1l.5-.2l.5-.2l.5 0l.5-.4l.5-.6l.5-.4l.5-.2l.5-.2l.5 0l.5 0l.5-.1l.5-.3l.5-.3l.5-.1l.5-.1l.5 .1l.5 .1l.5-.2l.5-.1l.5 0l.5 0l.5 .2l.5 0l.5-.1l.5 0l.5 .1l.5 .2l.5 .3l.5 .5l.5 .8l.5-.1l.5-.3l.5-.2l.5 0l.5 0l.5 .1l.5 .1l.5-.4l.5-.5l.5-.8l.5-1l.5-.5l.5-.4l.5-.2l.5-.1l.5 0l.5 .1l.5 .1l.5 .3l.5 .4l.5 .6l.5 1.4l.5 0l.5 .2l.5 .2l.5 .3l.5 .5l.5 .2l.5 .2l.5 .2l.5-.1l.5 0l.5 .2l.5-.2l.5-.9l.5-.6l.5-.3l.5-.2l.5-.1l.5 0l.5 0l.5 .2l.5 .2l.5-.2l.5-.1l.5-.1l.5 .1l.5 .2l.5 .1l.5-.2l.5-.1l.5-.1l.5 .1l.5 .1l.5 .3l.5 .4l.5-.2l.5-.7l.5-.5l.5-.3l.5-.1l.5-.1l.5 0l.5 .1l.5 .1l.5 .3l.5 .5l.5 .8l.5 1.2l.5 .6l.5 .3l.5 .3l.5 .4l.5-.7l.5-.4l.5-.3l.5-.4l.5-.4l.5-.2l.5-.2l.5 0l.5 0l.5 .1l.5 .2l.5 .4l.5-.2l.5-.2l.5-.1l.5 0l.5 .1l.5 .2l.5 .3l.5 .1l.5 0l.5 0l.5-.1l.5 .1l.5 0l.5-.1l.5 .1l.5 .1l.5 .2l.5-.3l.5-.6l.5-.3l.5-.2l.5-.1l.5-.1l.5 .1l.5 .1l.5 .3l.5 .4l.5 .1l.5-.2l.5-.3l.5-.2l.5-.6l.5-.5l.5-.3l.5-.3l.5-.1l.5 0l.5 .1l.5 .1l.5 .2l.5 0l.5-.3l.5-.2l.5-.2l.5 0l.5 .1l.5 .1l.5 .3l.5 .3l.5 .6l.5 .1l.5 .2l.5 .4l.5 .7l.5 1.5l.5 .6l.5-.5l.5-.4l.5-.3l.5-.2l.5-.1l.5 0l.5 .1l.5 .1l.5 .3l.5 .1l.5-.1l.5-.1l.5-.1l.5-.1l.5 .1l.5 .1l.5-.1l.5-.2l.5-.2l.5 0l.5 0l.5 .1l.5-.4l.5-.3l.5-.3l.5-.4l.5-.2l.5-.1l.5-.1l.5 .1l.5 .1l.5 .3l.5 .4l.5 .6l.5 .9l.5-.6l.5-.4l.5-.2l.5-.2l.5 0l.5 0l.5 .1l.5 .1l.5 0l.5 0l.5 .1l.5 .2l.5 .3l.5 .5l.5 .1l.5-.3l.5-.2l.5-.1l.5 0l.5 .1l.5 .2l.5 .3l.5 .2l.5 0l.5-.2l.5 0l.5-.1l.5-.2l.5-.2l.5-.1l.5-.4l.5-.4l.5-.3l.5-.2l.5-1l.5-.6l.5-.3l.5-.3l.5-.1l.5 0l.5 0l.5 .2l.5 .1l.5-.1l.5-.1l.5 0l.5 .2l.5 .2l.5 .2l.5-.1l.5 0l.5 .1l.5 .2l.5 .3l.5 .4l.5 .7l.5 1.3l.5 .4l.5 .1l.5 .2l.5 .3l.5 0l.5 .1l.5-.1l.5-.2l.5-.1l.5 0l.5 0l.5 .2l.5-.5l.5-.3l.5-.3l.5-.1l.5 0l.5 0l.5 .2l.5 .2l.5-.8l.5-.7l.5-.4l.5-.2l.5-.2l.5-.1l.5 .1l.5 .1l.5 .2l.5 .3l.5 .3l.5 0l.5 .2l.5 .2l.5 .1l.5 .1l.5 .3l.5 .4l.5 .8l.5-1l.5-.6l.5-.3l.5-.3l.5-.2l.5-.1l.5-.1l.5 0l.5 .1l.5 .2l.5 .3l.5 .5l.5-.2l.5-.2l.5 0l.5 0l.5-.2l.5-.1l.5 0l.5 0l.5 .1l.5 0l.5 .1l.5 .2l.5 .3l.5 .3l.5-.1l.5-.1l.5 .1l.5 .1l.5 .3l.5 0l.5-.1l.5-.6l.5-.3l.5-.3l.5-.1l.5 0l.5 0l.5 .1l.5 .3l.5 .3l.5 .6l.5 1.7l.5 .2l.5 0l.5-1.2l.5-.2l.5-1.5l.5-.5l.5-.4l.5-.2l.5-.1l.5-.1l.5-.5l.5-.3l.5-.2l.5-.1l.5 0l.5-.1l.5-.2l.5-.1l.5 0l.5 .1l.5 .1l.5 .3l.5 .4l.5-.1l.5-.5l.5-.3l.5-.2l.5-.1l.5 0l.5 .1l.5 .2l.5 .2l.5 .4l.5 .7l.5 1.4l.5 2l.5-.2l.5-.1l.5-1.5l.5-.6l.5-.3l.5-.3l.5-.1l.5-.1l.5 .1l.5 .1l.5 .2l.5 .4l.5 .6l.5 1.4l.5-1.5l.5-.5l.5-.4l.5-.2l.5-.2l.5 0l.5 0l.5 .2l.5 0l.5 0l.5 .1l.5 .2l.5 .3l.5 .5l.5 .5l.5-.4l.5-.3l.5-.1l.5-.1l.5 0l.5 .1l.5 .2l.5 .3l.5 .5l.5 .7l.5-.4l.5-.3l.5-.2l.5-.1l.5 .1l.5 .1l.5 .1l.5 .4l.5-.4l.5-1.7l.5-.6l.5-.3l.5-.3l.5-.1l.5 0l.5 0l.5 .1l.5 .2l.5 .4l.5 .6l.5 1.3l.5 .4l.5 .5l.5-.3l.5-.3l.5-.1l.5 0l.5-.1l.5-.3l.5-.2l.5-.4l.5-.2l.5-.2l.5-.1l.5 0l.5 .1l.5 .2l.5 .3l.5 .1l.5-.2l.5 0l.5 0l.5 .1l.5 .3l.5 .3l.5 .6l.5 .6l.5-.8l.5-.4l.5-.3l.5-.2l.5 0l.5 0l.5 .1l.5 .2l.5 .3l.5 .4l.5 .9l0 5.2l-.5 .5l-.5 4.3l-.5 .4l-.5 1.3l-.5 .5l-.5 .4l-.5 .2l-.5 .1l-.5 .1l-.5-.1l-.5-.1l-.5-.3l-.5-.3l-.5-.6l-.5-1.6l-.5-1.3l-.5 .8l-.5 .6l-.5 .5l-.5 .2l-.5 .2l-.5 .1l-.5 .3l-.5 .1l-.5 0l-.5 0l-.5-.2l-.5-.2l-.5-.4l-.5 1.1l-.5 .5l-.5 .4l-.5 .2l-.5 .1l-.5 .1l-.5-.1l-.5-.1l-.5-.2l-.5-.2l-.5 0l-.5-.1l-.5-.2l-.5-.2l-.5-.5l-.5-.7l-.5-.8l-.5-.3l-.5 .1l-.5 .2l-.5 .2l-.5 1.5l-.5 1l-.5 .9l-.5 .5l-.5 .3l-.5 .2l-.5 .1l-.5 0l-.5-.1l-.5-.1l-.5-.3l-.5-.4l-.5-.8l-.5-1.3l-.5-1.9l-.5 .5l-.5 .4l-.5 .3l-.5 .1l-.5 .4l-.5 .2l-.5 .1l-.5 .1l-.5-.1l-.5-.1l-.5-.2l-.5-.2l-.5 .7l-.5 .4l-.5 .3l-.5 .2l-.5 0l-.5 0l-.5-.1l-.5-.2l-.5-.3l-.5-.5l-.5-.9l-.5-.8l-.5-.3l-.5 0l-.5 0l-.5-.1l-.5-.3l-.5-.3l-.5 .3l-.5 .4l-.5 .6l-.5 .9l-.5 .5l-.5 .3l-.5 .2l-.5 .1l-.5 0l-.5-.1l-.5-.1l-.5-.3l-.5-.4l-.5-.7l-.5-.5l-.5 .5l-.5 .4l-.5 .2l-.5 .2l-.5 0l-.5 0l-.5-.2l-.5-.2l-.5-.4l-.5-.1l-.5 .2l-.5 .5l-.5 .3l-.5 .2l-.5 .1l-.5 0l-.5 .1l-.5 .3l-.5 .2l-.5 0l-.5 0l-.5 0l-.5 .3l-.5 .2l-.5 .1l-.5 0l-.5 0l-.5-.2l-.5-.3l-.5-.4l-.5-.7l-.5-.4l-.5 .1l-.5 .1l-.5 0l-.5-.1l-.5-.2l-.5-.3l-.5-.4l-.5 .1l-.5 0l-.5-.1l-.5-.1l-.5-.1l-.5-.1l-.5-.4l-.5-.2l-.5-.4l-.5 .6l-.5 .5l-.5 .3l-.5 .2l-.5 .2l-.5 .3l-.5 .3l-.5 .1l-.5 .1l-.5-.1l-.5 0l-.5 .2l-.5 .1l-.5 .1l-.5-.1l-.5-.2l-.5-.2l-.5-.4l-.5-.7l-.5-.4l-.5 .2l-.5 .5l-.5 .3l-.5 .2l-.5 .1l-.5 0l-.5 0l-.5 0l-.5 .2l-.5 .1l-.5 .1l-.5-.1l-.5-.1l-.5-.2l-.5-.4l-.5-.4l-.5 .2l-.5 .2l-.5 .4l-.5 .3l-.5 .1l-.5 .1l-.5 0l-.5-.1l-.5-.2l-.5-.3l-.5-.5l-.5-.8l-.5-.4l-.5 .2l-.5 .7l-.5 .5l-.5 .4l-.5 .2l-.5 .1l-.5 0l-.5-.1l-.5-.1l-.5-.3l-.5-.4l-.5 0l-.5 0l-.5-.1l-.5-.1l-.5-.3l-.5-.2l-.5 .4l-.5 .3l-.5 .2l-.5 0l-.5 0l-.5-.1l-.5-.1l-.5 .1l-.5 .2l-.5 .1l-.5 0l-.5-.1l-.5 .4l-.5 .2l-.5 .1l-.5 0l-.5-.1l-.5-.1l-.5-.3l-.5 .2l-.5 .4l-.5 .3l-.5 .2l-.5 .1l-.5 0l-.5-.1l-.5-.2l-.5-.3l-.5-.5l-.5-.8l-.5-1l-.5 .2l-.5 .3l-.5 .2l-.5 .3l-.5 .2l-.5 .1l-.5 0l-.5-.1l-.5-.1l-.5-.3l-.5 .1l-.5 0l-.5 .2l-.5 .3l-.5 .2l-.5 .1l-.5 .4l-.5 .5l-.5 .3l-.5 .1l-.5 .1l-.5 0l-.5-.1l-.5-.2l-.5 .2l-.5 .2l-.5 .1l-.5 0l-.5-.1l-.5-.2l-.5-.3l-.5-.5l-.5-.4l-.5 .4l-.5 .3l-.5 .2l-.5 0l-.5 0l-.5 0l-.5-.2l-.5-.3l-.5-.5l-.5-.8l-.5-1.1l-.5-.3l-.5 .3l-.5 .4l-.5 .6l-.5 .4l-.5 .2l-.5 .2l-.5 0l-.5 0l-.5-.1l-.5-.3l-.5 .1l-.5 .1l-.5 .1l-.5-.1l-.5-.1l-.5-.2l-.5-.1l-.5 0l-.5-.2l-.5-.2l-.5-.3l-.5 .1l-.5 .5l-.5 .8l-.5 1l-.5 .5l-.5 .4l-.5 .2l-.5 .1l-.5 0l-.5 0l-.5-.2l-.5-.2l-.5-.4l-.5-.7l-.5-1.5l-.5 .1l-.5 .1l-.5 0l-.5-.1l-.5 .3l-.5 .5l-.5 .3l-.5 .2l-.5 .1l-.5 .1l-.5-.1l-.5-.1l-.5-.3l-.5-.4l-.5-.6l-.5-1.1l-.5 0l-.5 .5l-.5 1l-.5 .6l-.5 .3l-.5 .2l-.5 .1l-.5 .1l-.5 0l-.5 .4l-.5 .2l-.5 .2l-.5 0l-.5 0l-.5-.1l-.5-.2l-.5-.4l-.5-.4l-.5 .2l-.5 .1l-.5 0l-.5-.1l-.5-.2l-.5-.3l-.5-.4l-.5-.5l-.5 .1l-.5 .1l-.5-.1l-.5-.1l-.5-.1l-.5 0l-.5 0l-.5 .1l-.5 .2l-.5 .3l-.5 .3l-.5 .3l-.5 .1l-.5 0l-.5-.1l-.5-.1l-.5-.2l-.5-.4l-.5-.7l-.5 .6l-.5 .3l-.5 .2l-.5 .1l-.5 .1l-.5-.1l-.5-.1l-.5-.3l-.5-.4l-.5-.6l-.5-.7l-.5 1.1l-.5 .5l-.5 .4l-.5 .2l-.5 .1l-.5 0l-.5 0l-.5-.2l-.5-.2l-.5-.4l-.5-.6l-.5-.7l-.5 .5l-.5 .3l-.5 .1l-.5 .6l-.5 .3l-.5 .2l-.5 .2l-.5 0l-.5-.1l-.5-.1l-.5-.3l-.5 .5l-.5 .6l-.5 .4l-.5 .3l-.5 .1l-.5 .1l-.5-.1l-.5-.1l-.5-.2l-.5-.3l-.5-.5l-.5 0l-.5 .4l-.5 .2l-.5 .2l-.5 0l-.5 0l-.5-.1l-.5-.2l-.5-.3l-.5-.2l-.5-.1l-.5-.2l-.5 .5l-.5 .3l-.5 .2l-.5 0l-.5 0l-.5 0l-.5-.2l-.5-.3l-.5-.4l-.5-.8l-.5-1.2l-.5-1.1l-.5 .3l-.5 .2l-.5 0l-.5 0l-.5-.1l-.5 .3l-.5 .2l-.5 .1l-.5 .2l-.5 .3l-.5 .2l-.5 .2l-.5 0l-.5 .2l-.5 .2l-.5 .1l-.5 0l-.5 .3l-.5 .1l-.5 0l-.5 0l-.5-.2l-.5-.2l-.5 .4l-.5 .3l-.5 .1l-.5 .1l-.5 0l-.5-.1l-.5 .6l-.5 .3l-.5 .3l-.5 .1l-.5 0l-.5 0l-.5-.2l-.5-.2l-.5-.4l-.5-.6l-.5-.9l-.5 .3l-.5 .4l-.5 .2l-.5 .2l-.5 0l-.5 0l-.5-.1l-.5-.2l-.5-.3l-.5-.5l-.5 .1l-.5 .3l-.5 .2l-.5 .1l-.5 0l-.5 0l-.5-.1l-.5-.2l-.5-.3l-.5-.5l-.5-.7l-.5 .6l-.5 .3l-.5 .3l-.5 .5l-.5 .3l-.5 .1l-.5 1l-.5 .7l-.5 .4l-.5 .2l-.5 .2l-.5 .1l-.5-.1l-.5-.1l-.5-.2l-.5-.3l-.5-.5l-.5-.9l-.5-.9l-.5-.3l-.5-.2l-.5-.3l-.5-.3l-.5 0l-.5-.1l-.5-.1l-.5 .3l-.5 .7l-.5 .4l-.5 .3l-.5 .1l-.5 .1l-.5 0l-.5 .1l-.5 .4l-.5 .1l-.5 .1l-.5 0l-.5 0l-.5-.2l-.5-.3l-.5-.4l-.5-.7l-.5-.8l-.5-.5l-.5-.1l-.5 .2l-.5 0l-.5 .3l-.5 .1l-.5 .5l-.5 .7l-.5 .4l-.5 .3l-.5 .1l-.5 .1l-.5 0l-.5-.1l-.5-.2l-.5-.3l-.5-.5l-.5-.2l-.5 .1l-.5-.1l-.5-.1l-.5-.2l-.5-.4l-.5-.6l-.5-1.3l-.5 .1l-.5 .1l-.5-.1l-.5-.1l-.5-.2l-.5-.2l-.5 0l-.5 .6l-.5 .3l-.5 .3l-.5 .1l-.5 0l-.5 .7l-.5 .6l-.5 .4l-.5 .2l-.5 .1l-.5 .1l-.5-.1l-.5-.1l-.5-.2l-.5-.4l-.5-.6l-.5 .7l-.5 .5l-.5 .3l-.5 .2l-.5 .1l-.5 0l-.5-.1l-.5-.1l-.5-.3l-.5-.4l-.5-.5l-.5-.3l-.5-.5l-.5-.9l-.5-.9Z" fill="#1f77b4"/>
<path d="M698.2 875.3l.5-1.7l.5-20l.5-1.6l.5-.6l.5-.4l.5-.2l.5-.1l.5-.1l.5 .1l.5 .1l.5 .1l.5 0l.5-.2l.5 0l.5 0l.5 .1l.5-.1l.5 0l.5 0l.5 0l.5 .2l.5 .2l.5 .3l.5 .6l.5 1.3l.5 1.7l.5 36.1l.5 .1l.5-.1l.5 0l.5 0l.5 .1l.5 .2l.5 0l.5 0l.5-.2l.5-.1l.5-.1l.5 .1l.5 .1l.5 0l.5-.1l.5-.1l.5 .1l.5 .1l.5 .2l.5 .4l.5 .2l.5 .1l.5-.4l.5-.3l.5-.2l.5-.1l.5-36.3l.5-1.7l.5-.6l.5-.5l.5-.5l.5-.4l.5-.2l.5-.1l.5-.1l.5 .1l.5 .1l.5 0l.5 0l.5 .1l.5 0l.5-.2l.5 0l.5-.1l.5 .1l.5 .1l.5 .2l.5 .1l.5 .2l.5 .2l.5 .2l.5 .4l.5 .6l.5 1.6l.5 18.8l.5 .1l.5-.1l.5-.1l.5-.1l.5-.1l.5 0l.5 .1l.5 .1l.5-.2l.5-.1l.5 0l.5 0l.5 .1l.5 .3l.5-.1l.5-.1l.5-.1l.5-.1l.5 .1l.5 .1l.5 0l.5-.1l.5-.1l.5 .1l.5 .1l.5 .2l.5 .1l.5-.2l.5-.2l.5 0l.5 0l.5 .2l.5 .2l.5 .4l.5 .5l.5 1.7l0 29.9l-.5 1.2l-.5 .8l-.5 .4l-.5 .3l-.5 .4l-.5 .3l-.5 .2l-.5 .1l-.5 0l-.5-.1l-.5-.2l-.5-.3l-.5-.4l-.5-.6l-.5-.5l-.5-.1l-.5 .2l-.5 .1l-.5 0l-.5 .1l-.5 .8l-.5 .4l-.5 .3l-.5 .2l-.5 .1l-.5 0l-.5-.1l-.5-.2l-.5-.3l-.5-.2l-.5-.1l-.5-.2l-.5-.3l-.5 .4l-.5 .4l-.5 .3l-.5 .2l-.5 .1l-.5 0l-.5-.1l-.5-.2l-.5-.3l-.5-.4l-.5-.4l-.5 .2l-.5 .2l-.5 0l-.5 0l-.5 0l-.5-.2l-.5-.3l-.5-.5l-.5-.1l-.5 .2l-.5 .4l-.5 .3l-.5 .2l-.5 .1l-.5 0l-.5-.1l-.5-.2l-.5-.3l-.5 .1l-.5 .3l-.5 .1l-.5 .1l-.5 0l-.5-.1l-.5-.1l-.5-.1l-.5 0l-.5-.1l-.5-.2l-.5-.3l-.5-.2l-.5 .1l-.5 0l-.5 .1l-.5 .3l-.5 .1l-.5 .1l-.5 0l-.5-.1l-.5-.1l-.5-.3l-.5-.2l-.5 .2l-.5 .8l-.5 .4l-.5 .3l-.5 .2l-.5 .1l-.5 0l-.5-.1l-.5-.2l-.5-.3l-.5-.4l-.5 .1l-.5 .1l-.5 0l-.5 .1l-.5 .1l-.5 0l-.5-.1l-.5 .1l-.5 .1l-.5 0l-.5-.1l-.5-.1l-.5-.3l-.5-.5l-.5-.4l-.5-.2l-.5-.3l-.5-.4l-.5-.8l-.5-1.2l-.5-2.1Z" fill="#ff7f0e"/>
<circle cx="701.5" cy="878" r="4.2" fill="#ff7f0e"/>
<line x1="754.2" y1="880" x2="754.2" y2="667" stroke="#ff7f0e" stroke-width="6.0" stroke-linecap="round"/>
<path d="M751.2 667.7l.5-1.6l.5-.6l.5-.7l.5-1.4l.5-.7l.5-.4l.5-.3l.5-.1l.5-.1l.5 0l.5 .1l.5 .2l.5 .1l.5-.7l.5-1.6l.5-.6l.5-.4l.5-.2l.5-.1l.5-.1l.5 .1l.5 .1l.5 .2l.5 .4l.5 .5l.5 1l.5-.1l.5 0l.5-.2l.5-.1l.5-.1l.5-.1l.5-.3l.5-.2l.5 0l.5 0l.5 .1l.5 .1l.5 .3l.5 .5l.5 .9l.5 .4l.5-.8l.5-.7l.5-.3l.5-.3l.5-.1l.5-.1l.5 .1l.5 .1l.5 .2l.5 .3l.5 .2l.5-.1l.5 .1l.5 .1l.5 .2l.5 .4l.5-.1l.5-.2l.5-.3l.5-.2l.5-.1l.5 0l.5 0l.5 .1l.5 .1l.5 .3l.5-.1l.5-.1l.5 .1l.5 .1l.5 .2l.5 .3l.5 .1l.5-1.2l.5-.8l.5-.5l.5-.3l.5-.1l.5-.1l.5 0l.5 0l.5 .2l.5 .2l.5 0l.5 .1l.5 .1l.5 .3l.5 .5l.5 .7l.5 .4l.5-.3l.5-.2l.5-.1l.5 0l.5 .1l.5 .2l.5 0l.5 0l.5 0l.5 .1l.5 .2l.5 .3l.5 .5l.5 1l.5-.1l.5-.1l.5 0l.5 .1l.5 .2l.5 .3l.5 .5l.5 1l.5 .9l0 3.1l-.5 .7l-.5 .4l-.5 .5l-.5 .4l-.5 .3l-.5 .2l-.5 1l-.5 .6l-.5 .3l-.5 .3l-.5 .1l-.5 .1l-.5-.1l-.5-.1l-.5-.2l-.5-.1l-.5 .1l-.5 0l-.5-.1l-.5-.2l-.5-.3l-.5 .1l-.5 .1l-.5 0l-.5 0l-.5 0l-.5 .1l-.5 0l-.5-.1l-.5-.2l-.5-.3l-.5-.3l-.5 0l-.5 .5l-.5 .5l-.5 .4l-.5 .2l-.5 .1l-.5 0l-.5 0l-.5-.2l-.5-.2l-.5-.4l-.5-.5l-.5 .3l-.5 .1l-.5 .1l-.5 0l-.5-.1l-.5-.1l-.5-.3l-.5-.3l-.5-.1l-.5 .7l-.5 .5l-.5 .4l-.5 .2l-.5 .1l-.5 0l-.5 0l-.5-.2l-.5-.2l-.5-.4l-.5-.5l-.5 .3l-.5 .2l-.5 .1l-.5 0l-.5-.1l-.5-.2l-.5-.3l-.5-.4l-.5-.7l-.5-.5l-.5 0l-.5 .6l-.5 .4l-.5 .3l-.5 .1l-.5 .1l-.5 0l-.5-.1l-.5-.2l-.5-.4l-.5 1l-.5 .7l-.5 .4l-.5 .3l-.5 .1l-.5 .1l-.5 0l-.5-.1l-.5-.2l-.5-.3l-.5-.5l-.5-1l-.5-.4l-.5 .7l-.5 .4l-.5 .2l-.5 .2l-.5 .1l-.5 0l-.5-.1l-.5-.2l-.5-.4l-.5-.5l-.5-.3l-.5 0l-.5-.1l-.5-.2l-.5-.3l-.5-.5l-.5-.9l-.5-1Z" fill="#ff7f0e"/>
<line x1="806" y1="667" x2="806" y2="650" stroke="#ff7f0e" stroke-width="6.0" stroke-linecap="round"/>
<path d="M803.0 647.9l.5-1l.5-.9l.5-.5l.5-.3l.5-1.2l.5-.6l.5-.3l.5-.3l.5-.1l.5-.1l.5-.1l.5-.1l.5 .1l.5 .1l.5 .2l.5 .4l.5 .6l.5 1l.5 0l.5 0l.5 0l.5-.1l.5-.2l.5-.3l.5-.2l.5-.1l.5 0l.5 0l.5 .2l.5 .3l.5 .4l.5 .7l.5 .3l.5-.2l.5-.2l.5-.3l.5-.5l.5-.3l.5-.2l.5-.1l.5 0l.5 0l.5 .2l.5 .3l.5 .1l.5 0l.5 .1l.5 .2l.5 .3l.5 .4l.5 .5l.5-.4l.5-1.7l.5-.5l.5-.4l.5-.2l.5-.2l.5 0l.5 0l.5 .2l.5 .2l.5 .4l.5 .5l.5 .2l.5 0l.5 .2l.5 .2l.5 .4l.5 .5l.5 .3l.5-.3l.5-.1l.5-.1l.5 0l.5-.6l.5-.9l.5-.5l.5-.3l.5-.2l.5-.1l.5 0l.5 0l.5 .2l.5 .3l.5 .4l.5 .7l.5 .2l.5-.3l.5-1l.5-.9l.5-.5l.5-.3l.5-.2l.5-.1l.5 0l.5 .1l.5 .1l.5 .3l.5 .4l.5 .7l.5 .9l.5 0l.5 0l.5 .1l.5-.3l.5-.4l.5-.3l.5-.2l.5 0l.5 0l.5 .1l.5 .2l.5 .3l.5 .5l.5 .3l.5 .3l.5 .4l.5 .7l.5-.1l.5-.2l.5-.2l.5 0l.5 0l.5-.2l.5-.5l.5-.3l.5-.2l.5-.1l.5 0l.5 0l.5 .2l.5 .3l.5 .4l.5 .3l.5 0l.5 .1l.5 .3l.5 .3l.5 .5l.5-.6l.5-.5l.5-.3l.5-.2l.5-.1l.5-.1l.5 .1l.5 .2l.5 .2l.5 .5l.5-.8l.5-.5l.5-.3l.5-.2l.5-.1l.5 0l.5 .1l.5 .1l.5 .3l.5 .4l.5 .1l.5-.3l.5-.3l.5-.1l.5 0l.5 0l.5 .1l.5 .3l.5 .3l.5 .3l.5 .1l.5-.1l.5-.1l.5 .1l.5 .1l.5 .2l.5 .4l.5 .1l.5-.1l.5-.1l.5 .1l.5 .1l.5 .1l.5 0l.5-.4l.5-.2l.5-.1l.5 0l.5 .1l.5 .2l.5 0l.5-.2l.5 0l.5-.4l.5-.9l.5-.5l.5-.4l.5-.1l.5-.2l.5 0l.5 .1l.5 .2l.5 .2l.5 .4l.5 .7l.5 0l.5-.1l.5-.1l.5-.4l.5-.2l.5-.1l.5 0l.5 .1l.5 .2l.5 .2l.5 .4l.5 .7l.5 1l.5-.1l.5-1l.5-.9l.5-.5l.5-.3l.5-.2l.5-.1l.5 0l.5 .1l.5 .1l.5 .3l.5 .4l.5 .5l.5-.1l.5-.1l.5 .1l.5 .1l.5 .2l.5 .2l.5-.1l.5 0l.5 0l.5 .1l.5 .1l.5-.1l.5 .1l.5 .1l.5 .2l.5 .2l.5-.3l.5-.1l.5-.1l.5 0l.5 .1l.5-.1l.5-.2l.5-.3l.5-.5l.5-.3l.5-.2l.5-.1l.5-.1l.5 .1l.5 .2l.5 .2l.5 .4l.5 .7l.5 .9l.5-.1l.5-.7l.5-.5l.5-.2l.5-.2l.5-.1l.5 0l.5 .1l.5 .2l.5 0l.5-.3l.5-.2l.5-.1l.5 0l.5 0l.5 .2l.5 .3l.5 .4l.5 .7l.5 .8l.5-.1l.5-.3l.5-.9l.5-.5l.5-.3l.5-.2l.5-.1l.5-.1l.5-.1l.5-.1l.5-.1l.5 .1l.5 .1l.5 .2l.5 .4l.5 .6l.5 1.3l.5-.1l.5 0l.5 0l.5-.2l.5-.1l.5-.1l.5 0l.5 .2l.5 .2l.5 .4l.5 0l.5-.3l.5-.2l.5-.1l.5 0l.5-.1l.5-.1l.5 0l.5 .1l.5 .2l.5 .3l.5 .5l.5-.2l.5-.2l.5-.1l.5-.1l.5-.1l.5 0l.5 .1l.5-1l.5-.7l.5-.5l.5-.2l.5-.2l.5-.1l.5 0l.5 .1l.5 .2l.5 .3l.5 .5l.5 .9l.5-.3l.5-.2l.5-.2l.5-.1l.5 0l.5 .1l.5-.4l.5-.3l.5-.1l.5-.1l.5 0l.5 .1l.5 .2l.5 .2l.5 .3l.5 .4l.5-.4l.5-.2l.5-.2l.5-.1l.5 0l.5 0l.5 .1l.5 .2l.5-.3l.5-.1l.5 0l.5 0l.5 .1l.5 .3l.5 .3l.5 .6l.5 .3l.5 .4l.5 .7l.5-.7l.5-.6l.5-.4l.5-.2l.5-.1l.5-.1l.5 .1l.5 .1l.5 0l.5-.1l.5 0l.5 .1l.5 .1l.5 .3l.5 .4l.5-.2l.5 0l.5-.1l.5-.2l.5-.1l.5 0l.5 0l.5 .1l.5 0l.5 .2l.5-.1l.5-.2l.5-.2l.5-.1l.5 0l.5 .1l.5 .2l.5 .2l.5-.2l.5-.1l.5 0l.5 .1l.5 .2l.5 .1l.5 .1l.5 .1l.5-.1l.5 0l.5 0l.5 .1l.5 .1l.5-.1l.5-.1l.5-.6l.5-1.3l.5-.7l.5-.5l.5-.3l.5-.1l.5-.1l.5 0l.5 .1l.5 .2l.5 .3l.5 .5l.5 .8l.5 1l.5-.1l.5-.1l.5 .1l.5-.1l.5 0l.5 .1l.5 .1l.5 0l.5-.2l.5-.4l.5-.3l.5-.1l.5-.1l.5 0l.5 .1l.5 .2l.5 .3l.5 .5l.5 .6l.5 .3l.5 .1l.5-.2l.5-.2l.5 0l.5 0l.5 0l.5 0l.5 .1l.5 0l.5 .1l.5 0l.5 0l.5-.2l.5-.2l.5-.3l.5-.2l.5-.1l.5-.1l.5 .1l.5 .1l.5 .2l.5 .4l.5 .5l.5 .2l.5-.2l.5-.1l.5-.1l.5 .1l.5 0l.5-.1l.5 0l.5 .1l.5 .1l.5-.4l.5-.5l.5-.4l.5-.2l.5-.1l.5 0l.5 .1l.5-.5l.5-.3l.5-.2l.5-.1l.5 0l.5 0l.5 .2l.5 .2l.5 .4l.5 .7l.5 1.2l.5-.1l.5-.1l.5 0l.5-.1l.5-.2l.5-.1l.5-.1l.5 0l.5-.1l.5 .1l.5 .1l.5 .2l.5 .4l.5 .5l.5-.1l.5-.3l.5-.3l.5-.1l.5-.1l.5 .1l.5 .1l.5 .2l.5-.1l.5-.1l.5-.3l.5-.5l.5-.3l.5-.2l.5-.1l.5 0l.5 .1l.5 .1l.5 .3l.5 .4l.5-.1l.5-.1l.5-.1l.5-.1l.5-.5l.5-.2l.5-.2l.5-.1l.5 0l.5 .1l.5 .2l.5 .3l.5 .5l.5 .9l.5 .7l.5-.2l.5-.1l.5 0l.5 0l.5-.1l.5-.6l.5-.4l.5-.2l.5-.1l.5-.1l.5 0l.5 .2l.5 .2l.5-.1l.5-.8l.5-.4l.5-.3l.5-.1l.5-.1l.5 0l.5 .1l.5 .2l.5 .3l.5 .4l.5 .6l.5 .4l.5 .2l.5-.1l.5 0l.5 .1l.5 .1l.5 .3l.5 .4l.5 .6l.5 .3l.5 .4l.5 .2l.5 .2l.5 .3l.5 .5l.5 .9l0 2.7l-.5 1.9l-.5 1.1l-.5 .8l-.5 .5l-.5 .3l-.5 .2l-.5 .1l-.5 0l-.5-.1l-.5-.1l-.5-.3l-.5-.4l-.5 .1l-.5 .1l-.5 0l-.5-.1l-.5-.2l-.5 .7l-.5 .4l-.5 .3l-.5 .1l-.5 .1l-.5 0l-.5-.1l-.5-.2l-.5-.3l-.5-.1l-.5-.3l-.5-.4l-.5-.6l-.5 .1l-.5 .6l-.5 .4l-.5 .3l-.5 .2l-.5 0l-.5 0l-.5-.1l-.5-.2l-.5-.3l-.5-.5l-.5-.7l-.5 .4l-.5 .2l-.5 .2l-.5 .1l-.5-.1l-.5-.1l-.5-.2l-.5 .2l-.5 .1l-.5 0l-.5-.1l-.5 0l-.5-.1l-.5 .4l-.5 .3l-.5 .2l-.5 .1l-.5 0l-.5 0l-.5-.2l-.5-.3l-.5-.4l-.5-.1l-.5 .3l-.5 .1l-.5 .1l-.5 0l-.5-.2l-.5-.2l-.5-.3l-.5-.1l-.5 .4l-.5 .2l-.5 .1l-.5 .1l-.5-.1l-.5-.1l-.5-.3l-.5-.1l-.5 0l-.5 0l-.5-.1l-.5-.2l-.5 .3l-.5 .2l-.5 0l-.5 0l-.5 0l-.5 0l-.5-.1l-.5-.2l-.5 .1l-.5 .9l-.5 .4l-.5 .4l-.5 .1l-.5 .1l-.5 0l-.5 0l-.5-.2l-.5-.3l-.5-.4l-.5-.7l-.5-.7l-.5 .3l-.5 .2l-.5 .1l-.5 0l-.5-.1l-.5 .3l-.5 .3l-.5 .2l-.5 .1l-.5 0l-.5 0l-.5-.2l-.5-.3l-.5 .7l-.5 .8l-.5 .5l-.5 .3l-.5 .2l-.5 .1l-.5 0l-.5-.1l-.5-.1l-.5-.3l-.5-.5l-.5-.7l-.5-1.3l-.5-.8l-.5-.1l-.5 1.4l-.5 .7l-.5 .4l-.5 .3l-.5 .1l-.5 .1l-.5 0l-.5-.1l-.5-.2l-.5-.3l-.5-.5l-.5-1l-.5-.6l-.5-.2l-.5 0l-.5-.1l-.5 .7l-.5 .5l-.5 .3l-.5 .2l-.5 .1l-.5 0l-.5-.1l-.5-.1l-.5-.3l-.5-.4l-.5-.1l-.5 .5l-.5 .3l-.5 .2l-.5 .1l-.5 0l-.5-.1l-.5-.2l-.5-.3l-.5-.3l-.5 .1l-.5 0l-.5-.1l-.5-.1l-.5-.3l-.5-.4l-.5 .1l-.5 .1l-.5 0l-.5 0l-.5-.1l-.5 .1l-.5 0l-.5 0l-.5-.1l-.5-.3l-.5-.3l-.5 .2l-.5 .4l-.5 .3l-.5 .1l-.5 .1l-.5 0l-.5-.1l-.5-.2l-.5 .8l-.5 .6l-.5 .3l-.5 .3l-.5 .1l-.5 0l-.5 0l-.5-.2l-.5-.2l-.5-.4l-.5-.5l-.5 0l-.5 .2l-.5 .1l-.5 0l-.5 0l-.5-.2l-.5-.3l-.5-.3l-.5 .1l-.5-.1l-.5-.1l-.5-.3l-.5 0l-.5 .1l-.5 .1l-.5 .2l-.5 .1l-.5 .1l-.5 0l-.5 0l-.5-.2l-.5-.2l-.5-.4l-.5 .1l-.5 .1l-.5 .1l-.5 0l-.5-.1l-.5-.2l-.5-.3l-.5-.2l-.5-.4l-.5-.3l-.5 .5l-.5 .3l-.5 .2l-.5 .1l-.5 0l-.5-.1l-.5-.2l-.5-.2l-.5 .6l-.5 .5l-.5 .2l-.5 .3l-.5 .5l-.5 .3l-.5 .2l-.5 .1l-.5 0l-.5-.1l-.5-.1l-.5-.3l-.5-.3l-.5-.2l-.5-.2l-.5-.3l-.5 .6l-.5 .4l-.5 .3l-.5 .2l-.5 0l-.5 0l-.5-.1l-.5 .1l-.5 .1l-.5 0l-.5-.1l-.5-.2l-.5-.3l-.5-.5l-.5-.3l-.5-.1l-.5 0l-.5 .1l-.5 .1l-.5 0l-.5-.1l-.5-.2l-.5 .6l-.5 .4l-.5 .3l-.5 .1l-.5 .1l-.5 0l-.5-.1l-.5-.2l-.5-.3l-.5-.5l-.5-1l-.5-.5l-.5 .3l-.5 .2l-.5 .2l-.5 0l-.5-.1l-.5-.1l-.5 .3l-.5 .3l-.5 .2l-.5 .2l-.5 .3l-.5 .2l-.5 0l-.5 0l-.5-.1l-.5-.2l-.5-.3l-.5 .1l-.5 .1l-.5-.1l-.5-.1l-.5-.2l-.5-.3l-.5-.5l-.5-.9l-.5 .2l-.5 .7l-.5 .4l-.5 .3l-.5 .2l-.5 0l-.5 0l-.5-.1l-.5-.2l-.5 .2l-.5 .9l-.5 .4l-.5 .3l-.5 .2l-.5 .1l-.5 0l-.5 0l-.5-.2l-.5-.3l-.5-.4l-.5-.6l-.5-.1l-.5 .1l-.5 .1l-.5-.1l-.5-.2l-.5-.1l-.5 0l-.5 .2l-.5 0l-.5 .2l-.5 .2l-.5 .1l-.5 0l-.5-.1l-.5-.1l-.5-.3l-.5 .5l-.5 .4l-.5 .2l-.5 .2l-.5 .5l-.5 .3l-.5 .2l-.5 .1l-.5 0l-.5-.1l-.5-.2l-.5-.2l-.5-.5l-.5-.7l-.5-.4l-.5 .4l-.5 .4l-.5 .2l-.5 .1l-.5 0l-.5 0l-.5 .1l-.5 0l-.5-.1l-.5-.1l-.5-.3l-.5 0l-.5 .2l-.5 .2l-.5 0l-.5 0l-.5-.2l-.5-.2l-.5-.4l-.5-.6l-.5-.7l-.5 .2l-.5 0l-.5 0l-.5-.2l-.5-.1l-.5 .3l-.5 .2l-.5 .1l-.5 0l-.5 0l-.5 0l-.5-.2l-.5-.2l-.5-.3l-.5-.2l-.5 0l-.5-.1l-.5-.1l-.5-.2l-.5-.2l-.5 .1l-.5-.1l-.5 .1l-.5 0l-.5 .7l-.5 .4l-.5 .3l-.5 .1l-.5 .1l-.5 0l-.5-.1l-.5-.2l-.5-.3l-.5 .5l-.5 .3l-.5 .3l-.5 .1l-.5 0l-.5 0l-.5-.1l-.5-.3l-.5-.3l-.5 0l-.5 .2l-.5 .1l-.5 0l-.5-.1l-.5-.2l-.5-.4l-.5 0l-.5 .2l-.5 .1l-.5 0l-.5-.1l-.5-.2l-.5-.2l-.5-.4l-.5-.1l-.5 .4l-.5 .2l-.5 .1l-.5 .1l-.5 1.2l-.5 .6l-.5 .4l-.5 .2l-.5 .1l-.5 .1l-.5-.1l-.5-.1l-.5-.2l-.5-.4l-.5-.6l-.5-.6l-.5-.2l-.5-.2l-.5-.5l-.5-.7l-.5-.4l-.5 .2l-.5 .5l-.5 .3l-.5 .2l-.5 .1l-.5 0l-.5-.1l-.5-.1l-.5-.3l-.5 .4l-.5 .9l-.5 .5l-.5 .3l-.5 .2l-.5 .1l-.5 0l-.5-.1l-.5-.1l-.5-.3l-.5-.4l-.5-.7l-.5-.9l-.5 1.4l-.5 .7l-.5 .4l-.5 .2l-.5 .2l-.5 .1l-.5 0l-.5-.1l-.5-.2l-.5-.3l-.5-.5l-.5-.3l-.5 0l-.5 0l-.5-.1l-.5-.3l-.5-.3l-.5-.6l-.5 .3l-.5 .3l-.5 .1l-.5 .1l-.5 0l-.5-.1l-.5-.2l-.5-.3l-.5-.2l-.5 .1l-.5 .1l-.5-.1l-.5 .1l-.5 .2l-.5 .1l-.5 .1l-.5-.1l-.5-.2l-.5-.2l-.5 .1l-.5 0l-.5-.1l-.5-.2l-.5-.3l-.5-.5l-.5-.2l-.5 .3l-.5 .2l-.5 .1l-.5 0l-.5-.1l-.5 .1l-.5 .1l-.5 0l-.5 .2l-.5 .3l-.5 .3l-.5 .2l-.5 .1l-.5 0l-.5-.1l-.5-.1l-.5-.3l-.5-.4l-.5 .1l-.5 .2l-.5 .1l-.5 0l-.5-.1l-.5-.1l-.5-.3l-.5-.4l-.5-.1l-.5 0l-.5 .3l-.5 .1l-.5 0l-.5 0l-.5-.1l-.5-.3l-.5-.3l-.5 .2l-.5 .1l-.5 .6l-.5 .5l-.5 .4l-.5 .2l-.5 .2l-.5 0l-.5 0l-.5-.2l-.5-.2l-.5-.4l-.5-.5l-.5-.7l-.5-.4l-.5-.4l-.5 .2l-.5 0l-.5 0l-.5-.1l-.5-.1l-.5-.3l-.5-.4l-.5-.7l-.5-1.1l-.5-1.7Z" fill="#ff7f0e"/>
<path d="M697.5 797.0l.5-.9l.5-2.3l.5-1.6l.5-.6l.5-.4l.5-.2l.5-.1l.5-.1l.5 .1l.5 .1l.5 .2l.5 .4l.5-1.2l.5-1.2l.5-.8l.5-.4l.5-.3l.5-.2l.5-.1l.5 0l.5 .1l.5 .2l.5 .3l.5 .4l.5 .8l.5 1.2l.5 0l.5-.9l.5-.7l.5-.4l.5-.2l.5-1l.5-.5l.5-.3l.5-.2l.5-.1l.5 0l.5 0l.5 .2l.5 .2l.5 .4l.5 .7l.5 1.5l.5 .6l.5-.4l.5-.3l.5-.2l.5-.1l.5 0l.5 .1l.5 .2l.5 .2l.5 .5l.5 .8l.5-.1l.5-.2l.5-.2l.5-.1l.5 .1l.5 .1l.5 .2l.5 .3l.5 .5l.5 .5l.5-.3l.5-.2l.5-.8l.5-.5l.5-.3l.5-.2l.5-.2l.5 0l.5 .1l.5 .1l.5 .3l.5 .1l.5-.2l.5-.1l.5-.3l.5-.3l.5-.2l.5-.1l.5 0l.5 .1l.5 .2l.5 .3l.5 .4l.5 .7l.5 0l.5 0l.5 .2l.5 0l.5-.4l.5-.2l.5-.1l.5 0l.5 .1l.5 .1l.5 .3l.5 .4l.5-.1l.5-.1l.5-1.6l.5-.6l.5-.4l.5-.2l.5-.1l.5-.1l.5 .1l.5 .1l.5 .2l.5 0l.5 0l.5 .1l.5 .2l.5 .3l.5 .2l.5 .1l.5 .1l.5 .2l.5 .1l.5-.1l.5 0l.5 0l.5 .2l.5 .2l.5 .4l.5 .7l.5 0l.5-.2l.5-.1l.5 0l.5 .1l.5 .2l.5 .3l.5 .4l.5 .6l.5 .2l.5 .3l.5-.5l.5-1l.5-.6l.5-.3l.5-.2l.5-.1l.5 0l.5 0l.5 .2l.5 .2l.5 .4l.5 .3l.5-.1l.5-.1l.5 0l.5 .1l.5 0l.5-.3l.5-.2l.5 0l.5 0l.5 0l.5 .2l.5 .3l.5 .4l.5 .4l.5 .1l.5 .3l.5 .1l.5-.1l.5 0l.5 .1l.5 0l.5 0l.5 .1l.5-.1l.5 0l.5 0l.5 .2l.5-.2l.5-.2l.5-.1l.5-.1l.5 0l.5 .2l.5 .2l.5-.3l.5-1.2l.5-.8l.5-.5l.5-.3l.5-.1l.5-.1l.5 0l.5 .1l.5 .1l.5 .3l.5 .5l.5 .7l.5 .5l.5 .3l.5-.1l.5-.1l.5-.1l.5-.3l.5-.8l.5-.5l.5-.3l.5-.1l.5-.1l.5 0l.5 0l.5 .2l.5 .3l.5-.4l.5-.2l.5-.1l.5-.1l.5 .1l.5 .1l.5 .2l.5 .4l.5 .5l.5 0l.5 .2l.5 .2l.5 .4l.5 .7l.5 1.5l.5 .6l.5 0l.5-.9l.5-1.6l.5-.6l.5-.4l.5-.2l.5-.1l.5-.1l.5-.2l.5-.2l.5-.1l.5 .1l.5 .1l.5-.4l.5-.2l.5-.2l.5-.1l.5 .1l.5 .1l.5 .2l.5 .3l.5 .5l.5-.3l.5-.3l.5-.2l.5-.1l.5 0l.5 .1l.5 .2l.5 .3l.5 .4l.5 .8l.5 0l.5 .2l.5 0l.5-.2l.5-.1l.5 0l.5 0l.5 .2l.5 .2l.5 .4l.5-.1l.5-.4l.5-.2l.5-.1l.5-.1l.5 .1l.5 .1l.5 0l.5-1.4l.5-.7l.5-.4l.5-.3l.5-.2l.5-.2l.5-.5l.5-.3l.5-.1l.5-.1l.5 0l.5 0l.5 .2l.5 .3l.5 .4l.5 .7l.5 .1l.5 .2l.5 .4l.5 .6l.5 1.2l.5 .4l.5 .8l.5 .3l.5 0l.5-.2l.5-.2l.5 0l.5 0l.5-.3l.5-1l.5-.6l.5-.3l.5-.2l.5-.1l.5 0l.5 0l.5 .2l.5 .2l.5 .4l.5 .7l.5 .9l.5 .2l.5-.2l.5 0l.5 0l.5 .1l.5 .3l.5 .3l.5 .2l.5-.1l.5-.8l.5-.5l.5-.3l.5-.2l.5-.1l.5 0l.5 .1l.5 .2l.5 0l.5-.2l.5-.1l.5 0l.5 0l.5 .1l.5 .1l.5 .3l.5 .4l.5 .8l.5 .4l.5-.4l.5-.3l.5-.2l.5-.2l.5 0l.5 0l.5 .1l.5 0l.5-.7l.5-.5l.5-.4l.5-.2l.5-.7l.5-.5l.5-.4l.5-.2l.5-.1l.5 0l.5 0l.5 .2l.5 .2l.5 .4l.5 .7l.5 1.3l.5 .4l.5 .3l.5 .2l.5-.2l.5 0l.5 0l.5-.2l.5-.1l.5-.1l.5 0l.5 .1l.5-.3l.5-.7l.5-.4l.5-.2l.5-.2l.5-.1l.5 0l.5 .1l.5 .2l.5 .4l.5 .4l.5 1l.5 .1l.5-.2l.5-.1l.5 0l.5 .1l.5 .2l.5 .3l.5 0l.5-.1l.5-.1l.5 0l.5-2l.5-1.1l.5-.8l.5-.5l.5-.3l.5-.2l.5-.1l.5 0l.5 .1l.5 .2l.5 .2l.5 .5l.5 .7l.5 1.3l.5 2.1l.5-.4l.5-.5l.5-.3l.5-.1l.5-.4l.5-.5l.5-.2l.5-.2l.5-.1l.5 .1l.5 .1l.5 .2l.5 .3l.5 .5l.5 .9l.5 .6l.5 .1l.5 .1l.5-.1l.5 .1l.5 .1l.5-.3l.5-.2l.5-.2l.5-.2l.5-.1l.5 0l.5 .1l.5 .1l.5-.5l.5-.3l.5-.2l.5-.2l.5-1.1l.5-.5l.5-.3l.5-.2l.5-.2l.5 0l.5 .1l.5 .1l.5 .3l.5 .4l.5-.6l.5-.3l.5-.3l.5-.1l.5-.1l.5 .1l.5 .1l.5 .2l.5 .4l.5 .5l.5 1.1l.5-.4l.5-.2l.5-.2l.5 0l.5 0l.5 .1l.5 .2l.5-.8l.5-.5l.5-.3l.5-.3l.5-.1l.5 0l.5 .1l.5 .1l.5 .2l.5 .4l.5 .7l.5 1l.5-.2l.5-.1l.5 0l.5 .1l.5 .2l.5 .3l.5 .4l.5-.1l.5 0l.5 0l.5 .1l.5 .2l.5 .4l.5 .5l.5 .5l.5-.7l.5-.7l.5-1.1l.5-.5l.5-.3l.5-.2l.5-.2l.5 0l.5 .1l.5 .1l.5 .3l.5 0l.5-.6l.5-.3l.5-.2l.5-.1l.5-.1l.5 .1l.5 .1l.5 .3l.5 .4l.5 .6l.5 1.5l.5 2l.5 0l.5 0l.5 .1l.5-.9l.5-.6l.5-.4l.5-.3l.5-.1l.5-.1l.5-.6l.5-.4l.5-.2l.5-.1l.5-.1l.5 0l.5 .2l.5 .2l.5 .3l.5 .6l.5-.2l.5-.1l.5-.1l.5 0l.5 .2l.5 .2l.5 .3l.5 .6l.5-.5l.5-.4l.5-.2l.5-.1l.5-.5l.5-.5l.5-.3l.5-.2l.5-.1l.5 0l.5 .1l.5 .2l.5 .3l.5 .4l.5 .7l.5 1.3l.5 .7l.5-.6l.5-1.6l.5-.6l.5-.4l.5-.2l.5-.2l.5 0l.5 0l.5 .1l.5 .2l.5 .4l.5 .5l.5 1.2l.5 .6l.5 .5l.5 .1l.5 0l.5 .1l.5 .2l.5 0l.5 .1l.5 .2l.5-2.7l.5-.7l.5-1.1l.5-.5l.5-.4l.5-.2l.5-.1l.5 0l.5 0l.5 .2l.5 .2l.5 .4l.5 .6l.5 1.4l.5 .1l.5 .3l.5 .4l.5 .7l.5 .8l.5 .7l.5 .6l.5-.1l.5 .1l.5-2.1l.5-1.4l.5-.7l.5-.4l.5-.3l.5-.1l.5-.1l.5-.2l.5-.2l.5-.1l.5 0l.5 .1l.5 .1l.5 .3l.5 .4l.5 .8l.5 .9l.5 .1l.5 .2l.5 .3l.5 .5l.5 .8l.5 .2l.5-.4l.5-.3l.5-.2l.5-.3l.5-.2l.5-.4l.5-.9l.5-.5l.5-.3l.5-.2l.5 0l.5-.1l.5 .1l.5 .2l.5 .3l.5 .4l.5 .7l.5 1.2l.5 .3l.5 .4l.5-.2l.5 0l.5 0l.5 0l.5 0l.5 0l.5 .1l.5-.6l.5-1.2l.5-.5l.5-.4l.5-.2l.5-.1l.5 0l.5 0l.5 .2l.5 .1l.5-.6l.5-.3l.5-.2l.5-.1l.5-.1l.5 .1l.5 .1l.5 .3l.5 .4l.5 .6l.5 .2l.5 .1l.5 .3l.5 .4l.5 .6l.5 0l.5-.2l.5 0l.5 0l.5-.3l.5-.2l.5-.2l.5-.1l.5 0l.5 0l.5-.2l.5-.1l.5 0l.5 .1l.5 .2l.5 .2l.5 0l.5-.1l.5-.1l.5-.1l.5-.4l.5-.2l.5-.2l.5 0l.5 0l.5 .1l.5 .2l.5 .4l.5 .5l.5 1.1l.5 .7l.5-.3l.5-.5l.5-.8l.5-.6l.5-.4l.5-.3l.5-.1l.5-.1l.5 .1l.5 .1l.5 .2l.5 .3l.5 .6l.5-.2l.5-.3l.5-.1l.5-.1l.5 .1l.5 .1l.5 .2l.5-.3l.5-.1l.5-.1l.5 0l.5 .1l.5 .2l.5 .3l.5 .5l.5 .8l.5-.1l.5-.1l.5-.1l.5 0l.5-.1l.5-.3l.5-.1l.5 0l.5 0l.5 .2l.5 .2l.5 .4l.5 .6l.5 .1l.5 0l.5 .2l.5 .2l.5-.1l.5-.2l.5-.1l.5 0l.5 0l.5 .2l.5 .3l.5-.3l.5-.3l.5-.2l.5 0l.5 0l.5 .1l.5 .2l.5-1.4l.5-1.5l.5-.6l.5-.4l.5-.3l.5-.1l.5-.1l.5 .1l.5-.1l.5-.1l.5 0l.5 .1l.5 .2l.5 .3l.5 .5l.5 .8l.5 1.1l.5 .5l.5 .4l.5 .9l.5 1.1l.5 1.5l.5 1.1l0 10.5l-.5 1.4l-.5 .7l-.5 .4l-.5 .3l-.5 .2l-.5 0l-.5 0l-.5-.1l-.5-.2l-.5-.3l-.5 0l-.5 .2l-.5 .1l-.5 0l-.5 0l-.5-.2l-.5 0l-.5 0l-.5 0l-.5-.2l-.5-.2l-.5-.4l-.5-.2l-.5-.2l-.5-.1l-.5 0l-.5-.1l-.5-.2l-.5-.3l-.5 .3l-.5 .7l-.5 1.1l-.5 .5l-.5 .3l-.5 .3l-.5 .1l-.5 0l-.5-.1l-.5-.1l-.5-.2l-.5-.4l-.5-.7l-.5-.4l-.5-.3l-.5-.5l-.5-.5l-.5 0l-.5 0l-.5-.1l-.5 .5l-.5 .5l-.5 .3l-.5 .2l-.5 .1l-.5 0l-.5-.1l-.5-.2l-.5 .4l-.5 .3l-.5 .2l-.5 .1l-.5 0l-.5-.1l-.5-.2l-.5 .5l-.5 .5l-.5 .4l-.5 .2l-.5 .1l-.5 0l-.5 0l-.5-.2l-.5-.2l-.5-.4l-.5-.6l-.5-.2l-.5 .2l-.5 .1l-.5 0l-.5 0l-.5-.2l-.5-.2l-.5 .3l-.5 .5l-.5 .2l-.5 .2l-.5 .1l-.5 0l-.5-.1l-.5-.2l-.5-.3l-.5-.5l-.5-.8l-.5-.1l-.5 .2l-.5 0l-.5-.1l-.5-.1l-.5-.3l-.5-.3l-.5-.7l-.5-.3l-.5 .3l-.5 .1l-.5 0l-.5 0l-.5-.2l-.5 .8l-.5 .5l-.5 .4l-.5 .2l-.5 .1l-.5 .1l-.5-.1l-.5-.1l-.5-.3l-.5-.4l-.5-.3l-.5 .3l-.5 .2l-.5 0l-.5 .3l-.5 .4l-.5 .3l-.5 .2l-.5 .1l-.5 0l-.5-.1l-.5-.2l-.5-.3l-.5-.5l-.5-.9l-.5 0l-.5-.1l-.5 .6l-.5 .4l-.5 .3l-.5 .3l-.5 1.3l-.5 .8l-.5 .4l-.5 .3l-.5 .1l-.5 .1l-.5 0l-.5-.1l-.5-.2l-.5-.3l-.5-.5l-.5-.9l-.5-1l-.5 .4l-.5 .9l-.5 .5l-.5 .3l-.5 .2l-.5 0l-.5 .1l-.5-.1l-.5-.2l-.5-.3l-.5-.4l-.5-.7l-.5-1.3l-.5-1.9l-.5-.5l-.5 0l-.5-.1l-.5 .7l-.5 .5l-.5 .3l-.5 .2l-.5 .1l-.5 0l-.5-.1l-.5-.1l-.5-.3l-.5-.4l-.5-.6l-.5 2.8l-.5 1.5l-.5 .7l-.5 .4l-.5 .2l-.5 .1l-.5 .1l-.5 0l-.5-.2l-.5-.2l-.5-.3l-.5-.6l-.5-.4l-.5 .1l-.5 .3l-.5 .2l-.5 .1l-.5 0l-.5-.1l-.5-.1l-.5-.3l-.5-.4l-.5-.6l-.5-.1l-.5 0l-.5-.2l-.5 0l-.5-.1l-.5-.1l-.5-.3l-.5-.4l-.5-.2l-.5 .1l-.5 0l-.5-.2l-.5 0l-.5 0l-.5-.1l-.5-.2l-.5 .1l-.5 .2l-.5 1l-.5 .6l-.5 .4l-.5 .2l-.5 .2l-.5 0l-.5 0l-.5-.1l-.5-.3l-.5-.3l-.5-.4l-.5 .1l-.5 0l-.5-.1l-.5-.2l-.5-.2l-.5-.5l-.5-.7l-.5 .7l-.5 1.3l-.5 .8l-.5 .4l-.5 .3l-.5 .1l-.5 .1l-.5 0l-.5-.1l-.5-.2l-.5-.3l-.5-.5l-.5-.2l-.5-.4l-.5-.6l-.5 1.2l-.5 .6l-.5 .4l-.5 .3l-.5 .1l-.5 .1l-.5-.1l-.5-.1l-.5-.2l-.5-.3l-.5-.6l-.5-1.1l-.5-.6l-.5-.3l-.5 .1l-.5 0l-.5-.1l-.5-.2l-.5-.3l-.5 .4l-.5 .9l-.5 1.3l-.5 .7l-.5 .5l-.5 .3l-.5 .1l-.5 .1l-.5 0l-.5-.1l-.5-.2l-.5-.3l-.5-.5l-.5-.8l-.5-1.1l-.5-2.2l-.5 .4l-.5 .3l-.5 .2l-.5 .1l-.5 0l-.5-.1l-.5-.2l-.5-.3l-.5-.5l-.5 .2l-.5 .3l-.5 .2l-.5 .1l-.5 .1l-.5-.1l-.5-.1l-.5-.2l-.5-.4l-.5 .9l-.5 .6l-.5 .4l-.5 .2l-.5 .2l-.5 0l-.5 0l-.5-.1l-.5-.2l-.5-.3l-.5-.1l-.5 .1l-.5 .2l-.5 .1l-.5 0l-.5-.1l-.5-.2l-.5-.2l-.5-.4l-.5 0l-.5 .6l-.5 .3l-.5 .2l-.5 .2l-.5 0l-.5 0l-.5-.2l-.5-.2l-.5-.3l-.5 .3l-.5 .1l-.5 0l-.5 .4l-.5 .3l-.5 .1l-.5 .1l-.5 0l-.5 .5l-.5 .6l-.5 .4l-.5 .3l-.5 .1l-.5 .1l-.5-.1l-.5-.1l-.5-.2l-.5-.3l-.5-.6l-.5-1l-.5-.7l-.5-.3l-.5-.1l-.5-.2l-.5 0l-.5 .2l-.5 .1l-.5 0l-.5 0l-.5-.2l-.5-.3l-.5-.1l-.5 .5l-.5 .3l-.5 .1l-.5 .1l-.5 0l-.5-.1l-.5-.2l-.5-.1l-.5 .2l-.5 .2l-.5 .2l-.5 .1l-.5 0l-.5 0l-.5 0l-.5-.1l-.5-.1l-.5 0l-.5-.1l-.5-.2l-.5-.4l-.5-.5l-.5-.1l-.5 0l-.5 0l-.5-.1l-.5-.2l-.5 .2l-.5 .1l-.5 .1l-.5-.1l-.5-.1l-.5 .1l-.5 .1l-.5 .1l-.5 0l-.5-.1l-.5 .3l-.5 .2l-.5 .1l-.5 0l-.5 .5l-.5 .9l-.5 .5l-.5 .3l-.5 .2l-.5 .1l-.5 0l-.5-.1l-.5-.1l-.5-.3l-.5-.4l-.5-.7l-.5-1.4l-.5-.5l-.5-.1l-.5-.1l-.5-.3l-.5-.2l-.5-.2l-.5-.4l-.5-.2l-.5 0l-.5-.1l-.5-.1l-.5 1.1l-.5 1l-.5 .9l-.5 .5l-.5 .3l-.5 .2l-.5 .1l-.5 0l-.5 0l-.5-.2l-.5-.2l-.5 .6l-.5 .3l-.5 .2l-.5 .2l-.5 0l-.5 0l-.5-.2l-.5-.2l-.5-.4l-.5 .1l-.5 .1l-.5 .1l-.5 0l-.5-.1l-.5-.2l-.5-.3l-.5 .2l-.5 .4l-.5 .3l-.5 .2l-.5 0l-.5 0l-.5-.1l-.5-.1l-.5-.3l-.5-.5l-.5-.8l-.5-1.2l-.5 .4l-.5 .3l-.5 .2l-.5 .1l-.5 0l-.5 .1l-.5 .7l-.5 .4l-.5 .2l-.5 .2l-.5 0l-.5 0l-.5-.1l-.5-.2l-.5-.4l-.5-.5l-.5-1l-.5-.8l-.5-.4l-.5 0l-.5-.1l-.5-.3l-.5 0l-.5-.1l-.5-.1l-.5 0l-.5 1l-.5 .6l-.5 .4l-.5 .3l-.5 .8l-.5 1l-.5 .9l-.5 .5l-.5 .3l-.5 .2l-.5 .1l-.5 0l-.5 0l-.5-.2l-.5-.3l-.5-.4l-.5-.7l-.5-1.4l-.5-.9l-.5-.1l-.5-.2l-.5-.3l-.5-.4l-.5-.8l-.5 .2l-.5 .4l-.5 .2l-.5 .9l-.5 .8l-.5 .4l-.5 .3l-.5 .2l-.5 .1l-.5 0l-.5-.1l-.5-.2l-.5-.3l-.5-.5l-.5-.8l-.5 .1l-.5 .2l-.5 .2l-.5 .2l-.5 .1l-.5 0l-.5-.1l-.5-.2l-.5-.3l-.5-.5l-.5 .4l-.5 .2l-.5 .1l-.5 .1l-.5-.1l-.5-.1l-.5 .2l-.5 .2l-.5 0l-.5 0l-.5-.2l-.5-.2l-.5-.4l-.5-.4l-.5 .4l-.5 .3l-.5 .1l-.5 .1l-.5 0l-.5-.1l-.5 .3l-.5 .2l-.5 .1l-.5 0l-.5 0l-.5-.2l-.5-.2l-.5-.5l-.5-.6l-.5-.3l-.5 .2l-.5 .1l-.5 .1l-.5-.1l-.5-.1l-.5-.2l-.5 .2l-.5 .1l-.5 0l-.5 0l-.5 .1l-.5 0l-.5-.2l-.5-.2l-.5-.3l-.5 .9l-.5 1.4l-.5 .7l-.5 .4l-.5 .2l-.5 .2l-.5 .1l-.5-.1l-.5-.1l-.5-.2l-.5-.3l-.5-.5l-.5-.2l-.5 .8l-.5 .4l-.5 .3l-.5 .2l-.5 0l-.5 0l-.5-.1l-.5-.1l-.5-.3l-.5-.5l-.5-.3l-.5-.3l-.5-.4l-.5-.7l-.5-.4l-.5 .3l-.5 .1l-.5 .1l-.5 0l-.5-.1l-.5-.2l-.5 0l-.5 .2l-.5 .1l-.5 0l-.5-.1l-.5-.1l-.5 0l-.5 .2l-.5 0l-.5 0l-.5-.2l-.5-.2l-.5 0l-.5 .1l-.5 .1l-.5-.1l-.5 .5l-.5 .4l-.5 .2l-.5 .1l-.5 .1l-.5-.1l-.5-.1l-.5-.2l-.5-.4l-.5 .1l-.5 0l-.5 0l-.5-.1l-.5-.2l-.5-.2l-.5 0l-.5 .2l-.5 1.2l-.5 .8l-.5 .4l-.5 .3l-.5 .2l-.5 .1l-.5-.1l-.5 0l-.5-.2l-.5-.3l-.5-.5l-.5-.8l-.5-1.1l-.5 .8l-.5 1l-.5 .5l-.5 .3l-.5 .2l-.5 .1l-.5 0l-.5-.1l-.5-.1l-.5-.3l-.5-.4l-.5-.7l-.5-1.4l-.5-1.3l-.5 .2l-.5 .2l-.5 0l-.5 0l-.5-.1l-.5-.2l-.5-.3l-.5-.5l-.5-.3l-.5-.4l-.5 .1l-.5 .6l-.5 .4l-.5 .3l-.5 .2l-.5 .1l-.5 0l-.5-.1l-.5-.2l-.5 .5l-.5 .6l-.5 .4l-.5 .3l-.5 .1l-.5 .1l-.5 0l-.5-.1l-.5-.2l-.5-.4l-.5-.3l-.5-.1l-.5-.2l-.5-.3l-.5-.4l-.5 .6l-.5 .4l-.5 .2l-.5 .2l-.5 .1l-.5-.1l-.5-.1l-.5-.2l-.5-.3l-.5-.5l-.5-.9l-.5-.2l-.5-.5l-.5 0l-.5 1.5l-.5 .6l-.5 .3l-.5 .2l-.5 .2l-.5 0l-.5 0l-.5-.2l-.5 1.2l-.5 .7l-.5 .5l-.5 .3l-.5 .2l-.5 0l-.5 0l-.5 0l-.5-.2l-.5-.3l-.5-.5l-.5-.8l-.5-1.1l-.5-1.1l-.5 .3l-.5 .2l-.5 .7l-.5 .7l-.5 .4l-.5 .3l-.5 .1l-.5 .1l-.5 0l-.5-.1l-.5-.2l-.5-.4l-.5-.4l-.5-.6l-.5 .3l-.5 .6l-.5 .3l-.5 .2l-.5 .1l-.5 0l-.5-.1l-.5-.1l-.5-.2l-.5-.4l-.5-.6l-.5-.1l-.5 0l-.5 0l-.5-.2l-.5 .2l-.5 .8l-.5 1.5l-.5 .7l-.5 .4l-.5 .2l-.5 .2l-.5 0l-.5 0l-.5-.1l-.5-.2l-.5-.3l-.5-.5l-.5-1l-.5-.9l-.5-1.2l-.5-.1l-.5 .2l-.5 .2l-.5 .1l-.5-.1l-.5-.1l-.5-.2l-.5-.2l-.5-.2l-.5-.4l-.5-.7l-.5-1.5Z" fill="#2ca02c"/>
<line x1="680.9" y1="646.9" x2="1120.4" y2="646.9" stroke="#808080" stroke-width="5.7" stroke-dasharray="22.5 10.200000000000003"/>
<rect x="680.9" y="611.9" width="439.5" height="327.4" fill="none" stroke="#000" stroke-width="1.05"/>
<path d="M700.8 939.3v4.5M800.85 939.3v4.5M900.9 939.3v4.5M1000.95 939.3v4.5M1101 939.3v4.5M680.9 862.1h-4.5M680.9 778.3h-4.5M680.9 694.5h-4.5" stroke="#000" stroke-width="1.05"/>
<rect x="901.1" y="797.7" width="204.9" height="127.1" rx="3.5" fill="#fff" fill-opacity="0.8" stroke="#cccccc" stroke-opacity="0.8" stroke-width="1.05"/>
<line x1="908.6" y1="819.6" x2="968.5" y2="819.6" stroke="#1f77b4" stroke-width="6.0"/>
<line x1="908.6" y1="859.8" x2="968.5" y2="859.8" stroke="#ff7f0e" stroke-width="6.0"/>
<line x1="908.6" y1="900" x2="968.5" y2="900" stroke="#2ca02c" stroke-width="6.0"/>
<text transform="translate(0,604.30) scale(0.9563,1)" x="867.77 891.29 901.72 901.72 942.06" y="0" font-size="34.203" font-family='"Liberation Sans", sans-serif'>BIM B</text>
<text transform="translate(0,604.30) scale(1.2382,1)" x="746.67" y="0" font-size="34.203" font-family='"Liberation Sans", sans-serif'>=</text>
<text transform="translate(0,604.30) scale(1.0230,1)" x="929.98" y="0" font-size="34.203" font-family='"Liberation Sans", sans-serif'>8</text>
<text transform="translate(0,608.30) scale(0.9958,1)" x="683.74 700.88" y="0" font-size="28.406" font-family='"Liberation Sans", sans-serif'>1e</text>
<text transform="translate(0,608.30) scale(1.2234,1)" x="584.68" y="0" font-size="28.406" font-family='"Liberation Sans", sans-serif'>−</text>
<text transform="translate(0,608.30) scale(0.9575,1)" x="770.40" y="0" font-size="28.406" font-family='"Liberation Sans", sans-serif'>1</text>
<text transform="translate(643.90,0) rotate(-90) scale(0.9828,1)" x="-943.67 -934.79 -917.95 -902.46 -893.60 -875.31 -857.30 -848.44 -830.15 -813.04 -796.10 -778.98 -762.01 -762.01 -739.59 -719.62 -702.23 -681.23 -662.38 -651.92" y="0" font-size="28.696" font-family='"Liberation Sans", sans-serif'>Instantaneous Reward</text>
<text transform="translate(655.97,704.2) scale(0.9931,1)" font-size="28.406" font-family='"Liberation Sans", sans-serif' fill="#000">3</text>
<text transform="translate(655.35,788) scale(1.0213,1)" font-size="28.406" font-family='"Liberation Sans", sans-serif' fill="#000">2</text>
<text transform="translate(655.46,871.8) scale(1.0035,1)" font-size="28.406" font-family='"Liberation Sans", sans-serif' fill="#000">1</text>
<text transform="translate(0,968.30) scale(1.0431,1)" x="643.49 659.68 668.20 684.70" y="0" font-size="27.391" font-family='"Liberation Sans", sans-serif'>0.00</text>
<text transform="translate(0,968.30) scale(1.0231,1)" x="754.06 770.62 779.14 796.40" y="0" font-size="27.391" font-family='"Liberation Sans", sans-serif'>0.25</text>
<text transform="translate(0,968.30) scale(1.0260,1)" x="849.41 865.80 874.44 891.31" y="0" font-size="27.391" font-family='"Liberation Sans", sans-serif'>0.50</text>
<text transform="translate(0,968.30) scale(1.0254,1)" x="947.57 964.10 972.91 989.82" y="0" font-size="27.391" font-family='"Liberation Sans", sans-serif'>0.75</text>
<text transform="translate(0,968.30) scale(1.0511,1)" x="1018.15 1034.65 1043.34 1060.06" y="0" font-size="27.391" font-family='"Liberation Sans", sans-serif'>1.00</text>
<text transform="translate(0,1000.70) scale(1.0145,1)" x="810.83 828.12 835.87 860.79 876.96 886.35 901.36 910.69 927.39" y="0" font-size="28.986" font-family='"Liberation Sans", sans-serif'>Time-step</text>
<text transform="translate(966.93,1000.61) scale(1.1844,1)" font-size="29.394" font-family='"Liberation Sans", sans-serif' font-style="italic">t</text>
<text transform="translate(0,998.70) scale(1.0330,1)" x="1035.38 1052.07 1068.54" y="0" font-size="27.246" font-family='"Liberation Sans", sans-serif'>1e5</text>
<text transform="translate(863.91,1056.48) scale(0.8404,1)" font-size="34.066" font-family='"Liberation Serif", serif' stroke="#fff" stroke-width="0.35">(</text>
<text transform="translate(873.99,1056.39) scale(1.1159,1)" font-size="30.922" font-family='"Liberation Serif", serif' stroke="#fff" stroke-width="0.35">d</text>
<text transform="translate(892.96,1056.48) scale(0.8242,1)" font-size="34.066" font-family='"Liberation Serif", serif' stroke="#fff" stroke-width="0.35">)</text>
<text transform="translate(0,829.50) scale(0.9148,1)" x="1078.68 1099.99 1109.60 1128.84 1146.30 1167.61 1178.41" y="0" font-size="28.841" font-family='"Liberation Sans", sans-serif'>C-ETC-K</text>
<text transform="translate(0,869.00) scale(0.9213,1)" x="1071.19 1092.46 1102.09 1121.32 1138.78 1160.05 1169.47" y="0" font-size="28.696" font-family='"Liberation Sans", sans-serif'>C-ETC-Y</text>
<text transform="translate(987.68,908.82) scale(0.9591,1)" font-size="28.310" font-family='"Liberation Sans", sans-serif'>OG</text>
<text transform="translate(1030.18,899.01) scale(1.0592,1)" font-size="19.455" font-family='"Liberation Sans", sans-serif' font-style="italic">o</text>
</svg></body></html>
